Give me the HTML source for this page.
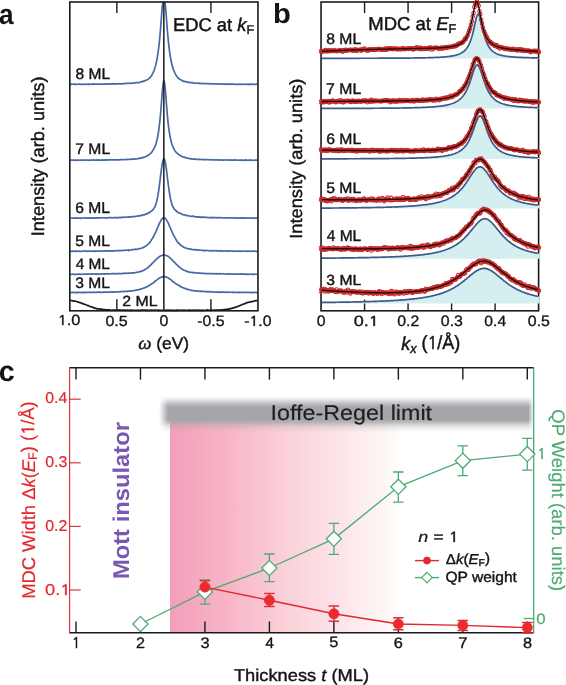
<!DOCTYPE html>
<html><head><meta charset="utf-8"><title>Figure</title>
<style>html,body{margin:0;padding:0;background:#fff;width:566px;height:685px;overflow:hidden}svg{display:block}</style></head>
<body><svg width="566" height="685" viewBox="0 0 566 685" font-family="'Liberation Sans', Arial, Helvetica, sans-serif" fill="#1a1a1a" text-rendering="geometricPrecision">
<rect width="566" height="685" fill="#fff"/>
<path d="M70.3,84.54 L70.93,83.99 L71.55,84.34 L72.18,84.22 L72.8,84.23 L73.43,84.26 L74.06,84.04 L74.68,84.25 L75.31,84.17 L75.93,84.67 L76.56,84.3 L77.19,84.23 L77.81,84.23 L78.44,84.18 L79.06,84.13 L79.69,84.21 L80.31,84.31 L80.94,84.22 L81.57,84.36 L82.19,84.22 L82.82,84.25 L83.44,84.43 L84.07,84.3 L84.7,84.17 L85.32,84.21 L85.95,84.29 L86.57,84.46 L87.2,84.19 L87.83,84.19 L88.45,84.33 L89.08,84.1 L89.7,84.17 L90.33,84.3 L90.96,84.26 L91.58,84.2 L92.21,84.27 L92.83,83.84 L93.46,84.3 L94.08,84.06 L94.71,83.97 L95.34,84.19 L95.96,84.24 L96.59,84.1 L97.21,84.02 L97.84,84.14 L98.47,84.13 L99.09,84.3 L99.72,84.21 L100.34,84.14 L100.97,84.24 L101.6,84.08 L102.22,83.98 L102.85,84.16 L103.47,84.15 L104.1,84.04 L104.73,83.97 L105.35,84.08 L105.98,83.75 L106.6,84.12 L107.23,84.09 L107.86,83.82 L108.48,84.02 L109.11,83.88 L109.73,84.08 L110.36,83.73 L110.98,83.86 L111.61,84.04 L112.24,84.08 L112.86,83.67 L113.49,83.86 L114.11,83.94 L114.74,83.82 L115.37,84.07 L115.99,83.72 L116.62,83.89 L117.24,83.7 L117.87,83.98 L118.5,83.79 L119.12,83.73 L119.75,83.55 L120.37,83.94 L121,83.8 L121.63,83.78 L122.25,83.81 L122.88,83.69 L123.5,83.54 L124.13,83.5 L124.76,83.47 L125.38,83.7 L126.01,83.33 L126.63,83.41 L127.26,83.41 L127.88,83.44 L128.51,83.44 L129.14,83.18 L129.76,83.09 L130.39,83.25 L131.01,83.35 L131.64,83.25 L132.27,83.13 L132.89,83.01 L133.52,83.03 L134.14,82.91 L134.77,82.97 L135.4,82.71 L136.02,82.74 L136.65,82.64 L137.27,82.63 L137.9,82.5 L138.53,82.69 L139.15,82.46 L139.78,82.34 L140.4,81.8 L141.03,81.87 L141.65,81.7 L142.28,81.68 L142.91,81.17 L143.53,81.4 L144.16,81.18 L144.78,80.67 L145.41,80.46 L146.04,80.2 L146.66,79.99 L147.29,79.7 L147.91,79.47 L148.54,78.75 L149.17,78.34 L149.79,77.67 L150.42,77.19 L151.04,76.28 L151.67,75.46 L152.3,74.14 L152.92,73.05 L153.55,71.61 L154.17,70.3 L154.8,68.37 L155.43,66.14 L156.05,63.66 L156.68,60.91 L157.3,57.43 L157.93,53.49 L158.55,49.08 L159.18,43.96 L159.81,37.41 L160.43,30.25 L161.06,22.27 L161.68,13.92 L162.31,6.13 L162.94,2.8 L163.56,2.8 L164.19,2.8 L164.81,2.8 L165.44,5.49 L166.07,13.23 L166.69,21.69 L167.32,29.73 L167.94,36.81 L168.57,43.15 L169.2,48.53 L169.82,53.22 L170.45,57.32 L171.07,60.55 L171.7,63.48 L172.32,66.09 L172.95,68.21 L173.58,70.19 L174.2,71.34 L174.83,73.08 L175.45,74.12 L176.08,75.24 L176.71,76.23 L177.33,77.05 L177.96,77.73 L178.58,78.22 L179.21,78.92 L179.84,79.16 L180.46,79.58 L181.09,80.05 L181.71,80.21 L182.34,80.82 L182.97,80.93 L183.59,81.3 L184.22,81.24 L184.84,81.39 L185.47,81.62 L186.1,81.85 L186.72,81.83 L187.35,82.08 L187.97,82.15 L188.6,82.46 L189.22,82.29 L189.85,82.59 L190.48,82.48 L191.1,82.53 L191.73,82.64 L192.35,82.65 L192.98,82.88 L193.61,83.05 L194.23,83.01 L194.86,83.12 L195.48,83.3 L196.11,83.19 L196.74,83.23 L197.36,83.21 L197.99,83.1 L198.61,83.42 L199.24,83.16 L199.87,83.49 L200.49,83.44 L201.12,83.61 L201.74,83.5 L202.37,83.44 L202.99,83.61 L203.62,83.53 L204.25,83.6 L204.87,83.65 L205.5,83.65 L206.12,83.67 L206.75,83.61 L207.38,83.71 L208,83.5 L208.63,83.75 L209.25,83.65 L209.88,83.94 L210.51,83.98 L211.13,83.61 L211.76,83.88 L212.38,83.86 L213.01,83.76 L213.64,83.97 L214.26,83.86 L214.89,83.72 L215.51,83.91 L216.14,83.94 L216.77,83.98 L217.39,83.83 L218.02,84.06 L218.64,84.09 L219.27,83.87 L219.89,83.94 L220.52,84.02 L221.15,83.97 L221.77,84.25 L222.4,84.08 L223.02,83.94 L223.65,83.98 L224.28,84.07 L224.9,84.36 L225.53,84.07 L226.15,84.11 L226.78,84.17 L227.41,84.11 L228.03,84.39 L228.66,84.06 L229.28,84.22 L229.91,84.16 L230.54,84.22 L231.16,84.01 L231.79,84.37 L232.41,84.15 L233.04,84.17 L233.67,84.06 L234.29,84.09 L234.92,84.25 L235.54,84.3 L236.17,84.28 L236.79,84.34 L237.42,84.28 L238.05,84.21 L238.67,84.31 L239.3,84.28 L239.92,84.2 L240.55,84.31 L241.18,84.38 L241.8,84.25 L242.43,84.19 L243.05,84.32 L243.68,84.46 L244.31,84.21 L244.93,84.23 L245.56,84.23 L246.18,84.4 L246.81,84.03 L247.44,84.3 L248.06,84.4 L248.69,84.16 L249.31,84.44 L249.94,84.33 L250.56,84.2 L251.19,84.3 L251.82,84.09 L252.44,84.21 L253.07,84.5 L253.69,84.17 L254.32,84.51 L254.95,84.28 L255.57,84.41 L256.2,84.3 L256.82,84.02 L257.45,84.23" fill="none" stroke="#4868a6" stroke-width="1.7" stroke-linejoin="round"/>
<path d="M70.3,160.22 L70.93,160.05 L71.55,160.03 L72.18,160.23 L72.8,160.11 L73.43,159.98 L74.06,160.1 L74.68,160.28 L75.31,160.12 L75.93,160.29 L76.56,160.36 L77.19,160.17 L77.81,160.03 L78.44,160.01 L79.06,160.16 L79.69,160.27 L80.31,160.19 L80.94,160.22 L81.57,160.1 L82.19,160.19 L82.82,160.09 L83.44,160.11 L84.07,159.99 L84.7,159.95 L85.32,160.08 L85.95,160 L86.57,160.02 L87.2,160.21 L87.83,160.11 L88.45,160.47 L89.08,160.23 L89.7,160.04 L90.33,160.2 L90.96,160.15 L91.58,160.02 L92.21,160.23 L92.83,160 L93.46,159.72 L94.08,160.18 L94.71,160.01 L95.34,160.26 L95.96,160 L96.59,159.93 L97.21,160.25 L97.84,159.93 L98.47,160.08 L99.09,160.22 L99.72,160.06 L100.34,160.03 L100.97,160.04 L101.6,160.13 L102.22,159.92 L102.85,160.09 L103.47,160.08 L104.1,160.28 L104.73,159.95 L105.35,159.88 L105.98,160.07 L106.6,159.92 L107.23,160 L107.86,159.97 L108.48,160.09 L109.11,159.86 L109.73,159.92 L110.36,159.61 L110.98,159.8 L111.61,160.08 L112.24,159.81 L112.86,159.8 L113.49,159.72 L114.11,159.93 L114.74,159.87 L115.37,159.69 L115.99,159.9 L116.62,159.84 L117.24,159.88 L117.87,159.7 L118.5,159.97 L119.12,159.8 L119.75,159.72 L120.37,159.65 L121,159.67 L121.63,159.78 L122.25,159.62 L122.88,159.77 L123.5,159.68 L124.13,159.75 L124.76,159.67 L125.38,159.54 L126.01,159.29 L126.63,159.53 L127.26,159.56 L127.88,159.45 L128.51,159.47 L129.14,159.31 L129.76,159.28 L130.39,159.18 L131.01,159.41 L131.64,159.22 L132.27,159.1 L132.89,158.95 L133.52,159.04 L134.14,159.17 L134.77,158.99 L135.4,158.79 L136.02,158.97 L136.65,158.9 L137.27,158.76 L137.9,158.65 L138.53,158.6 L139.15,158.42 L139.78,158.34 L140.4,158.03 L141.03,158.17 L141.65,157.87 L142.28,157.93 L142.91,157.27 L143.53,157.41 L144.16,157.24 L144.78,156.85 L145.41,156.7 L146.04,156.47 L146.66,156.15 L147.29,155.69 L147.91,155.38 L148.54,155.11 L149.17,154.7 L149.79,154.07 L150.42,153.52 L151.04,152.91 L151.67,152.32 L152.3,151.28 L152.92,150.36 L153.55,149.51 L154.17,148.19 L154.8,146.89 L155.43,145.37 L156.05,143.55 L156.68,141.15 L157.3,138.74 L157.93,135.26 L158.55,131.74 L159.18,126.9 L159.81,121.46 L160.43,115.23 L161.06,107.7 L161.68,99.62 L162.31,91.72 L162.94,85.18 L163.56,81.19 L164.19,81.03 L164.81,84.81 L165.44,91.09 L166.07,99.01 L166.69,107.06 L167.32,114.73 L167.94,121.25 L168.57,126.84 L169.2,131.33 L169.82,135.18 L170.45,138.51 L171.07,141.04 L171.7,143.43 L172.32,145.31 L172.95,146.75 L173.58,148.21 L174.2,149.39 L174.83,150.65 L175.45,151.65 L176.08,152.12 L176.71,152.84 L177.33,153.19 L177.96,154.04 L178.58,154.51 L179.21,154.83 L179.84,155.46 L180.46,155.54 L181.09,156.03 L181.71,156.37 L182.34,156.48 L182.97,156.98 L183.59,157.23 L184.22,157.14 L184.84,157.33 L185.47,157.74 L186.1,157.83 L186.72,157.83 L187.35,158.07 L187.97,158.22 L188.6,158.33 L189.22,158.55 L189.85,158.59 L190.48,158.85 L191.1,158.88 L191.73,158.88 L192.35,159 L192.98,159.09 L193.61,159.08 L194.23,158.9 L194.86,159.21 L195.48,159.16 L196.11,159.4 L196.74,159.26 L197.36,159.35 L197.99,159.36 L198.61,159.56 L199.24,159.42 L199.87,159.4 L200.49,159.5 L201.12,159.44 L201.74,159.54 L202.37,159.54 L202.99,159.6 L203.62,159.82 L204.25,159.56 L204.87,159.64 L205.5,159.63 L206.12,159.76 L206.75,159.55 L207.38,159.63 L208,159.72 L208.63,159.81 L209.25,159.76 L209.88,159.72 L210.51,159.69 L211.13,159.87 L211.76,159.99 L212.38,159.87 L213.01,159.87 L213.64,159.91 L214.26,159.75 L214.89,159.84 L215.51,159.86 L216.14,159.94 L216.77,159.91 L217.39,159.77 L218.02,160.06 L218.64,160.14 L219.27,159.91 L219.89,160 L220.52,159.99 L221.15,160.06 L221.77,159.8 L222.4,160.18 L223.02,159.94 L223.65,160.15 L224.28,160.02 L224.9,159.97 L225.53,160 L226.15,160.13 L226.78,159.93 L227.41,159.99 L228.03,159.98 L228.66,159.84 L229.28,160.21 L229.91,160.13 L230.54,160.06 L231.16,160.21 L231.79,159.96 L232.41,160.07 L233.04,160.29 L233.67,160.2 L234.29,159.82 L234.92,159.69 L235.54,159.97 L236.17,160.23 L236.79,160.05 L237.42,160.08 L238.05,160.19 L238.67,160.01 L239.3,160.15 L239.92,160.22 L240.55,160.18 L241.18,160.18 L241.8,160.06 L242.43,160.2 L243.05,160.09 L243.68,160.3 L244.31,160.45 L244.93,160.06 L245.56,159.89 L246.18,160.1 L246.81,160.2 L247.44,160.28 L248.06,160.29 L248.69,160.07 L249.31,160.07 L249.94,160.32 L250.56,160.04 L251.19,160.3 L251.82,160.15 L252.44,160.27 L253.07,160.26 L253.69,160.27 L254.32,160.28 L254.95,160.07 L255.57,160.22 L256.2,160.19 L256.82,160.23 L257.45,160.34" fill="none" stroke="#4868a6" stroke-width="1.7" stroke-linejoin="round"/>
<path d="M70.3,218.07 L70.93,218.01 L71.55,218.01 L72.18,218.05 L72.8,218.18 L73.43,217.99 L74.06,218.22 L74.68,218.11 L75.31,218.05 L75.93,217.91 L76.56,218.1 L77.19,218.15 L77.81,217.85 L78.44,218.2 L79.06,218.26 L79.69,218.1 L80.31,218.11 L80.94,218.34 L81.57,218.19 L82.19,217.93 L82.82,218.03 L83.44,218.01 L84.07,218.01 L84.7,217.74 L85.32,218.11 L85.95,217.94 L86.57,218.03 L87.2,217.99 L87.83,218.11 L88.45,217.96 L89.08,217.9 L89.7,218.05 L90.33,218.15 L90.96,217.94 L91.58,218.14 L92.21,218 L92.83,217.9 L93.46,218.14 L94.08,217.85 L94.71,218.07 L95.34,217.88 L95.96,217.99 L96.59,217.78 L97.21,217.82 L97.84,218.04 L98.47,217.93 L99.09,217.9 L99.72,217.84 L100.34,217.94 L100.97,217.71 L101.6,217.73 L102.22,217.84 L102.85,217.75 L103.47,217.76 L104.1,217.82 L104.73,217.81 L105.35,217.79 L105.98,218 L106.6,217.91 L107.23,217.93 L107.86,217.77 L108.48,217.7 L109.11,217.57 L109.73,217.69 L110.36,217.47 L110.98,217.64 L111.61,217.79 L112.24,217.88 L112.86,217.78 L113.49,217.55 L114.11,217.7 L114.74,217.53 L115.37,217.7 L115.99,217.57 L116.62,217.67 L117.24,217.86 L117.87,217.64 L118.5,217.79 L119.12,217.51 L119.75,217.43 L120.37,217.61 L121,217.63 L121.63,217.33 L122.25,217.38 L122.88,217.17 L123.5,217.29 L124.13,217.39 L124.76,217.25 L125.38,217.16 L126.01,217.02 L126.63,217.2 L127.26,217.22 L127.88,217.15 L128.51,217.07 L129.14,216.85 L129.76,217.16 L130.39,216.9 L131.01,216.84 L131.64,216.89 L132.27,216.49 L132.89,216.68 L133.52,216.61 L134.14,216.61 L134.77,216.66 L135.4,216.48 L136.02,216.13 L136.65,216.23 L137.27,216.2 L137.9,216.11 L138.53,215.84 L139.15,215.69 L139.78,215.84 L140.4,215.7 L141.03,215.52 L141.65,215.18 L142.28,215.46 L142.91,214.74 L143.53,214.88 L144.16,214.99 L144.78,214.53 L145.41,214.36 L146.04,213.97 L146.66,214.03 L147.29,213.44 L147.91,213.34 L148.54,213.01 L149.17,212.53 L149.79,212.39 L150.42,211.71 L151.04,211.34 L151.67,210.92 L152.3,210.3 L152.92,209.75 L153.55,209.04 L154.17,207.96 L154.8,206.79 L155.43,205.38 L156.05,203.62 L156.68,201.55 L157.3,198.69 L157.93,195.46 L158.55,191.49 L159.18,186.95 L159.81,182.27 L160.43,176.93 L161.06,172 L161.68,167.52 L162.31,163.28 L162.94,160.56 L163.56,158.85 L164.19,158.92 L164.81,160.21 L165.44,163.1 L166.07,166.93 L166.69,171.63 L167.32,176.84 L167.94,181.8 L168.57,186.75 L169.2,191.16 L169.82,195.09 L170.45,198.38 L171.07,201.04 L171.7,203.52 L172.32,205.51 L172.95,206.81 L173.58,207.85 L174.2,209.06 L174.83,209.59 L175.45,210.23 L176.08,210.74 L176.71,211.27 L177.33,211.81 L177.96,212.49 L178.58,212.6 L179.21,212.85 L179.84,213.21 L180.46,213.55 L181.09,213.64 L181.71,214.1 L182.34,214.4 L182.97,214.57 L183.59,214.8 L184.22,214.75 L184.84,214.87 L185.47,215.39 L186.1,215.51 L186.72,215.33 L187.35,215.67 L187.97,215.77 L188.6,215.94 L189.22,216.01 L189.85,216.02 L190.48,216.2 L191.1,216.28 L191.73,216.34 L192.35,216.2 L192.98,216.13 L193.61,216.47 L194.23,216.43 L194.86,216.72 L195.48,216.83 L196.11,216.83 L196.74,216.81 L197.36,216.91 L197.99,217.09 L198.61,216.91 L199.24,217.15 L199.87,217.16 L200.49,217.15 L201.12,217.33 L201.74,217.1 L202.37,217.34 L202.99,217.14 L203.62,217.19 L204.25,217.19 L204.87,217.4 L205.5,217.26 L206.12,217.4 L206.75,217.28 L207.38,217.57 L208,217.69 L208.63,217.52 L209.25,217.71 L209.88,217.6 L210.51,217.81 L211.13,217.58 L211.76,217.4 L212.38,217.78 L213.01,217.61 L213.64,217.51 L214.26,217.57 L214.89,217.47 L215.51,217.66 L216.14,217.57 L216.77,217.89 L217.39,217.8 L218.02,217.54 L218.64,217.57 L219.27,217.69 L219.89,217.54 L220.52,217.77 L221.15,217.79 L221.77,217.71 L222.4,217.75 L223.02,217.88 L223.65,218 L224.28,218.02 L224.9,217.85 L225.53,217.96 L226.15,217.78 L226.78,217.92 L227.41,217.77 L228.03,217.98 L228.66,217.75 L229.28,217.79 L229.91,217.91 L230.54,217.99 L231.16,217.75 L231.79,217.87 L232.41,217.96 L233.04,217.97 L233.67,217.85 L234.29,217.97 L234.92,217.93 L235.54,218.14 L236.17,218.04 L236.79,217.82 L237.42,217.72 L238.05,218 L238.67,218.14 L239.3,218.02 L239.92,218.11 L240.55,217.95 L241.18,217.85 L241.8,218.11 L242.43,218.03 L243.05,218.11 L243.68,217.86 L244.31,218.05 L244.93,217.96 L245.56,218.14 L246.18,217.97 L246.81,217.97 L247.44,217.98 L248.06,218.21 L248.69,218.06 L249.31,217.97 L249.94,217.94 L250.56,217.94 L251.19,218.25 L251.82,217.86 L252.44,217.97 L253.07,218.16 L253.69,218.22 L254.32,218.07 L254.95,218.18 L255.57,218.18 L256.2,218.21 L256.82,218.1 L257.45,218.3" fill="none" stroke="#4868a6" stroke-width="1.7" stroke-linejoin="round"/>
<path d="M70.3,251.31 L70.93,251.46 L71.55,251.15 L72.18,251.39 L72.8,251.12 L73.43,251.09 L74.06,251.33 L74.68,251.16 L75.31,251.31 L75.93,251.13 L76.56,251.45 L77.19,251.25 L77.81,251.11 L78.44,251.27 L79.06,251.35 L79.69,251.15 L80.31,251.3 L80.94,251.48 L81.57,251.33 L82.19,251.22 L82.82,251.15 L83.44,251.28 L84.07,251.03 L84.7,250.84 L85.32,251.12 L85.95,251.07 L86.57,251.4 L87.2,251.2 L87.83,251.06 L88.45,251.04 L89.08,251.23 L89.7,251.07 L90.33,251.09 L90.96,251.15 L91.58,251.16 L92.21,251.16 L92.83,251.15 L93.46,251.29 L94.08,251.33 L94.71,250.92 L95.34,251.42 L95.96,251.12 L96.59,251.25 L97.21,251 L97.84,251.12 L98.47,251.1 L99.09,251.08 L99.72,251.16 L100.34,251.13 L100.97,250.92 L101.6,251.02 L102.22,251.11 L102.85,251.1 L103.47,250.97 L104.1,250.96 L104.73,250.97 L105.35,250.84 L105.98,250.81 L106.6,251.14 L107.23,250.89 L107.86,250.94 L108.48,250.83 L109.11,251.06 L109.73,251.1 L110.36,250.85 L110.98,250.92 L111.61,250.75 L112.24,251.04 L112.86,250.93 L113.49,250.7 L114.11,250.93 L114.74,250.81 L115.37,250.79 L115.99,250.77 L116.62,250.63 L117.24,250.62 L117.87,250.74 L118.5,250.64 L119.12,250.5 L119.75,250.84 L120.37,250.54 L121,250.48 L121.63,250.43 L122.25,250.57 L122.88,250.57 L123.5,250.46 L124.13,250.5 L124.76,250.18 L125.38,250.28 L126.01,250.23 L126.63,250.25 L127.26,250.27 L127.88,249.92 L128.51,250.5 L129.14,249.97 L129.76,250.07 L130.39,250.08 L131.01,250.02 L131.64,249.89 L132.27,249.45 L132.89,249.61 L133.52,249.76 L134.14,249.49 L134.77,249.39 L135.4,249.15 L136.02,249.49 L136.65,249.31 L137.27,249.04 L137.9,249.02 L138.53,248.9 L139.15,248.64 L139.78,248.59 L140.4,248.5 L141.03,248.35 L141.65,248.24 L142.28,247.88 L142.91,247.57 L143.53,247.41 L144.16,246.98 L144.78,246.58 L145.41,246.49 L146.04,245.9 L146.66,245.5 L147.29,245.06 L147.91,244.28 L148.54,243.87 L149.17,243.17 L149.79,242.36 L150.42,241.61 L151.04,240.59 L151.67,239.46 L152.3,238.66 L152.92,237.49 L153.55,236.53 L154.17,235.23 L154.8,233.83 L155.43,232.55 L156.05,231.31 L156.68,229.85 L157.3,228.3 L157.93,226.85 L158.55,225.33 L159.18,223.95 L159.81,222.72 L160.43,221.41 L161.06,220.38 L161.68,219.29 L162.31,218.5 L162.94,218 L163.56,217.89 L164.19,218.09 L164.81,218.31 L165.44,218.53 L166.07,219.17 L166.69,220.36 L167.32,221.39 L167.94,222.38 L168.57,223.99 L169.2,225.27 L169.82,226.84 L170.45,228.18 L171.07,229.7 L171.7,231.07 L172.32,232.32 L172.95,233.76 L173.58,235.01 L174.2,236.43 L174.83,237.39 L175.45,238.43 L176.08,239.73 L176.71,240.74 L177.33,241.67 L177.96,242.44 L178.58,242.88 L179.21,243.66 L179.84,244.3 L180.46,244.93 L181.09,245.19 L181.71,245.91 L182.34,246.36 L182.97,246.58 L183.59,247.05 L184.22,247.48 L184.84,247.61 L185.47,247.98 L186.1,248.19 L186.72,248.32 L187.35,248.5 L187.97,248.57 L188.6,248.91 L189.22,248.84 L189.85,248.93 L190.48,249.22 L191.1,249.15 L191.73,249.38 L192.35,249.55 L192.98,249.52 L193.61,249.6 L194.23,249.77 L194.86,249.82 L195.48,249.61 L196.11,249.7 L196.74,250.07 L197.36,250.01 L197.99,249.77 L198.61,249.91 L199.24,250.12 L199.87,250.04 L200.49,250.26 L201.12,250.25 L201.74,250.34 L202.37,250.18 L202.99,250.43 L203.62,250.62 L204.25,250.32 L204.87,250.61 L205.5,250.6 L206.12,250.58 L206.75,250.53 L207.38,250.42 L208,250.48 L208.63,250.7 L209.25,250.75 L209.88,250.8 L210.51,250.79 L211.13,250.81 L211.76,250.67 L212.38,250.59 L213.01,250.78 L213.64,250.83 L214.26,250.8 L214.89,250.62 L215.51,250.76 L216.14,250.66 L216.77,250.87 L217.39,250.74 L218.02,250.86 L218.64,250.93 L219.27,250.92 L219.89,251.08 L220.52,250.8 L221.15,250.68 L221.77,251.07 L222.4,251.14 L223.02,251.15 L223.65,251.02 L224.28,251.06 L224.9,251.02 L225.53,250.86 L226.15,250.96 L226.78,251.1 L227.41,250.98 L228.03,251.28 L228.66,250.88 L229.28,251.02 L229.91,251.21 L230.54,251.01 L231.16,250.96 L231.79,250.94 L232.41,251.02 L233.04,251.3 L233.67,251.17 L234.29,251.19 L234.92,251.07 L235.54,251.24 L236.17,251.16 L236.79,251.04 L237.42,251.1 L238.05,251.19 L238.67,251.31 L239.3,251.17 L239.92,251.24 L240.55,251.43 L241.18,251.09 L241.8,251.05 L242.43,251.32 L243.05,251.26 L243.68,251.2 L244.31,251.24 L244.93,251.18 L245.56,251.28 L246.18,251.18 L246.81,251.33 L247.44,251.09 L248.06,251.14 L248.69,251.25 L249.31,251.19 L249.94,251.33 L250.56,251.25 L251.19,251.19 L251.82,251.28 L252.44,251.2 L253.07,251.08 L253.69,251.13 L254.32,251.18 L254.95,251.22 L255.57,251.29 L256.2,251.39 L256.82,251.35 L257.45,251.5" fill="none" stroke="#4868a6" stroke-width="1.7" stroke-linejoin="round"/>
<path d="M70.3,274.41 L70.93,274.23 L71.55,274.44 L72.18,274.38 L72.8,274.18 L73.43,274.27 L74.06,274.36 L74.68,274.26 L75.31,274.35 L75.93,274.27 L76.56,274.3 L77.19,274.17 L77.81,274.25 L78.44,274.16 L79.06,274.28 L79.69,273.99 L80.31,274.23 L80.94,274.33 L81.57,274.25 L82.19,274.17 L82.82,274.23 L83.44,274.06 L84.07,274.06 L84.7,274.11 L85.32,274.13 L85.95,274.26 L86.57,274.03 L87.2,274.25 L87.83,273.94 L88.45,274.03 L89.08,274.11 L89.7,274.25 L90.33,274.03 L90.96,273.84 L91.58,274.14 L92.21,274.08 L92.83,273.94 L93.46,273.94 L94.08,273.98 L94.71,274.06 L95.34,274.12 L95.96,273.86 L96.59,274.3 L97.21,274.02 L97.84,273.97 L98.47,274.08 L99.09,274.01 L99.72,274.27 L100.34,274.11 L100.97,273.92 L101.6,273.91 L102.22,273.89 L102.85,273.9 L103.47,274.01 L104.1,273.84 L104.73,274.1 L105.35,273.89 L105.98,273.87 L106.6,273.99 L107.23,273.62 L107.86,273.74 L108.48,273.91 L109.11,273.82 L109.73,273.81 L110.36,273.84 L110.98,273.71 L111.61,273.75 L112.24,273.59 L112.86,273.51 L113.49,273.88 L114.11,273.6 L114.74,273.61 L115.37,273.84 L115.99,273.79 L116.62,273.58 L117.24,273.56 L117.87,273.59 L118.5,273.47 L119.12,273.63 L119.75,273.56 L120.37,273.54 L121,273.59 L121.63,273.57 L122.25,273.68 L122.88,273.62 L123.5,273.21 L124.13,273.49 L124.76,273.23 L125.38,273.16 L126.01,273.39 L126.63,273.19 L127.26,273.21 L127.88,273.34 L128.51,273.1 L129.14,273.03 L129.76,273.14 L130.39,273.21 L131.01,273.08 L131.64,272.78 L132.27,272.84 L132.89,272.84 L133.52,273.03 L134.14,272.84 L134.77,272.76 L135.4,272.72 L136.02,272.44 L136.65,272.44 L137.27,272.33 L137.9,272.03 L138.53,272.01 L139.15,271.93 L139.78,271.57 L140.4,271.61 L141.03,271.4 L141.65,271.21 L142.28,270.75 L142.91,270.59 L143.53,270.46 L144.16,270.07 L144.78,269.54 L145.41,269.29 L146.04,269.03 L146.66,268.43 L147.29,268.03 L147.91,267.81 L148.54,266.99 L149.17,266.44 L149.79,265.77 L150.42,265.23 L151.04,264.88 L151.67,264.06 L152.3,263.3 L152.92,262.68 L153.55,262.14 L154.17,261.58 L154.8,260.74 L155.43,260.28 L156.05,259.5 L156.68,259 L157.3,258.43 L157.93,257.89 L158.55,257.25 L159.18,256.8 L159.81,256.46 L160.43,255.87 L161.06,255.72 L161.68,255.5 L162.31,255.36 L162.94,255.1 L163.56,255.01 L164.19,255.05 L164.81,255.01 L165.44,255.2 L166.07,255.47 L166.69,255.71 L167.32,255.87 L167.94,256.32 L168.57,256.53 L169.2,257.35 L169.82,257.71 L170.45,258.35 L171.07,258.77 L171.7,259.5 L172.32,260.19 L172.95,260.9 L173.58,261.27 L174.2,262.18 L174.83,262.72 L175.45,263.29 L176.08,264.08 L176.71,264.61 L177.33,265.22 L177.96,265.75 L178.58,266.43 L179.21,266.95 L179.84,267.43 L180.46,267.82 L181.09,268.33 L181.71,268.87 L182.34,269.38 L182.97,269.59 L183.59,270.11 L184.22,270.26 L184.84,270.42 L185.47,270.9 L186.1,270.95 L186.72,271.34 L187.35,271.62 L187.97,271.64 L188.6,271.83 L189.22,272.29 L189.85,272.16 L190.48,272.29 L191.1,272.46 L191.73,272.45 L192.35,272.55 L192.98,272.69 L193.61,272.43 L194.23,272.95 L194.86,272.72 L195.48,272.77 L196.11,273.02 L196.74,273.01 L197.36,272.9 L197.99,273.12 L198.61,272.99 L199.24,273.08 L199.87,273.02 L200.49,273.14 L201.12,273.31 L201.74,273.31 L202.37,273.36 L202.99,273.46 L203.62,273.37 L204.25,273.32 L204.87,273.39 L205.5,273.65 L206.12,273.48 L206.75,273.53 L207.38,273.51 L208,273.57 L208.63,273.61 L209.25,273.58 L209.88,273.58 L210.51,273.52 L211.13,273.53 L211.76,273.7 L212.38,273.76 L213.01,273.79 L213.64,273.71 L214.26,273.62 L214.89,273.81 L215.51,273.82 L216.14,273.58 L216.77,273.87 L217.39,273.86 L218.02,274 L218.64,273.68 L219.27,273.67 L219.89,273.93 L220.52,273.64 L221.15,273.78 L221.77,273.75 L222.4,273.77 L223.02,273.67 L223.65,273.88 L224.28,274.04 L224.9,273.98 L225.53,273.99 L226.15,273.91 L226.78,274.13 L227.41,274.03 L228.03,274.1 L228.66,273.8 L229.28,274.04 L229.91,273.87 L230.54,274.05 L231.16,274.05 L231.79,273.89 L232.41,274.06 L233.04,274.18 L233.67,274.11 L234.29,274.13 L234.92,273.96 L235.54,273.99 L236.17,273.95 L236.79,274.1 L237.42,274.24 L238.05,274.15 L238.67,274.11 L239.3,273.98 L239.92,274.17 L240.55,274.1 L241.18,273.9 L241.8,273.93 L242.43,274.1 L243.05,274.04 L243.68,274.35 L244.31,274.16 L244.93,274.04 L245.56,274.11 L246.18,274.36 L246.81,274.07 L247.44,274.28 L248.06,274.24 L248.69,274.37 L249.31,274.26 L249.94,274.15 L250.56,274.27 L251.19,274.22 L251.82,274.33 L252.44,274.21 L253.07,274.46 L253.69,274.21 L254.32,274.28 L254.95,274.16 L255.57,274.25 L256.2,274.25 L256.82,274.27 L257.45,274.36" fill="none" stroke="#4868a6" stroke-width="1.7" stroke-linejoin="round"/>
<path d="M70.3,292.44 L70.93,292.4 L71.55,292.63 L72.18,292.46 L72.8,292.41 L73.43,292.63 L74.06,292.58 L74.68,292.17 L75.31,292.43 L75.93,292.57 L76.56,292.57 L77.19,292.41 L77.81,292.65 L78.44,292.37 L79.06,292.43 L79.69,292.47 L80.31,292.45 L80.94,292.54 L81.57,292.56 L82.19,292.43 L82.82,292.6 L83.44,292.34 L84.07,292.4 L84.7,292.62 L85.32,292.42 L85.95,292.53 L86.57,292.35 L87.2,292.36 L87.83,292.38 L88.45,292.41 L89.08,292.34 L89.7,292.38 L90.33,292.45 L90.96,292.51 L91.58,292.37 L92.21,292.43 L92.83,292.45 L93.46,292.21 L94.08,292.14 L94.71,292.51 L95.34,292.47 L95.96,292.31 L96.59,292.34 L97.21,292.18 L97.84,292.12 L98.47,292.31 L99.09,292.09 L99.72,292.36 L100.34,292.16 L100.97,292.27 L101.6,292.46 L102.22,292.44 L102.85,292.17 L103.47,292.32 L104.1,292.06 L104.73,292.1 L105.35,292.21 L105.98,292.32 L106.6,292.07 L107.23,292.19 L107.86,292.12 L108.48,291.95 L109.11,292.07 L109.73,292.25 L110.36,292.04 L110.98,292.1 L111.61,292.12 L112.24,291.92 L112.86,292.14 L113.49,292.15 L114.11,292.14 L114.74,292.09 L115.37,291.86 L115.99,291.82 L116.62,291.78 L117.24,291.74 L117.87,291.73 L118.5,291.92 L119.12,291.95 L119.75,291.68 L120.37,291.82 L121,291.55 L121.63,291.63 L122.25,291.52 L122.88,291.41 L123.5,291.58 L124.13,291.54 L124.76,291.45 L125.38,291.4 L126.01,291.3 L126.63,291.36 L127.26,291.25 L127.88,291.31 L128.51,291.08 L129.14,291.2 L129.76,291.17 L130.39,291.2 L131.01,291.11 L131.64,290.93 L132.27,290.75 L132.89,290.54 L133.52,290.67 L134.14,290.75 L134.77,290.68 L135.4,290.07 L136.02,290.17 L136.65,290.1 L137.27,289.89 L137.9,289.91 L138.53,289.74 L139.15,289.52 L139.78,289.42 L140.4,289.06 L141.03,288.94 L141.65,288.75 L142.28,288.76 L142.91,288.23 L143.53,288.17 L144.16,288.04 L144.78,287.67 L145.41,287.5 L146.04,287.03 L146.66,286.85 L147.29,286.58 L147.91,286.4 L148.54,285.86 L149.17,285.57 L149.79,285.02 L150.42,284.63 L151.04,284.39 L151.67,283.84 L152.3,283.49 L152.92,282.95 L153.55,282.66 L154.17,282.22 L154.8,281.35 L155.43,281.19 L156.05,280.54 L156.68,280.07 L157.3,279.54 L157.93,279.18 L158.55,278.53 L159.18,278.17 L159.81,277.8 L160.43,277.59 L161.06,277.37 L161.68,277.11 L162.31,276.88 L162.94,276.64 L163.56,276.43 L164.19,276.69 L164.81,276.72 L165.44,276.86 L166.07,277.18 L166.69,277.22 L167.32,277.5 L167.94,277.58 L168.57,278.3 L169.2,278.63 L169.82,278.98 L170.45,279.56 L171.07,279.85 L171.7,280.39 L172.32,281.17 L172.95,281.51 L173.58,282.01 L174.2,282.46 L174.83,282.91 L175.45,283.31 L176.08,284.01 L176.71,284.16 L177.33,284.67 L177.96,284.96 L178.58,285.33 L179.21,285.46 L179.84,285.87 L180.46,286.63 L181.09,286.95 L181.71,287.03 L182.34,287.37 L182.97,287.73 L183.59,287.8 L184.22,288.39 L184.84,288.29 L185.47,288.55 L186.1,288.52 L186.72,289.23 L187.35,289.24 L187.97,289.6 L188.6,289.45 L189.22,289.77 L189.85,289.88 L190.48,290.03 L191.1,290.39 L191.73,290.53 L192.35,290.53 L192.98,290.43 L193.61,290.68 L194.23,290.82 L194.86,290.82 L195.48,290.9 L196.11,290.96 L196.74,290.87 L197.36,291.07 L197.99,291.3 L198.61,291.05 L199.24,291.23 L199.87,291.37 L200.49,291.16 L201.12,291.35 L201.74,291.21 L202.37,291.38 L202.99,291.33 L203.62,291.42 L204.25,291.51 L204.87,291.57 L205.5,291.61 L206.12,291.38 L206.75,291.88 L207.38,291.69 L208,291.62 L208.63,291.7 L209.25,291.84 L209.88,291.7 L210.51,291.8 L211.13,291.81 L211.76,291.95 L212.38,291.82 L213.01,291.98 L213.64,291.99 L214.26,291.95 L214.89,292.13 L215.51,292 L216.14,291.88 L216.77,292.07 L217.39,292.06 L218.02,292.06 L218.64,292.11 L219.27,292.38 L219.89,292.13 L220.52,292.18 L221.15,292.1 L221.77,292.3 L222.4,292.15 L223.02,292.07 L223.65,292.03 L224.28,292.25 L224.9,292.29 L225.53,292.02 L226.15,292.14 L226.78,292.31 L227.41,292.36 L228.03,292.09 L228.66,292.21 L229.28,292.37 L229.91,292.21 L230.54,292.23 L231.16,292.23 L231.79,292.14 L232.41,292.31 L233.04,292.35 L233.67,292.16 L234.29,292.34 L234.92,292.47 L235.54,292.37 L236.17,292.46 L236.79,292.29 L237.42,292.53 L238.05,292.27 L238.67,292.6 L239.3,292.33 L239.92,292.3 L240.55,292.29 L241.18,292.35 L241.8,292.34 L242.43,292.33 L243.05,292.37 L243.68,292.5 L244.31,292.53 L244.93,292.39 L245.56,292.58 L246.18,292.32 L246.81,292.32 L247.44,292.31 L248.06,292.52 L248.69,292.27 L249.31,292.29 L249.94,292.62 L250.56,292.67 L251.19,292.63 L251.82,292.29 L252.44,292.48 L253.07,292.58 L253.69,292.5 L254.32,292.29 L254.95,292.45 L255.57,292.29 L256.2,292.35 L256.82,292.76 L257.45,292.58" fill="none" stroke="#4868a6" stroke-width="1.7" stroke-linejoin="round"/>
<path d="M70.3,300.34 L70.93,300.42 L71.55,300.73 L72.18,300.69 L72.8,300.93 L73.43,300.89 L74.06,301.06 L74.68,301.23 L75.31,301.2 L75.93,301.23 L76.56,301.47 L77.19,301.68 L77.81,301.91 L78.44,302.1 L79.06,302.28 L79.69,302.54 L80.31,302.58 L80.94,303.06 L81.57,303.35 L82.19,303.38 L82.82,303.6 L83.44,303.96 L84.07,304.14 L84.7,304.33 L85.32,304.54 L85.95,304.73 L86.57,304.93 L87.2,305.4 L87.83,305.72 L88.45,305.7 L89.08,306.07 L89.7,306.34 L90.33,306.5 L90.96,306.69 L91.58,306.96 L92.21,306.98 L92.83,307.42 L93.46,307.59 L94.08,308.06 L94.71,308.1 L95.34,308.12 L95.96,308.32 L96.59,308.67 L97.21,308.8 L97.84,308.76 L98.47,308.85 L99.09,308.81 L99.72,309.05 L100.34,309.17 L100.97,309.19 L101.6,309.57 L102.22,309.22 L102.85,309.5 L103.47,309.63 L104.1,309.7 L104.73,309.9 L105.35,309.59 L105.98,309.71 L106.6,309.86 L107.23,309.9 L107.86,309.87 L108.48,309.86 L109.11,310.11 L109.73,309.89 L110.36,309.97 L110.98,310.23 L111.61,310.29 L112.24,310.21 L112.86,310.02 L113.49,310.03 L114.11,310.04 L114.74,310.03 L115.37,310.13 L115.99,310.34 L116.62,310.22 L117.24,310.12 L117.87,310.12 L118.5,310.08 L119.12,310.37 L119.75,309.99 L120.37,310.27 L121,310.07 L121.63,310.12 L122.25,310.08 L122.88,310.37 L123.5,310.25 L124.13,310.59 L124.76,310.14 L125.38,310.14 L126.01,310.34 L126.63,310.34 L127.26,310.24 L127.88,310.04 L128.51,310.45 L129.14,310.35 L129.76,310.33 L130.39,310.21 L131.01,310.36 L131.64,310.22 L132.27,310.29 L132.89,310.26 L133.52,310.44 L134.14,310.23 L134.77,310.25 L135.4,310.42 L136.02,310.32 L136.65,310.29 L137.27,310.26 L137.9,310.4 L138.53,310.21 L139.15,310.35 L139.78,310.53 L140.4,310.34 L141.03,310.2 L141.65,310.15 L142.28,310.31 L142.91,310.14 L143.53,310.1 L144.16,310.2 L144.78,310.16 L145.41,310.4 L146.04,310.12 L146.66,310.48 L147.29,310.2 L147.91,310.31 L148.54,310.37 L149.17,310.32 L149.79,310.38 L150.42,310.17 L151.04,310.02 L151.67,310.27 L152.3,310.09 L152.92,310.22 L153.55,310.4 L154.17,310.27 L154.8,310.22 L155.43,310.16 L156.05,310.26 L156.68,310.27 L157.3,310.1 L157.93,310.33 L158.55,310.16 L159.18,310.32 L159.81,310.24 L160.43,310.41 L161.06,310.39 L161.68,310.29 L162.31,310.28 L162.94,310.34 L163.56,310.46 L164.19,310.42 L164.81,310.31 L165.44,310.33 L166.07,310.48 L166.69,310.1 L167.32,310.36 L167.94,310.19 L168.57,310.46 L169.2,310.23 L169.82,310.28 L170.45,310.16 L171.07,310.3 L171.7,310.39 L172.32,310.5 L172.95,310.14 L173.58,310.24 L174.2,310.77 L174.83,310.41 L175.45,310.3 L176.08,310.36 L176.71,309.98 L177.33,310.49 L177.96,310.32 L178.58,310.13 L179.21,310.44 L179.84,310.22 L180.46,310.17 L181.09,310.36 L181.71,310.35 L182.34,310.24 L182.97,310.29 L183.59,310.14 L184.22,310.12 L184.84,310.41 L185.47,310.46 L186.1,310.35 L186.72,310.34 L187.35,310.25 L187.97,310.28 L188.6,310.18 L189.22,310.51 L189.85,310.23 L190.48,310.35 L191.1,310.3 L191.73,310.13 L192.35,310.53 L192.98,310.25 L193.61,310.2 L194.23,310.31 L194.86,310.18 L195.48,310.29 L196.11,310.17 L196.74,310.36 L197.36,310.29 L197.99,310.12 L198.61,310.41 L199.24,310.31 L199.87,310.15 L200.49,310.32 L201.12,310.33 L201.74,310.5 L202.37,310.17 L202.99,310.37 L203.62,310.26 L204.25,310.34 L204.87,310.23 L205.5,310.25 L206.12,310.31 L206.75,310.11 L207.38,309.99 L208,310.24 L208.63,310.18 L209.25,310.24 L209.88,310.3 L210.51,310.18 L211.13,310.35 L211.76,310.19 L212.38,310.2 L213.01,310.27 L213.64,310.23 L214.26,310.13 L214.89,310.14 L215.51,310.02 L216.14,310.02 L216.77,310.08 L217.39,310.14 L218.02,309.97 L218.64,310.09 L219.27,310.2 L219.89,310.19 L220.52,309.9 L221.15,309.98 L221.77,309.88 L222.4,309.86 L223.02,309.81 L223.65,309.72 L224.28,309.7 L224.9,309.55 L225.53,309.43 L226.15,309.41 L226.78,309.35 L227.41,309.35 L228.03,309.15 L228.66,309.09 L229.28,309.06 L229.91,308.65 L230.54,308.6 L231.16,308.55 L231.79,308.34 L232.41,308.06 L233.04,308.13 L233.67,307.83 L234.29,307.53 L234.92,307.68 L235.54,307.09 L236.17,307.03 L236.79,306.73 L237.42,306.59 L238.05,306.41 L238.67,306 L239.3,305.84 L239.92,305.59 L240.55,305.23 L241.18,305.24 L241.8,304.86 L242.43,304.55 L243.05,304.25 L243.68,304.05 L244.31,303.86 L244.93,303.54 L245.56,303.52 L246.18,302.83 L246.81,302.66 L247.44,302.68 L248.06,302.28 L248.69,302.3 L249.31,302.05 L249.94,302.02 L250.56,301.84 L251.19,301.79 L251.82,301.59 L252.44,301.5 L253.07,301.28 L253.69,301.22 L254.32,301.04 L254.95,300.81 L255.57,300.63 L256.2,300.55 L256.82,300.67 L257.45,300.25" fill="none" stroke="#1a1a1a" stroke-width="1.7"/>
<line x1="163.85" y1="2.0" x2="163.85" y2="310.8" stroke="#1a1a1a" stroke-width="1.5"/>
<rect x="69.8" y="2.0" width="188.15" height="308.8" fill="none" stroke="#1a1a1a" stroke-width="1.6"/>
<line x1="116.86" y1="2.0" x2="116.86" y2="13.0" stroke="#1a1a1a" stroke-width="1.4"/>
<line x1="116.86" y1="310.8" x2="116.86" y2="299.3" stroke="#1a1a1a" stroke-width="1.4"/>
<line x1="210.94" y1="2.0" x2="210.94" y2="13.0" stroke="#1a1a1a" stroke-width="1.4"/>
<line x1="210.94" y1="310.8" x2="210.94" y2="299.3" stroke="#1a1a1a" stroke-width="1.4"/>
<rect x="321.05" y="2.0" width="217.55" height="308.8" fill="none" stroke="#1a1a1a" stroke-width="1.6"/>
<line x1="364.56" y1="2.0" x2="364.56" y2="13.0" stroke="#1a1a1a" stroke-width="1.4"/>
<line x1="364.56" y1="310.8" x2="364.56" y2="299.6" stroke="#1a1a1a" stroke-width="1.4"/>
<line x1="408.07" y1="2.0" x2="408.07" y2="13.0" stroke="#1a1a1a" stroke-width="1.4"/>
<line x1="408.07" y1="310.8" x2="408.07" y2="299.6" stroke="#1a1a1a" stroke-width="1.4"/>
<line x1="451.58" y1="2.0" x2="451.58" y2="13.0" stroke="#1a1a1a" stroke-width="1.4"/>
<line x1="451.58" y1="310.8" x2="451.58" y2="299.6" stroke="#1a1a1a" stroke-width="1.4"/>
<line x1="495.09" y1="2.0" x2="495.09" y2="13.0" stroke="#1a1a1a" stroke-width="1.4"/>
<line x1="495.09" y1="310.8" x2="495.09" y2="299.6" stroke="#1a1a1a" stroke-width="1.4"/>
<defs><clipPath id="cf"><rect x="321.85" y="0" width="217.85000000000002" height="312"/></clipPath><clipPath id="cb"><rect x="321.85" y="-3.0" width="215.95000000000002" height="313.8"/></clipPath><clipPath id="cc"><rect x="318.8" y="-5" width="222.3" height="316"/></clipPath></defs>
<g clip-path="url(#cf)">
<path d="M321.85,58.33 L322.58,58.33 L323.31,58.33 L324.04,58.33 L324.76,58.33 L325.49,58.32 L326.22,58.32 L326.95,58.32 L327.68,58.32 L328.41,58.32 L329.14,58.32 L329.86,58.32 L330.59,58.32 L331.32,58.32 L332.05,58.32 L332.78,58.32 L333.51,58.32 L334.24,58.32 L334.96,58.31 L335.69,58.31 L336.42,58.31 L337.15,58.31 L337.88,58.31 L338.61,58.31 L339.34,58.31 L340.06,58.31 L340.79,58.31 L341.52,58.31 L342.25,58.3 L342.98,58.3 L343.71,58.3 L344.44,58.3 L345.17,58.3 L345.89,58.3 L346.62,58.3 L347.35,58.3 L348.08,58.3 L348.81,58.3 L349.54,58.29 L350.27,58.29 L350.99,58.29 L351.72,58.29 L352.45,58.29 L353.18,58.29 L353.91,58.29 L354.64,58.29 L355.37,58.28 L356.09,58.28 L356.82,58.28 L357.55,58.28 L358.28,58.28 L359.01,58.28 L359.74,58.27 L360.47,58.27 L361.19,58.27 L361.92,58.27 L362.65,58.27 L363.38,58.27 L364.11,58.27 L364.84,58.26 L365.57,58.26 L366.29,58.26 L367.02,58.26 L367.75,58.26 L368.48,58.25 L369.21,58.25 L369.94,58.25 L370.67,58.25 L371.39,58.25 L372.12,58.24 L372.85,58.24 L373.58,58.24 L374.31,58.24 L375.04,58.24 L375.77,58.23 L376.49,58.23 L377.22,58.23 L377.95,58.23 L378.68,58.22 L379.41,58.22 L380.14,58.22 L380.87,58.22 L381.59,58.21 L382.32,58.21 L383.05,58.21 L383.78,58.2 L384.51,58.2 L385.24,58.2 L385.97,58.19 L386.69,58.19 L387.42,58.19 L388.15,58.18 L388.88,58.18 L389.61,58.18 L390.34,58.17 L391.07,58.17 L391.8,58.17 L392.52,58.16 L393.25,58.16 L393.98,58.15 L394.71,58.15 L395.44,58.14 L396.17,58.14 L396.9,58.14 L397.62,58.13 L398.35,58.13 L399.08,58.12 L399.81,58.12 L400.54,58.11 L401.27,58.11 L402,58.1 L402.72,58.09 L403.45,58.09 L404.18,58.08 L404.91,58.08 L405.64,58.07 L406.37,58.06 L407.1,58.06 L407.82,58.05 L408.55,58.04 L409.28,58.03 L410.01,58.03 L410.74,58.02 L411.47,58.01 L412.2,58 L412.92,57.99 L413.65,57.98 L414.38,57.97 L415.11,57.96 L415.84,57.95 L416.57,57.94 L417.3,57.93 L418.02,57.92 L418.75,57.91 L419.48,57.9 L420.21,57.88 L420.94,57.87 L421.67,57.86 L422.4,57.84 L423.12,57.83 L423.85,57.81 L424.58,57.8 L425.31,57.78 L426.04,57.76 L426.77,57.75 L427.5,57.73 L428.22,57.71 L428.95,57.69 L429.68,57.67 L430.41,57.64 L431.14,57.62 L431.87,57.6 L432.6,57.57 L433.33,57.55 L434.05,57.52 L434.78,57.49 L435.51,57.46 L436.24,57.43 L436.97,57.39 L437.7,57.36 L438.43,57.32 L439.15,57.28 L439.88,57.24 L440.61,57.19 L441.34,57.15 L442.07,57.1 L442.8,57.04 L443.53,56.99 L444.25,56.93 L444.98,56.87 L445.71,56.8 L446.44,56.73 L447.17,56.65 L447.9,56.57 L448.63,56.49 L449.35,56.39 L450.08,56.29 L450.81,56.18 L451.54,56.07 L452.27,55.94 L453,55.81 L453.73,55.66 L454.45,55.5 L455.18,55.33 L455.91,55.14 L456.64,54.94 L457.37,54.71 L458.1,54.47 L458.83,54.19 L459.55,53.89 L460.28,53.56 L461.01,53.2 L461.74,52.79 L462.47,52.33 L463.2,51.82 L463.93,51.25 L464.65,50.6 L465.38,49.87 L466.11,49.04 L466.84,48.1 L467.57,47.02 L468.3,45.79 L469.03,44.38 L469.75,42.76 L470.48,40.92 L471.21,38.8 L471.94,36.41 L472.67,33.72 L473.4,30.74 L474.13,27.54 L474.86,24.22 L475.58,20.96 L476.31,18.02 L477.04,15.71 L477.77,14.31 L478.5,14.04 L479.23,14.94 L479.96,16.87 L480.68,19.56 L481.41,22.71 L482.14,26.03 L482.87,29.31 L483.6,32.39 L484.33,35.22 L485.06,37.75 L485.78,39.99 L486.51,41.95 L487.24,43.67 L487.97,45.17 L488.7,46.48 L489.43,47.62 L490.16,48.62 L490.88,49.5 L491.61,50.28 L492.34,50.96 L493.07,51.57 L493.8,52.1 L494.53,52.58 L495.26,53.01 L495.98,53.4 L496.71,53.75 L497.44,54.06 L498.17,54.34 L498.9,54.6 L499.63,54.84 L500.36,55.05 L501.08,55.25 L501.81,55.43 L502.54,55.59 L503.27,55.74 L504,55.88 L504.73,56.01 L505.46,56.13 L506.18,56.24 L506.91,56.35 L507.64,56.44 L508.37,56.53 L509.1,56.62 L509.83,56.7 L510.56,56.77 L511.28,56.84 L512.01,56.9 L512.74,56.96 L513.47,57.02 L514.2,57.07 L514.93,57.12 L515.66,57.17 L516.38,57.22 L517.11,57.26 L517.84,57.3 L518.57,57.34 L519.3,57.38 L520.03,57.41 L520.76,57.44 L521.49,57.47 L522.21,57.5 L522.94,57.53 L523.67,57.56 L524.4,57.59 L525.13,57.61 L525.86,57.63 L526.59,57.66 L527.31,57.68 L528.04,57.7 L528.77,57.72 L529.5,57.74 L530.23,57.76 L530.96,57.77 L531.69,57.79 L532.41,57.81 L533.14,57.82 L533.87,57.84 L534.6,57.85 L535.33,57.86 L536.06,57.88 L536.79,57.89 L537.51,57.9 L538.24,57.91 L538.97,57.93 L539.7,57.94 L539.7,58.4 L321.85,58.4 Z" fill="#d5eef0"/>
<path d="M321.85,108.45 L322.58,108.45 L323.31,108.45 L324.04,108.45 L324.76,108.45 L325.49,108.45 L326.22,108.45 L326.95,108.44 L327.68,108.44 L328.41,108.44 L329.14,108.44 L329.86,108.44 L330.59,108.44 L331.32,108.43 L332.05,108.43 L332.78,108.43 L333.51,108.43 L334.24,108.43 L334.96,108.43 L335.69,108.42 L336.42,108.42 L337.15,108.42 L337.88,108.42 L338.61,108.42 L339.34,108.41 L340.06,108.41 L340.79,108.41 L341.52,108.41 L342.25,108.41 L342.98,108.4 L343.71,108.4 L344.44,108.4 L345.17,108.4 L345.89,108.4 L346.62,108.39 L347.35,108.39 L348.08,108.39 L348.81,108.39 L349.54,108.38 L350.27,108.38 L350.99,108.38 L351.72,108.38 L352.45,108.37 L353.18,108.37 L353.91,108.37 L354.64,108.37 L355.37,108.36 L356.09,108.36 L356.82,108.36 L357.55,108.35 L358.28,108.35 L359.01,108.35 L359.74,108.34 L360.47,108.34 L361.19,108.34 L361.92,108.34 L362.65,108.33 L363.38,108.33 L364.11,108.32 L364.84,108.32 L365.57,108.32 L366.29,108.31 L367.02,108.31 L367.75,108.31 L368.48,108.3 L369.21,108.3 L369.94,108.29 L370.67,108.29 L371.39,108.29 L372.12,108.28 L372.85,108.28 L373.58,108.27 L374.31,108.27 L375.04,108.26 L375.77,108.26 L376.49,108.25 L377.22,108.25 L377.95,108.24 L378.68,108.24 L379.41,108.23 L380.14,108.23 L380.87,108.22 L381.59,108.22 L382.32,108.21 L383.05,108.2 L383.78,108.2 L384.51,108.19 L385.24,108.19 L385.97,108.18 L386.69,108.17 L387.42,108.17 L388.15,108.16 L388.88,108.15 L389.61,108.14 L390.34,108.14 L391.07,108.13 L391.8,108.12 L392.52,108.11 L393.25,108.1 L393.98,108.09 L394.71,108.09 L395.44,108.08 L396.17,108.07 L396.9,108.06 L397.62,108.05 L398.35,108.04 L399.08,108.03 L399.81,108.02 L400.54,108.01 L401.27,107.99 L402,107.98 L402.72,107.97 L403.45,107.96 L404.18,107.95 L404.91,107.93 L405.64,107.92 L406.37,107.91 L407.1,107.89 L407.82,107.88 L408.55,107.86 L409.28,107.85 L410.01,107.83 L410.74,107.81 L411.47,107.8 L412.2,107.78 L412.92,107.76 L413.65,107.74 L414.38,107.72 L415.11,107.7 L415.84,107.68 L416.57,107.66 L417.3,107.64 L418.02,107.61 L418.75,107.59 L419.48,107.56 L420.21,107.54 L420.94,107.51 L421.67,107.48 L422.4,107.45 L423.12,107.42 L423.85,107.39 L424.58,107.36 L425.31,107.32 L426.04,107.29 L426.77,107.25 L427.5,107.21 L428.22,107.17 L428.95,107.13 L429.68,107.09 L430.41,107.04 L431.14,106.99 L431.87,106.94 L432.6,106.89 L433.33,106.84 L434.05,106.78 L434.78,106.72 L435.51,106.65 L436.24,106.59 L436.97,106.52 L437.7,106.44 L438.43,106.37 L439.15,106.28 L439.88,106.2 L440.61,106.11 L441.34,106.01 L442.07,105.91 L442.8,105.8 L443.53,105.69 L444.25,105.57 L444.98,105.44 L445.71,105.3 L446.44,105.15 L447.17,105 L447.9,104.83 L448.63,104.66 L449.35,104.47 L450.08,104.26 L450.81,104.05 L451.54,103.81 L452.27,103.56 L453,103.29 L453.73,103 L454.45,102.68 L455.18,102.34 L455.91,101.97 L456.64,101.57 L457.37,101.14 L458.1,100.66 L458.83,100.14 L459.55,99.58 L460.28,98.96 L461.01,98.28 L461.74,97.54 L462.47,96.72 L463.2,95.82 L463.93,94.84 L464.65,93.75 L465.38,92.56 L466.11,91.24 L466.84,89.8 L467.57,88.23 L468.3,86.51 L469.03,84.65 L469.75,82.65 L470.48,80.53 L471.21,78.31 L471.94,76.02 L472.67,73.74 L473.4,71.52 L474.13,69.46 L474.86,67.68 L475.58,66.27 L476.31,65.32 L477.04,64.91 L477.77,65.07 L478.5,65.79 L479.23,67.01 L479.96,68.64 L480.68,70.59 L481.41,72.75 L482.14,75.02 L482.87,77.32 L483.6,79.57 L484.33,81.74 L485.06,83.8 L485.78,85.72 L486.51,87.5 L487.24,89.13 L487.97,90.63 L488.7,92 L489.43,93.24 L490.16,94.38 L490.88,95.4 L491.61,96.34 L492.34,97.19 L493.07,97.97 L493.8,98.67 L494.53,99.32 L495.26,99.9 L495.98,100.44 L496.71,100.93 L497.44,101.39 L498.17,101.8 L498.9,102.19 L499.63,102.54 L500.36,102.86 L501.08,103.17 L501.81,103.45 L502.54,103.71 L503.27,103.95 L504,104.17 L504.73,104.38 L505.46,104.57 L506.18,104.76 L506.91,104.93 L507.64,105.09 L508.37,105.24 L509.1,105.38 L509.83,105.51 L510.56,105.63 L511.28,105.75 L512.01,105.86 L512.74,105.97 L513.47,106.07 L514.2,106.16 L514.93,106.25 L515.66,106.33 L516.38,106.41 L517.11,106.49 L517.84,106.56 L518.57,106.63 L519.3,106.69 L520.03,106.75 L520.76,106.81 L521.49,106.87 L522.21,106.92 L522.94,106.97 L523.67,107.02 L524.4,107.07 L525.13,107.11 L525.86,107.15 L526.59,107.2 L527.31,107.23 L528.04,107.27 L528.77,107.31 L529.5,107.34 L530.23,107.38 L530.96,107.41 L531.69,107.44 L532.41,107.47 L533.14,107.5 L533.87,107.52 L534.6,107.55 L535.33,107.58 L536.06,107.6 L536.79,107.63 L537.51,107.65 L538.24,107.67 L538.97,107.69 L539.7,107.71 L539.7,108.6 L321.85,108.6 Z" fill="#d5eef0"/>
<path d="M321.85,158.84 L322.58,158.84 L323.31,158.84 L324.04,158.84 L324.76,158.84 L325.49,158.83 L326.22,158.83 L326.95,158.83 L327.68,158.83 L328.41,158.83 L329.14,158.83 L329.86,158.82 L330.59,158.82 L331.32,158.82 L332.05,158.82 L332.78,158.82 L333.51,158.82 L334.24,158.81 L334.96,158.81 L335.69,158.81 L336.42,158.81 L337.15,158.81 L337.88,158.8 L338.61,158.8 L339.34,158.8 L340.06,158.8 L340.79,158.8 L341.52,158.79 L342.25,158.79 L342.98,158.79 L343.71,158.79 L344.44,158.79 L345.17,158.78 L345.89,158.78 L346.62,158.78 L347.35,158.78 L348.08,158.77 L348.81,158.77 L349.54,158.77 L350.27,158.77 L350.99,158.76 L351.72,158.76 L352.45,158.76 L353.18,158.75 L353.91,158.75 L354.64,158.75 L355.37,158.75 L356.09,158.74 L356.82,158.74 L357.55,158.74 L358.28,158.73 L359.01,158.73 L359.74,158.73 L360.47,158.72 L361.19,158.72 L361.92,158.72 L362.65,158.71 L363.38,158.71 L364.11,158.71 L364.84,158.7 L365.57,158.7 L366.29,158.7 L367.02,158.69 L367.75,158.69 L368.48,158.68 L369.21,158.68 L369.94,158.68 L370.67,158.67 L371.39,158.67 L372.12,158.66 L372.85,158.66 L373.58,158.65 L374.31,158.65 L375.04,158.64 L375.77,158.64 L376.49,158.63 L377.22,158.63 L377.95,158.62 L378.68,158.62 L379.41,158.61 L380.14,158.61 L380.87,158.6 L381.59,158.59 L382.32,158.59 L383.05,158.58 L383.78,158.58 L384.51,158.57 L385.24,158.56 L385.97,158.56 L386.69,158.55 L387.42,158.54 L388.15,158.54 L388.88,158.53 L389.61,158.52 L390.34,158.51 L391.07,158.5 L391.8,158.5 L392.52,158.49 L393.25,158.48 L393.98,158.47 L394.71,158.46 L395.44,158.45 L396.17,158.44 L396.9,158.43 L397.62,158.42 L398.35,158.41 L399.08,158.4 L399.81,158.39 L400.54,158.38 L401.27,158.37 L402,158.36 L402.72,158.35 L403.45,158.33 L404.18,158.32 L404.91,158.31 L405.64,158.3 L406.37,158.28 L407.1,158.27 L407.82,158.25 L408.55,158.24 L409.28,158.22 L410.01,158.21 L410.74,158.19 L411.47,158.17 L412.2,158.16 L412.92,158.14 L413.65,158.12 L414.38,158.1 L415.11,158.08 L415.84,158.06 L416.57,158.04 L417.3,158.02 L418.02,157.99 L418.75,157.97 L419.48,157.95 L420.21,157.92 L420.94,157.89 L421.67,157.87 L422.4,157.84 L423.12,157.81 L423.85,157.78 L424.58,157.75 L425.31,157.72 L426.04,157.68 L426.77,157.65 L427.5,157.61 L428.22,157.57 L428.95,157.53 L429.68,157.49 L430.41,157.45 L431.14,157.4 L431.87,157.36 L432.6,157.31 L433.33,157.26 L434.05,157.2 L434.78,157.15 L435.51,157.09 L436.24,157.03 L436.97,156.97 L437.7,156.9 L438.43,156.83 L439.15,156.75 L439.88,156.68 L440.61,156.59 L441.34,156.51 L442.07,156.42 L442.8,156.32 L443.53,156.22 L444.25,156.12 L444.98,156 L445.71,155.88 L446.44,155.76 L447.17,155.62 L447.9,155.48 L448.63,155.33 L449.35,155.17 L450.08,155 L450.81,154.82 L451.54,154.62 L452.27,154.42 L453,154.2 L453.73,153.96 L454.45,153.7 L455.18,153.43 L455.91,153.13 L456.64,152.82 L457.37,152.48 L458.1,152.11 L458.83,151.71 L459.55,151.28 L460.28,150.81 L461.01,150.3 L461.74,149.75 L462.47,149.14 L463.2,148.49 L463.93,147.77 L464.65,146.99 L465.38,146.13 L466.11,145.2 L466.84,144.18 L467.57,143.06 L468.3,141.84 L469.03,140.51 L469.75,139.06 L470.48,137.49 L471.21,135.79 L471.94,133.98 L472.67,132.05 L473.4,130.02 L474.13,127.93 L474.86,125.81 L475.58,123.71 L476.31,121.71 L477.04,119.87 L477.77,118.3 L478.5,117.07 L479.23,116.25 L479.96,115.91 L480.68,116.06 L481.41,116.69 L482.14,117.76 L482.87,119.21 L483.6,120.95 L484.33,122.9 L485.06,124.97 L485.78,127.09 L486.51,129.2 L487.24,131.25 L487.97,133.22 L488.7,135.08 L489.43,136.83 L490.16,138.45 L490.88,139.95 L491.61,141.32 L492.34,142.59 L493.07,143.74 L493.8,144.8 L494.53,145.77 L495.26,146.66 L495.98,147.47 L496.71,148.21 L497.44,148.89 L498.17,149.51 L498.9,150.08 L499.63,150.61 L500.36,151.09 L501.08,151.54 L501.81,151.95 L502.54,152.33 L503.27,152.69 L504,153.01 L504.73,153.31 L505.46,153.6 L506.18,153.86 L506.91,154.1 L507.64,154.33 L508.37,154.54 L509.1,154.74 L509.83,154.93 L510.56,155.1 L511.28,155.27 L512.01,155.42 L512.74,155.57 L513.47,155.71 L514.2,155.83 L514.93,155.96 L515.66,156.07 L516.38,156.18 L517.11,156.28 L517.84,156.38 L518.57,156.47 L519.3,156.56 L520.03,156.64 L520.76,156.72 L521.49,156.8 L522.21,156.87 L522.94,156.94 L523.67,157 L524.4,157.07 L525.13,157.13 L525.86,157.18 L526.59,157.24 L527.31,157.29 L528.04,157.34 L528.77,157.39 L529.5,157.43 L530.23,157.48 L530.96,157.52 L531.69,157.56 L532.41,157.6 L533.14,157.63 L533.87,157.67 L534.6,157.7 L535.33,157.74 L536.06,157.77 L536.79,157.8 L537.51,157.83 L538.24,157.86 L538.97,157.88 L539.7,157.91 L539.7,159 L321.85,159 Z" fill="#d5eef0"/>
<path d="M321.85,208.1 L322.58,208.09 L323.31,208.09 L324.04,208.09 L324.76,208.08 L325.49,208.08 L326.22,208.07 L326.95,208.07 L327.68,208.06 L328.41,208.06 L329.14,208.05 L329.86,208.05 L330.59,208.04 L331.32,208.03 L332.05,208.03 L332.78,208.02 L333.51,208.02 L334.24,208.01 L334.96,208.01 L335.69,208 L336.42,207.99 L337.15,207.99 L337.88,207.98 L338.61,207.98 L339.34,207.97 L340.06,207.96 L340.79,207.96 L341.52,207.95 L342.25,207.94 L342.98,207.94 L343.71,207.93 L344.44,207.92 L345.17,207.91 L345.89,207.91 L346.62,207.9 L347.35,207.89 L348.08,207.88 L348.81,207.88 L349.54,207.87 L350.27,207.86 L350.99,207.85 L351.72,207.84 L352.45,207.84 L353.18,207.83 L353.91,207.82 L354.64,207.81 L355.37,207.8 L356.09,207.79 L356.82,207.78 L357.55,207.77 L358.28,207.76 L359.01,207.75 L359.74,207.74 L360.47,207.73 L361.19,207.72 L361.92,207.71 L362.65,207.7 L363.38,207.69 L364.11,207.68 L364.84,207.67 L365.57,207.65 L366.29,207.64 L367.02,207.63 L367.75,207.62 L368.48,207.6 L369.21,207.59 L369.94,207.58 L370.67,207.57 L371.39,207.55 L372.12,207.54 L372.85,207.52 L373.58,207.51 L374.31,207.49 L375.04,207.48 L375.77,207.46 L376.49,207.45 L377.22,207.43 L377.95,207.42 L378.68,207.4 L379.41,207.38 L380.14,207.37 L380.87,207.35 L381.59,207.33 L382.32,207.31 L383.05,207.29 L383.78,207.27 L384.51,207.25 L385.24,207.23 L385.97,207.21 L386.69,207.19 L387.42,207.17 L388.15,207.15 L388.88,207.13 L389.61,207.1 L390.34,207.08 L391.07,207.06 L391.8,207.03 L392.52,207.01 L393.25,206.98 L393.98,206.95 L394.71,206.93 L395.44,206.9 L396.17,206.87 L396.9,206.84 L397.62,206.81 L398.35,206.78 L399.08,206.75 L399.81,206.72 L400.54,206.68 L401.27,206.65 L402,206.61 L402.72,206.58 L403.45,206.54 L404.18,206.5 L404.91,206.46 L405.64,206.42 L406.37,206.38 L407.1,206.34 L407.82,206.3 L408.55,206.25 L409.28,206.21 L410.01,206.16 L410.74,206.11 L411.47,206.06 L412.2,206.01 L412.92,205.96 L413.65,205.9 L414.38,205.85 L415.11,205.79 L415.84,205.73 L416.57,205.67 L417.3,205.6 L418.02,205.54 L418.75,205.47 L419.48,205.4 L420.21,205.33 L420.94,205.25 L421.67,205.17 L422.4,205.09 L423.12,205.01 L423.85,204.93 L424.58,204.84 L425.31,204.74 L426.04,204.65 L426.77,204.55 L427.5,204.45 L428.22,204.34 L428.95,204.23 L429.68,204.12 L430.41,204 L431.14,203.88 L431.87,203.75 L432.6,203.62 L433.33,203.48 L434.05,203.34 L434.78,203.19 L435.51,203.03 L436.24,202.87 L436.97,202.7 L437.7,202.53 L438.43,202.34 L439.15,202.15 L439.88,201.95 L440.61,201.75 L441.34,201.53 L442.07,201.3 L442.8,201.06 L443.53,200.82 L444.25,200.56 L444.98,200.28 L445.71,200 L446.44,199.7 L447.17,199.39 L447.9,199.06 L448.63,198.72 L449.35,198.36 L450.08,197.98 L450.81,197.58 L451.54,197.17 L452.27,196.73 L453,196.27 L453.73,195.79 L454.45,195.28 L455.18,194.75 L455.91,194.19 L456.64,193.6 L457.37,192.98 L458.1,192.34 L458.83,191.66 L459.55,190.94 L460.28,190.19 L461.01,189.41 L461.74,188.59 L462.47,187.74 L463.2,186.85 L463.93,185.92 L464.65,184.95 L465.38,183.95 L466.11,182.92 L466.84,181.86 L467.57,180.77 L468.3,179.67 L469.03,178.54 L469.75,177.4 L470.48,176.27 L471.21,175.14 L471.94,174.03 L472.67,172.96 L473.4,171.92 L474.13,170.95 L474.86,170.04 L475.58,169.22 L476.31,168.5 L477.04,167.9 L477.77,167.42 L478.5,167.07 L479.23,166.86 L479.96,166.8 L480.68,166.88 L481.41,167.11 L482.14,167.48 L482.87,167.98 L483.6,168.61 L484.33,169.34 L485.06,170.17 L485.78,171.09 L486.51,172.08 L487.24,173.12 L487.97,174.2 L488.7,175.31 L489.43,176.44 L490.16,177.58 L490.88,178.71 L491.61,179.83 L492.34,180.94 L493.07,182.02 L493.8,183.08 L494.53,184.11 L495.26,185.1 L495.98,186.06 L496.71,186.98 L497.44,187.87 L498.17,188.72 L498.9,189.53 L499.63,190.31 L500.36,191.05 L501.08,191.76 L501.81,192.44 L502.54,193.08 L503.27,193.69 L504,194.28 L504.73,194.83 L505.46,195.36 L506.18,195.86 L506.91,196.34 L507.64,196.8 L508.37,197.23 L509.1,197.65 L509.83,198.04 L510.56,198.42 L511.28,198.77 L512.01,199.11 L512.74,199.44 L513.47,199.75 L514.2,200.04 L514.93,200.33 L515.66,200.6 L516.38,200.85 L517.11,201.1 L517.84,201.34 L518.57,201.56 L519.3,201.78 L520.03,201.98 L520.76,202.18 L521.49,202.37 L522.21,202.55 L522.94,202.73 L523.67,202.9 L524.4,203.06 L525.13,203.21 L525.86,203.36 L526.59,203.5 L527.31,203.64 L528.04,203.77 L528.77,203.9 L529.5,204.02 L530.23,204.14 L530.96,204.25 L531.69,204.36 L532.41,204.46 L533.14,204.57 L533.87,204.66 L534.6,204.76 L535.33,204.85 L536.06,204.94 L536.79,205.02 L537.51,205.11 L538.24,205.19 L538.97,205.26 L539.7,205.34 L539.7,208.6 L321.85,208.6 Z" fill="#d5eef0"/>
<path d="M321.85,258.14 L322.58,258.14 L323.31,258.13 L324.04,258.13 L324.76,258.12 L325.49,258.12 L326.22,258.11 L326.95,258.1 L327.68,258.1 L328.41,258.09 L329.14,258.08 L329.86,258.08 L330.59,258.07 L331.32,258.06 L332.05,258.06 L332.78,258.05 L333.51,258.04 L334.24,258.03 L334.96,258.03 L335.69,258.02 L336.42,258.01 L337.15,258 L337.88,258 L338.61,257.99 L339.34,257.98 L340.06,257.97 L340.79,257.97 L341.52,257.96 L342.25,257.95 L342.98,257.94 L343.71,257.93 L344.44,257.92 L345.17,257.91 L345.89,257.9 L346.62,257.89 L347.35,257.89 L348.08,257.88 L348.81,257.87 L349.54,257.86 L350.27,257.85 L350.99,257.84 L351.72,257.83 L352.45,257.82 L353.18,257.8 L353.91,257.79 L354.64,257.78 L355.37,257.77 L356.09,257.76 L356.82,257.75 L357.55,257.74 L358.28,257.72 L359.01,257.71 L359.74,257.7 L360.47,257.69 L361.19,257.68 L361.92,257.66 L362.65,257.65 L363.38,257.64 L364.11,257.62 L364.84,257.61 L365.57,257.59 L366.29,257.58 L367.02,257.56 L367.75,257.55 L368.48,257.53 L369.21,257.52 L369.94,257.5 L370.67,257.49 L371.39,257.47 L372.12,257.45 L372.85,257.44 L373.58,257.42 L374.31,257.4 L375.04,257.38 L375.77,257.37 L376.49,257.35 L377.22,257.33 L377.95,257.31 L378.68,257.29 L379.41,257.27 L380.14,257.25 L380.87,257.23 L381.59,257.21 L382.32,257.18 L383.05,257.16 L383.78,257.14 L384.51,257.12 L385.24,257.09 L385.97,257.07 L386.69,257.04 L387.42,257.02 L388.15,256.99 L388.88,256.97 L389.61,256.94 L390.34,256.91 L391.07,256.88 L391.8,256.85 L392.52,256.83 L393.25,256.8 L393.98,256.76 L394.71,256.73 L395.44,256.7 L396.17,256.67 L396.9,256.64 L397.62,256.6 L398.35,256.57 L399.08,256.53 L399.81,256.49 L400.54,256.45 L401.27,256.42 L402,256.38 L402.72,256.34 L403.45,256.29 L404.18,256.25 L404.91,256.21 L405.64,256.16 L406.37,256.12 L407.1,256.07 L407.82,256.02 L408.55,255.97 L409.28,255.92 L410.01,255.87 L410.74,255.82 L411.47,255.76 L412.2,255.7 L412.92,255.65 L413.65,255.59 L414.38,255.53 L415.11,255.46 L415.84,255.4 L416.57,255.33 L417.3,255.26 L418.02,255.19 L418.75,255.12 L419.48,255.04 L420.21,254.97 L420.94,254.89 L421.67,254.81 L422.4,254.72 L423.12,254.63 L423.85,254.54 L424.58,254.45 L425.31,254.36 L426.04,254.26 L426.77,254.16 L427.5,254.05 L428.22,253.94 L428.95,253.83 L429.68,253.72 L430.41,253.6 L431.14,253.47 L431.87,253.35 L432.6,253.21 L433.33,253.08 L434.05,252.94 L434.78,252.79 L435.51,252.64 L436.24,252.48 L436.97,252.32 L437.7,252.15 L438.43,251.98 L439.15,251.8 L439.88,251.61 L440.61,251.41 L441.34,251.21 L442.07,251 L442.8,250.78 L443.53,250.55 L444.25,250.32 L444.98,250.07 L445.71,249.82 L446.44,249.55 L447.17,249.28 L447.9,248.99 L448.63,248.69 L449.35,248.38 L450.08,248.06 L450.81,247.72 L451.54,247.37 L452.27,247.01 L453,246.62 L453.73,246.23 L454.45,245.81 L455.18,245.38 L455.91,244.94 L456.64,244.47 L457.37,243.98 L458.1,243.48 L458.83,242.95 L459.55,242.4 L460.28,241.83 L461.01,241.24 L461.74,240.62 L462.47,239.98 L463.2,239.32 L463.93,238.63 L464.65,237.92 L465.38,237.18 L466.11,236.42 L466.84,235.64 L467.57,234.83 L468.3,234.01 L469.03,233.16 L469.75,232.3 L470.48,231.42 L471.21,230.53 L471.94,229.64 L472.67,228.73 L473.4,227.83 L474.13,226.93 L474.86,226.05 L475.58,225.18 L476.31,224.33 L477.04,223.52 L477.77,222.74 L478.5,222.01 L479.23,221.34 L479.96,220.73 L480.68,220.18 L481.41,219.72 L482.14,219.33 L482.87,219.04 L483.6,218.83 L484.33,218.72 L485.06,218.71 L485.78,218.79 L486.51,218.96 L487.24,219.23 L487.97,219.59 L488.7,220.04 L489.43,220.56 L490.16,221.15 L490.88,221.81 L491.61,222.52 L492.34,223.28 L493.07,224.08 L493.8,224.92 L494.53,225.78 L495.26,226.67 L495.98,227.56 L496.71,228.46 L497.44,229.37 L498.17,230.27 L498.9,231.16 L499.63,232.04 L500.36,232.91 L501.08,233.76 L501.81,234.59 L502.54,235.4 L503.27,236.19 L504,236.96 L504.73,237.7 L505.46,238.42 L506.18,239.11 L506.91,239.78 L507.64,240.43 L508.37,241.05 L509.1,241.65 L509.83,242.23 L510.56,242.79 L511.28,243.32 L512.01,243.83 L512.74,244.33 L513.47,244.8 L514.2,245.25 L514.93,245.69 L515.66,246.11 L516.38,246.51 L517.11,246.89 L517.84,247.26 L518.57,247.62 L519.3,247.96 L520.03,248.29 L520.76,248.6 L521.49,248.9 L522.21,249.19 L522.94,249.47 L523.67,249.74 L524.4,250 L525.13,250.25 L525.86,250.48 L526.59,250.71 L527.31,250.93 L528.04,251.15 L528.77,251.35 L529.5,251.55 L530.23,251.74 L530.96,251.92 L531.69,252.1 L532.41,252.27 L533.14,252.43 L533.87,252.59 L534.6,252.75 L535.33,252.89 L536.06,253.04 L536.79,253.17 L537.51,253.31 L538.24,253.44 L538.97,253.56 L539.7,253.68 L539.7,258.8 L321.85,258.8 Z" fill="#d5eef0"/>
<path d="M321.85,302.46 L322.58,302.45 L323.31,302.44 L324.04,302.43 L324.76,302.42 L325.49,302.41 L326.22,302.4 L326.95,302.4 L327.68,302.39 L328.41,302.38 L329.14,302.37 L329.86,302.36 L330.59,302.35 L331.32,302.34 L332.05,302.33 L332.78,302.32 L333.51,302.31 L334.24,302.3 L334.96,302.29 L335.69,302.28 L336.42,302.27 L337.15,302.26 L337.88,302.24 L338.61,302.23 L339.34,302.22 L340.06,302.21 L340.79,302.2 L341.52,302.19 L342.25,302.17 L342.98,302.16 L343.71,302.15 L344.44,302.14 L345.17,302.12 L345.89,302.11 L346.62,302.1 L347.35,302.08 L348.08,302.07 L348.81,302.06 L349.54,302.04 L350.27,302.03 L350.99,302.01 L351.72,302 L352.45,301.99 L353.18,301.97 L353.91,301.95 L354.64,301.94 L355.37,301.92 L356.09,301.91 L356.82,301.89 L357.55,301.87 L358.28,301.86 L359.01,301.84 L359.74,301.82 L360.47,301.8 L361.19,301.79 L361.92,301.77 L362.65,301.75 L363.38,301.73 L364.11,301.71 L364.84,301.69 L365.57,301.67 L366.29,301.65 L367.02,301.63 L367.75,301.61 L368.48,301.59 L369.21,301.57 L369.94,301.54 L370.67,301.52 L371.39,301.5 L372.12,301.47 L372.85,301.45 L373.58,301.43 L374.31,301.4 L375.04,301.38 L375.77,301.35 L376.49,301.32 L377.22,301.3 L377.95,301.27 L378.68,301.24 L379.41,301.21 L380.14,301.18 L380.87,301.16 L381.59,301.13 L382.32,301.09 L383.05,301.06 L383.78,301.03 L384.51,301 L385.24,300.97 L385.97,300.93 L386.69,300.9 L387.42,300.86 L388.15,300.83 L388.88,300.79 L389.61,300.75 L390.34,300.71 L391.07,300.68 L391.8,300.64 L392.52,300.6 L393.25,300.55 L393.98,300.51 L394.71,300.47 L395.44,300.42 L396.17,300.38 L396.9,300.33 L397.62,300.28 L398.35,300.24 L399.08,300.19 L399.81,300.14 L400.54,300.08 L401.27,300.03 L402,299.98 L402.72,299.92 L403.45,299.86 L404.18,299.81 L404.91,299.75 L405.64,299.69 L406.37,299.62 L407.1,299.56 L407.82,299.49 L408.55,299.43 L409.28,299.36 L410.01,299.29 L410.74,299.21 L411.47,299.14 L412.2,299.06 L412.92,298.99 L413.65,298.91 L414.38,298.82 L415.11,298.74 L415.84,298.65 L416.57,298.56 L417.3,298.47 L418.02,298.38 L418.75,298.28 L419.48,298.18 L420.21,298.08 L420.94,297.98 L421.67,297.87 L422.4,297.76 L423.12,297.65 L423.85,297.53 L424.58,297.41 L425.31,297.29 L426.04,297.16 L426.77,297.03 L427.5,296.89 L428.22,296.76 L428.95,296.61 L429.68,296.47 L430.41,296.31 L431.14,296.16 L431.87,296 L432.6,295.83 L433.33,295.66 L434.05,295.49 L434.78,295.3 L435.51,295.12 L436.24,294.92 L436.97,294.72 L437.7,294.52 L438.43,294.31 L439.15,294.09 L439.88,293.86 L440.61,293.63 L441.34,293.39 L442.07,293.14 L442.8,292.89 L443.53,292.62 L444.25,292.35 L444.98,292.07 L445.71,291.78 L446.44,291.48 L447.17,291.17 L447.9,290.85 L448.63,290.52 L449.35,290.18 L450.08,289.82 L450.81,289.46 L451.54,289.09 L452.27,288.7 L453,288.3 L453.73,287.89 L454.45,287.47 L455.18,287.04 L455.91,286.59 L456.64,286.13 L457.37,285.66 L458.1,285.17 L458.83,284.68 L459.55,284.17 L460.28,283.64 L461.01,283.11 L461.74,282.56 L462.47,282.01 L463.2,281.44 L463.93,280.86 L464.65,280.27 L465.38,279.68 L466.11,279.08 L466.84,278.47 L467.57,277.86 L468.3,277.25 L469.03,276.63 L469.75,276.02 L470.48,275.41 L471.21,274.81 L471.94,274.22 L472.67,273.64 L473.4,273.08 L474.13,272.53 L474.86,272 L475.58,271.5 L476.31,271.02 L477.04,270.58 L477.77,270.17 L478.5,269.8 L479.23,269.46 L479.96,269.17 L480.68,268.92 L481.41,268.72 L482.14,268.57 L482.87,268.46 L483.6,268.41 L484.33,268.41 L485.06,268.45 L485.78,268.55 L486.51,268.7 L487.24,268.9 L487.97,269.14 L488.7,269.43 L489.43,269.76 L490.16,270.13 L490.88,270.54 L491.61,270.98 L492.34,271.45 L493.07,271.95 L493.8,272.47 L494.53,273.02 L495.26,273.58 L495.98,274.16 L496.71,274.75 L497.44,275.35 L498.17,275.96 L498.9,276.57 L499.63,277.18 L500.36,277.8 L501.08,278.41 L501.81,279.01 L502.54,279.62 L503.27,280.21 L504,280.8 L504.73,281.38 L505.46,281.95 L506.18,282.51 L506.91,283.05 L507.64,283.59 L508.37,284.11 L509.1,284.62 L509.83,285.12 L510.56,285.61 L511.28,286.08 L512.01,286.54 L512.74,286.99 L513.47,287.43 L514.2,287.85 L514.93,288.26 L515.66,288.66 L516.38,289.05 L517.11,289.42 L517.84,289.79 L518.57,290.14 L519.3,290.48 L520.03,290.81 L520.76,291.13 L521.49,291.44 L522.21,291.75 L522.94,292.04 L523.67,292.32 L524.4,292.59 L525.13,292.86 L525.86,293.12 L526.59,293.36 L527.31,293.61 L528.04,293.84 L528.77,294.07 L529.5,294.28 L530.23,294.5 L530.96,294.7 L531.69,294.9 L532.41,295.1 L533.14,295.28 L533.87,295.47 L534.6,295.64 L535.33,295.81 L536.06,295.98 L536.79,296.14 L537.51,296.3 L538.24,296.45 L538.97,296.6 L539.7,296.74 L539.7,303.4 L321.85,303.4 Z" fill="#d5eef0"/>
</g>
<path d="M321.85,58.33 L322.58,58.33 L323.31,58.33 L324.04,58.33 L324.76,58.33 L325.49,58.32 L326.22,58.32 L326.95,58.32 L327.68,58.32 L328.41,58.32 L329.14,58.32 L329.86,58.32 L330.59,58.32 L331.32,58.32 L332.05,58.32 L332.78,58.32 L333.51,58.32 L334.24,58.32 L334.96,58.31 L335.69,58.31 L336.42,58.31 L337.15,58.31 L337.88,58.31 L338.61,58.31 L339.34,58.31 L340.06,58.31 L340.79,58.31 L341.52,58.31 L342.25,58.3 L342.98,58.3 L343.71,58.3 L344.44,58.3 L345.17,58.3 L345.89,58.3 L346.62,58.3 L347.35,58.3 L348.08,58.3 L348.81,58.3 L349.54,58.29 L350.27,58.29 L350.99,58.29 L351.72,58.29 L352.45,58.29 L353.18,58.29 L353.91,58.29 L354.64,58.29 L355.37,58.28 L356.09,58.28 L356.82,58.28 L357.55,58.28 L358.28,58.28 L359.01,58.28 L359.74,58.27 L360.47,58.27 L361.19,58.27 L361.92,58.27 L362.65,58.27 L363.38,58.27 L364.11,58.27 L364.84,58.26 L365.57,58.26 L366.29,58.26 L367.02,58.26 L367.75,58.26 L368.48,58.25 L369.21,58.25 L369.94,58.25 L370.67,58.25 L371.39,58.25 L372.12,58.24 L372.85,58.24 L373.58,58.24 L374.31,58.24 L375.04,58.24 L375.77,58.23 L376.49,58.23 L377.22,58.23 L377.95,58.23 L378.68,58.22 L379.41,58.22 L380.14,58.22 L380.87,58.22 L381.59,58.21 L382.32,58.21 L383.05,58.21 L383.78,58.2 L384.51,58.2 L385.24,58.2 L385.97,58.19 L386.69,58.19 L387.42,58.19 L388.15,58.18 L388.88,58.18 L389.61,58.18 L390.34,58.17 L391.07,58.17 L391.8,58.17 L392.52,58.16 L393.25,58.16 L393.98,58.15 L394.71,58.15 L395.44,58.14 L396.17,58.14 L396.9,58.14 L397.62,58.13 L398.35,58.13 L399.08,58.12 L399.81,58.12 L400.54,58.11 L401.27,58.11 L402,58.1 L402.72,58.09 L403.45,58.09 L404.18,58.08 L404.91,58.08 L405.64,58.07 L406.37,58.06 L407.1,58.06 L407.82,58.05 L408.55,58.04 L409.28,58.03 L410.01,58.03 L410.74,58.02 L411.47,58.01 L412.2,58 L412.92,57.99 L413.65,57.98 L414.38,57.97 L415.11,57.96 L415.84,57.95 L416.57,57.94 L417.3,57.93 L418.02,57.92 L418.75,57.91 L419.48,57.9 L420.21,57.88 L420.94,57.87 L421.67,57.86 L422.4,57.84 L423.12,57.83 L423.85,57.81 L424.58,57.8 L425.31,57.78 L426.04,57.76 L426.77,57.75 L427.5,57.73 L428.22,57.71 L428.95,57.69 L429.68,57.67 L430.41,57.64 L431.14,57.62 L431.87,57.6 L432.6,57.57 L433.33,57.55 L434.05,57.52 L434.78,57.49 L435.51,57.46 L436.24,57.43 L436.97,57.39 L437.7,57.36 L438.43,57.32 L439.15,57.28 L439.88,57.24 L440.61,57.19 L441.34,57.15 L442.07,57.1 L442.8,57.04 L443.53,56.99 L444.25,56.93 L444.98,56.87 L445.71,56.8 L446.44,56.73 L447.17,56.65 L447.9,56.57 L448.63,56.49 L449.35,56.39 L450.08,56.29 L450.81,56.18 L451.54,56.07 L452.27,55.94 L453,55.81 L453.73,55.66 L454.45,55.5 L455.18,55.33 L455.91,55.14 L456.64,54.94 L457.37,54.71 L458.1,54.47 L458.83,54.19 L459.55,53.89 L460.28,53.56 L461.01,53.2 L461.74,52.79 L462.47,52.33 L463.2,51.82 L463.93,51.25 L464.65,50.6 L465.38,49.87 L466.11,49.04 L466.84,48.1 L467.57,47.02 L468.3,45.79 L469.03,44.38 L469.75,42.76 L470.48,40.92 L471.21,38.8 L471.94,36.41 L472.67,33.72 L473.4,30.74 L474.13,27.54 L474.86,24.22 L475.58,20.96 L476.31,18.02 L477.04,15.71 L477.77,14.31 L478.5,14.04 L479.23,14.94 L479.96,16.87 L480.68,19.56 L481.41,22.71 L482.14,26.03 L482.87,29.31 L483.6,32.39 L484.33,35.22 L485.06,37.75 L485.78,39.99 L486.51,41.95 L487.24,43.67 L487.97,45.17 L488.7,46.48 L489.43,47.62 L490.16,48.62 L490.88,49.5 L491.61,50.28 L492.34,50.96 L493.07,51.57 L493.8,52.1 L494.53,52.58 L495.26,53.01 L495.98,53.4 L496.71,53.75 L497.44,54.06 L498.17,54.34 L498.9,54.6 L499.63,54.84 L500.36,55.05 L501.08,55.25 L501.81,55.43 L502.54,55.59 L503.27,55.74 L504,55.88 L504.73,56.01 L505.46,56.13 L506.18,56.24 L506.91,56.35 L507.64,56.44 L508.37,56.53 L509.1,56.62 L509.83,56.7 L510.56,56.77 L511.28,56.84 L512.01,56.9 L512.74,56.96 L513.47,57.02 L514.2,57.07 L514.93,57.12 L515.66,57.17 L516.38,57.22 L517.11,57.26 L517.84,57.3 L518.57,57.34 L519.3,57.38 L520.03,57.41 L520.76,57.44 L521.49,57.47 L522.21,57.5 L522.94,57.53 L523.67,57.56 L524.4,57.59 L525.13,57.61 L525.86,57.63 L526.59,57.66 L527.31,57.68 L528.04,57.7 L528.77,57.72 L529.5,57.74 L530.23,57.76 L530.96,57.77 L531.69,57.79 L532.41,57.81 L533.14,57.82 L533.87,57.84 L534.6,57.85 L535.33,57.86 L536.06,57.88 L536.79,57.89 L537.51,57.9 L538.24,57.91 L538.97,57.93 L539.7,57.94" fill="none" stroke="#3d5a8a" stroke-width="1.7" clip-path="url(#cb)"/>
<g fill="none" stroke="#c82a2a" stroke-width="1.05" clip-path="url(#cc)"><circle cx="320.55" cy="51.41" r="1.75"/><circle cx="321.4" cy="50.95" r="1.75"/><circle cx="322.25" cy="51.58" r="1.75"/><circle cx="323.1" cy="51.3" r="1.75"/><circle cx="323.95" cy="50.83" r="1.75"/><circle cx="324.8" cy="51.14" r="1.75"/><circle cx="325.65" cy="50.07" r="1.75"/><circle cx="326.5" cy="51.18" r="1.75"/><circle cx="327.35" cy="51.23" r="1.75"/><circle cx="328.2" cy="50.15" r="1.75"/><circle cx="329.05" cy="51.33" r="1.75"/><circle cx="329.9" cy="50.85" r="1.75"/><circle cx="330.75" cy="50.95" r="1.75"/><circle cx="331.6" cy="50.19" r="1.75"/><circle cx="332.45" cy="51.07" r="1.75"/><circle cx="333.3" cy="51.02" r="1.75"/><circle cx="334.15" cy="50.72" r="1.75"/><circle cx="335" cy="50.25" r="1.75"/><circle cx="335.85" cy="51" r="1.75"/><circle cx="336.7" cy="51.19" r="1.75"/><circle cx="337.55" cy="50.77" r="1.75"/><circle cx="338.4" cy="51.01" r="1.75"/><circle cx="339.25" cy="50.26" r="1.75"/><circle cx="340.1" cy="50.56" r="1.75"/><circle cx="340.95" cy="50.63" r="1.75"/><circle cx="341.8" cy="50.49" r="1.75"/><circle cx="342.65" cy="51.67" r="1.75"/><circle cx="343.5" cy="50.55" r="1.75"/><circle cx="344.35" cy="50.08" r="1.75"/><circle cx="345.2" cy="50.68" r="1.75"/><circle cx="346.05" cy="49.78" r="1.75"/><circle cx="346.9" cy="50.41" r="1.75"/><circle cx="347.75" cy="50.56" r="1.75"/><circle cx="348.6" cy="49.96" r="1.75"/><circle cx="349.45" cy="50.01" r="1.75"/><circle cx="350.3" cy="49.7" r="1.75"/><circle cx="351.15" cy="50.16" r="1.75"/><circle cx="352" cy="49.77" r="1.75"/><circle cx="352.85" cy="50.82" r="1.75"/><circle cx="353.7" cy="50.31" r="1.75"/><circle cx="354.55" cy="49.89" r="1.75"/><circle cx="355.4" cy="49.32" r="1.75"/><circle cx="356.25" cy="50.85" r="1.75"/><circle cx="357.1" cy="50.49" r="1.75"/><circle cx="357.95" cy="50.09" r="1.75"/><circle cx="358.8" cy="49.94" r="1.75"/><circle cx="359.65" cy="49.9" r="1.75"/><circle cx="360.5" cy="49.59" r="1.75"/><circle cx="361.35" cy="50.62" r="1.75"/><circle cx="362.2" cy="49.84" r="1.75"/><circle cx="363.05" cy="49.08" r="1.75"/><circle cx="363.9" cy="49.4" r="1.75"/><circle cx="364.75" cy="48.51" r="1.75"/><circle cx="365.6" cy="49.95" r="1.75"/><circle cx="366.45" cy="49.97" r="1.75"/><circle cx="367.3" cy="50.4" r="1.75"/><circle cx="368.15" cy="50.52" r="1.75"/><circle cx="369" cy="49.2" r="1.75"/><circle cx="369.85" cy="49.73" r="1.75"/><circle cx="370.7" cy="49.96" r="1.75"/><circle cx="371.55" cy="49.84" r="1.75"/><circle cx="372.4" cy="49.23" r="1.75"/><circle cx="373.25" cy="49.8" r="1.75"/><circle cx="374.1" cy="49.64" r="1.75"/><circle cx="374.95" cy="50.01" r="1.75"/><circle cx="375.8" cy="49.36" r="1.75"/><circle cx="376.65" cy="49.25" r="1.75"/><circle cx="377.5" cy="49.1" r="1.75"/><circle cx="378.35" cy="49.14" r="1.75"/><circle cx="379.2" cy="48.95" r="1.75"/><circle cx="380.05" cy="49.12" r="1.75"/><circle cx="380.9" cy="49.48" r="1.75"/><circle cx="381.75" cy="49.44" r="1.75"/><circle cx="382.6" cy="49.8" r="1.75"/><circle cx="383.45" cy="49.68" r="1.75"/><circle cx="384.3" cy="49.45" r="1.75"/><circle cx="385.15" cy="48.63" r="1.75"/><circle cx="386" cy="49.39" r="1.75"/><circle cx="386.85" cy="49.64" r="1.75"/><circle cx="387.7" cy="48.51" r="1.75"/><circle cx="388.55" cy="48.57" r="1.75"/><circle cx="389.4" cy="48.63" r="1.75"/><circle cx="390.25" cy="48.57" r="1.75"/><circle cx="391.1" cy="48.89" r="1.75"/><circle cx="391.95" cy="48.58" r="1.75"/><circle cx="392.8" cy="49.16" r="1.75"/><circle cx="393.65" cy="48.42" r="1.75"/><circle cx="394.5" cy="48.9" r="1.75"/><circle cx="395.35" cy="48.71" r="1.75"/><circle cx="396.2" cy="48.48" r="1.75"/><circle cx="397.05" cy="49.37" r="1.75"/><circle cx="397.9" cy="48.9" r="1.75"/><circle cx="398.75" cy="49.12" r="1.75"/><circle cx="399.6" cy="48.71" r="1.75"/><circle cx="400.45" cy="49.16" r="1.75"/><circle cx="401.3" cy="49.1" r="1.75"/><circle cx="402.15" cy="48.74" r="1.75"/><circle cx="403" cy="48" r="1.75"/><circle cx="403.85" cy="49.15" r="1.75"/><circle cx="404.7" cy="49.08" r="1.75"/><circle cx="405.55" cy="48.83" r="1.75"/><circle cx="406.4" cy="48.85" r="1.75"/><circle cx="407.25" cy="48.78" r="1.75"/><circle cx="408.1" cy="48.79" r="1.75"/><circle cx="408.95" cy="48.24" r="1.75"/><circle cx="409.8" cy="48.65" r="1.75"/><circle cx="410.65" cy="48.81" r="1.75"/><circle cx="411.5" cy="48.37" r="1.75"/><circle cx="412.35" cy="48.2" r="1.75"/><circle cx="413.2" cy="49.46" r="1.75"/><circle cx="414.05" cy="48.88" r="1.75"/><circle cx="414.9" cy="48.45" r="1.75"/><circle cx="415.75" cy="48.35" r="1.75"/><circle cx="416.6" cy="47.37" r="1.75"/><circle cx="417.45" cy="47.9" r="1.75"/><circle cx="418.3" cy="48.42" r="1.75"/><circle cx="419.15" cy="49.09" r="1.75"/><circle cx="420" cy="47.57" r="1.75"/><circle cx="420.85" cy="48.16" r="1.75"/><circle cx="421.7" cy="49.32" r="1.75"/><circle cx="422.55" cy="48.74" r="1.75"/><circle cx="423.4" cy="48.61" r="1.75"/><circle cx="424.25" cy="48.94" r="1.75"/><circle cx="425.1" cy="48.33" r="1.75"/><circle cx="425.95" cy="48.29" r="1.75"/><circle cx="426.8" cy="48.67" r="1.75"/><circle cx="427.65" cy="48.71" r="1.75"/><circle cx="428.5" cy="47.82" r="1.75"/><circle cx="429.35" cy="48.97" r="1.75"/><circle cx="430.2" cy="47.47" r="1.75"/><circle cx="431.05" cy="47.92" r="1.75"/><circle cx="431.9" cy="49.59" r="1.75"/><circle cx="432.75" cy="47.95" r="1.75"/><circle cx="433.6" cy="48.44" r="1.75"/><circle cx="434.45" cy="47.67" r="1.75"/><circle cx="435.3" cy="47.94" r="1.75"/><circle cx="436.15" cy="47.72" r="1.75"/><circle cx="437" cy="47.83" r="1.75"/><circle cx="437.85" cy="48.27" r="1.75"/><circle cx="438.7" cy="48.72" r="1.75"/><circle cx="439.55" cy="48.28" r="1.75"/><circle cx="440.4" cy="48.54" r="1.75"/><circle cx="441.25" cy="47.56" r="1.75"/><circle cx="442.1" cy="48.39" r="1.75"/><circle cx="442.95" cy="47.92" r="1.75"/><circle cx="443.8" cy="48.22" r="1.75"/><circle cx="444.65" cy="47.35" r="1.75"/><circle cx="445.5" cy="47.35" r="1.75"/><circle cx="446.35" cy="47.99" r="1.75"/><circle cx="447.2" cy="47.56" r="1.75"/><circle cx="448.05" cy="47.24" r="1.75"/><circle cx="448.9" cy="46.77" r="1.75"/><circle cx="449.75" cy="46.92" r="1.75"/><circle cx="450.6" cy="47.05" r="1.75"/><circle cx="451.45" cy="47.02" r="1.75"/><circle cx="452.3" cy="46.29" r="1.75"/><circle cx="453.15" cy="46.21" r="1.75"/><circle cx="454" cy="46.36" r="1.75"/><circle cx="454.85" cy="45.46" r="1.75"/><circle cx="455.7" cy="46.14" r="1.75"/><circle cx="456.55" cy="45.45" r="1.75"/><circle cx="457.4" cy="45.09" r="1.75"/><circle cx="458.25" cy="43.72" r="1.75"/><circle cx="459.1" cy="43.7" r="1.75"/><circle cx="459.95" cy="43.51" r="1.75"/><circle cx="460.8" cy="43.22" r="1.75"/><circle cx="461.65" cy="42.41" r="1.75"/><circle cx="462.5" cy="42.41" r="1.75"/><circle cx="463.35" cy="41.54" r="1.75"/><circle cx="464.2" cy="40.47" r="1.75"/><circle cx="465.05" cy="38.63" r="1.75"/><circle cx="465.9" cy="38.95" r="1.75"/><circle cx="466.75" cy="36.75" r="1.75"/><circle cx="467.6" cy="35.43" r="1.75"/><circle cx="468.45" cy="32.84" r="1.75"/><circle cx="469.3" cy="30.73" r="1.75"/><circle cx="470.15" cy="28.2" r="1.75"/><circle cx="471" cy="24.66" r="1.75"/><circle cx="471.85" cy="21.17" r="1.75"/><circle cx="472.7" cy="16.42" r="1.75"/><circle cx="473.55" cy="12.93" r="1.75"/><circle cx="474.4" cy="6.89" r="1.75"/><circle cx="475.25" cy="3.94" r="1.75"/><circle cx="476.1" cy="2.45" r="1.75"/><circle cx="476.95" cy="1.58" r="1.75"/><circle cx="477.8" cy="3.11" r="1.75"/><circle cx="478.65" cy="5.69" r="1.75"/><circle cx="479.5" cy="11.18" r="1.75"/><circle cx="480.35" cy="14.29" r="1.75"/><circle cx="481.2" cy="19.76" r="1.75"/><circle cx="482.05" cy="23.63" r="1.75"/><circle cx="482.9" cy="27.48" r="1.75"/><circle cx="483.75" cy="30.79" r="1.75"/><circle cx="484.6" cy="32.41" r="1.75"/><circle cx="485.45" cy="34.56" r="1.75"/><circle cx="486.3" cy="36.63" r="1.75"/><circle cx="487.15" cy="37.57" r="1.75"/><circle cx="488" cy="40.05" r="1.75"/><circle cx="488.85" cy="40.65" r="1.75"/><circle cx="489.7" cy="41.88" r="1.75"/><circle cx="490.55" cy="42.14" r="1.75"/><circle cx="491.4" cy="43.39" r="1.75"/><circle cx="492.25" cy="43.74" r="1.75"/><circle cx="493.1" cy="44.55" r="1.75"/><circle cx="493.95" cy="44.59" r="1.75"/><circle cx="494.8" cy="45.99" r="1.75"/><circle cx="495.65" cy="45.63" r="1.75"/><circle cx="496.5" cy="45.12" r="1.75"/><circle cx="497.35" cy="46.88" r="1.75"/><circle cx="498.2" cy="46.74" r="1.75"/><circle cx="499.05" cy="46.74" r="1.75"/><circle cx="499.9" cy="48.5" r="1.75"/><circle cx="500.75" cy="47.57" r="1.75"/><circle cx="501.6" cy="47.2" r="1.75"/><circle cx="502.45" cy="47.71" r="1.75"/><circle cx="503.3" cy="48.33" r="1.75"/><circle cx="504.15" cy="48.22" r="1.75"/><circle cx="505" cy="49.03" r="1.75"/><circle cx="505.85" cy="49.09" r="1.75"/><circle cx="506.7" cy="48.39" r="1.75"/><circle cx="507.55" cy="48.89" r="1.75"/><circle cx="508.4" cy="49.28" r="1.75"/><circle cx="509.25" cy="48.91" r="1.75"/><circle cx="510.1" cy="49" r="1.75"/><circle cx="510.95" cy="49.71" r="1.75"/><circle cx="511.8" cy="49.61" r="1.75"/><circle cx="512.65" cy="48.87" r="1.75"/><circle cx="513.5" cy="49.35" r="1.75"/><circle cx="514.35" cy="49.49" r="1.75"/><circle cx="515.2" cy="49.71" r="1.75"/><circle cx="516.05" cy="49.52" r="1.75"/><circle cx="516.9" cy="50.53" r="1.75"/><circle cx="517.75" cy="49.56" r="1.75"/><circle cx="518.6" cy="49.59" r="1.75"/><circle cx="519.45" cy="50.24" r="1.75"/><circle cx="520.3" cy="49.2" r="1.75"/><circle cx="521.15" cy="49.82" r="1.75"/><circle cx="522" cy="50.64" r="1.75"/><circle cx="522.85" cy="49.83" r="1.75"/><circle cx="523.7" cy="50.11" r="1.75"/><circle cx="524.55" cy="51.04" r="1.75"/><circle cx="525.4" cy="50.82" r="1.75"/><circle cx="526.25" cy="50.71" r="1.75"/><circle cx="527.1" cy="50.85" r="1.75"/><circle cx="527.95" cy="50.5" r="1.75"/><circle cx="528.8" cy="51" r="1.75"/><circle cx="529.65" cy="50.83" r="1.75"/><circle cx="530.5" cy="52.11" r="1.75"/><circle cx="531.35" cy="51.29" r="1.75"/><circle cx="532.2" cy="50.95" r="1.75"/><circle cx="533.05" cy="51.14" r="1.75"/><circle cx="533.9" cy="51.24" r="1.75"/><circle cx="534.75" cy="50.65" r="1.75"/><circle cx="535.6" cy="50.96" r="1.75"/><circle cx="536.45" cy="52.08" r="1.75"/><circle cx="537.3" cy="50.81" r="1.75"/><circle cx="538.15" cy="51.24" r="1.75"/><circle cx="539" cy="52.02" r="1.75"/></g>
<path d="M321.85,51.25 L322.58,51.22 L323.31,51.18 L324.04,51.15 L324.76,51.11 L325.49,51.08 L326.22,51.05 L326.95,51.02 L327.68,50.98 L328.41,50.95 L329.14,50.92 L329.86,50.89 L330.59,50.86 L331.32,50.82 L332.05,50.79 L332.78,50.76 L333.51,50.73 L334.24,50.7 L334.96,50.67 L335.69,50.64 L336.42,50.61 L337.15,50.58 L337.88,50.55 L338.61,50.52 L339.34,50.5 L340.06,50.47 L340.79,50.44 L341.52,50.41 L342.25,50.38 L342.98,50.35 L343.71,50.33 L344.44,50.3 L345.17,50.27 L345.89,50.25 L346.62,50.22 L347.35,50.19 L348.08,50.17 L348.81,50.14 L349.54,50.12 L350.27,50.09 L350.99,50.06 L351.72,50.04 L352.45,50.01 L353.18,49.99 L353.91,49.97 L354.64,49.94 L355.37,49.92 L356.09,49.89 L356.82,49.87 L357.55,49.85 L358.28,49.82 L359.01,49.8 L359.74,49.78 L360.47,49.76 L361.19,49.73 L361.92,49.71 L362.65,49.69 L363.38,49.67 L364.11,49.65 L364.84,49.63 L365.57,49.61 L366.29,49.58 L367.02,49.56 L367.75,49.54 L368.48,49.52 L369.21,49.5 L369.94,49.48 L370.67,49.46 L371.39,49.44 L372.12,49.43 L372.85,49.41 L373.58,49.39 L374.31,49.37 L375.04,49.35 L375.77,49.33 L376.49,49.31 L377.22,49.3 L377.95,49.28 L378.68,49.26 L379.41,49.24 L380.14,49.23 L380.87,49.21 L381.59,49.19 L382.32,49.18 L383.05,49.16 L383.78,49.14 L384.51,49.13 L385.24,49.11 L385.97,49.1 L386.69,49.08 L387.42,49.07 L388.15,49.05 L388.88,49.04 L389.61,49.02 L390.34,49.01 L391.07,48.99 L391.8,48.98 L392.52,48.96 L393.25,48.95 L393.98,48.93 L394.71,48.92 L395.44,48.91 L396.17,48.89 L396.9,48.88 L397.62,48.87 L398.35,48.85 L399.08,48.84 L399.81,48.83 L400.54,48.81 L401.27,48.8 L402,48.79 L402.72,48.77 L403.45,48.76 L404.18,48.75 L404.91,48.74 L405.64,48.72 L406.37,48.71 L407.1,48.7 L407.82,48.69 L408.55,48.67 L409.28,48.66 L410.01,48.65 L410.74,48.64 L411.47,48.62 L412.2,48.61 L412.92,48.6 L413.65,48.59 L414.38,48.57 L415.11,48.56 L415.84,48.55 L416.57,48.53 L417.3,48.52 L418.02,48.51 L418.75,48.49 L419.48,48.48 L420.21,48.46 L420.94,48.45 L421.67,48.44 L422.4,48.42 L423.12,48.4 L423.85,48.39 L424.58,48.37 L425.31,48.36 L426.04,48.34 L426.77,48.32 L427.5,48.3 L428.22,48.28 L428.95,48.26 L429.68,48.24 L430.41,48.22 L431.14,48.2 L431.87,48.18 L432.6,48.15 L433.33,48.13 L434.05,48.1 L434.78,48.08 L435.51,48.05 L436.24,48.02 L436.97,47.99 L437.7,47.95 L438.43,47.92 L439.15,47.88 L439.88,47.84 L440.61,47.8 L441.34,47.75 L442.07,47.7 L442.8,47.65 L443.53,47.6 L444.25,47.54 L444.98,47.48 L445.71,47.41 L446.44,47.34 L447.17,47.26 L447.9,47.18 L448.63,47.09 L449.35,46.99 L450.08,46.89 L450.81,46.78 L451.54,46.65 L452.27,46.52 L453,46.37 L453.73,46.21 L454.45,46.04 L455.18,45.85 L455.91,45.64 L456.64,45.4 L457.37,45.14 L458.1,44.86 L458.83,44.54 L459.55,44.18 L460.28,43.79 L461.01,43.34 L461.74,42.84 L462.47,42.27 L463.2,41.63 L463.93,40.89 L464.65,40.05 L465.38,39.09 L466.11,37.99 L466.84,36.71 L467.57,35.24 L468.3,33.53 L469.03,31.55 L469.75,29.26 L470.48,26.64 L471.21,23.65 L471.94,20.31 L472.67,16.66 L473.4,12.84 L474.13,9.08 L474.86,5.71 L475.58,3.14 L476.31,1.75 L477.04,1.78 L477.77,3.22 L478.5,5.84 L479.23,9.25 L479.96,13.05 L480.68,16.9 L481.41,20.58 L482.14,23.95 L482.87,26.97 L483.6,29.63 L484.33,31.94 L485.06,33.95 L485.78,35.69 L486.51,37.2 L487.24,38.51 L487.97,39.65 L488.7,40.64 L489.43,41.51 L490.16,42.28 L490.88,42.96 L491.61,43.56 L492.34,44.1 L493.07,44.58 L493.8,45.01 L494.53,45.4 L495.26,45.76 L495.98,46.08 L496.71,46.37 L497.44,46.64 L498.17,46.88 L498.9,47.11 L499.63,47.32 L500.36,47.51 L501.08,47.7 L501.81,47.86 L502.54,48.02 L503.27,48.17 L504,48.31 L504.73,48.44 L505.46,48.57 L506.18,48.68 L506.91,48.8 L507.64,48.9 L508.37,49 L509.1,49.1 L509.83,49.19 L510.56,49.28 L511.28,49.37 L512.01,49.45 L512.74,49.53 L513.47,49.61 L514.2,49.68 L514.93,49.76 L515.66,49.83 L516.38,49.89 L517.11,49.96 L517.84,50.03 L518.57,50.09 L519.3,50.15 L520.03,50.21 L520.76,50.27 L521.49,50.33 L522.21,50.39 L522.94,50.45 L523.67,50.5 L524.4,50.56 L525.13,50.61 L525.86,50.67 L526.59,50.72 L527.31,50.77 L528.04,50.83 L528.77,50.88 L529.5,50.93 L530.23,50.98 L530.96,51.03 L531.69,51.08 L532.41,51.13 L533.14,51.18 L533.87,51.23 L534.6,51.28 L535.33,51.33 L536.06,51.38 L536.79,51.42 L537.51,51.47 L538.24,51.52 L538.97,51.57 L539.7,51.62" fill="none" stroke="#260606" stroke-width="1.35" clip-path="url(#cb)"/>
<path d="M321.85,108.45 L322.58,108.45 L323.31,108.45 L324.04,108.45 L324.76,108.45 L325.49,108.45 L326.22,108.45 L326.95,108.44 L327.68,108.44 L328.41,108.44 L329.14,108.44 L329.86,108.44 L330.59,108.44 L331.32,108.43 L332.05,108.43 L332.78,108.43 L333.51,108.43 L334.24,108.43 L334.96,108.43 L335.69,108.42 L336.42,108.42 L337.15,108.42 L337.88,108.42 L338.61,108.42 L339.34,108.41 L340.06,108.41 L340.79,108.41 L341.52,108.41 L342.25,108.41 L342.98,108.4 L343.71,108.4 L344.44,108.4 L345.17,108.4 L345.89,108.4 L346.62,108.39 L347.35,108.39 L348.08,108.39 L348.81,108.39 L349.54,108.38 L350.27,108.38 L350.99,108.38 L351.72,108.38 L352.45,108.37 L353.18,108.37 L353.91,108.37 L354.64,108.37 L355.37,108.36 L356.09,108.36 L356.82,108.36 L357.55,108.35 L358.28,108.35 L359.01,108.35 L359.74,108.34 L360.47,108.34 L361.19,108.34 L361.92,108.34 L362.65,108.33 L363.38,108.33 L364.11,108.32 L364.84,108.32 L365.57,108.32 L366.29,108.31 L367.02,108.31 L367.75,108.31 L368.48,108.3 L369.21,108.3 L369.94,108.29 L370.67,108.29 L371.39,108.29 L372.12,108.28 L372.85,108.28 L373.58,108.27 L374.31,108.27 L375.04,108.26 L375.77,108.26 L376.49,108.25 L377.22,108.25 L377.95,108.24 L378.68,108.24 L379.41,108.23 L380.14,108.23 L380.87,108.22 L381.59,108.22 L382.32,108.21 L383.05,108.2 L383.78,108.2 L384.51,108.19 L385.24,108.19 L385.97,108.18 L386.69,108.17 L387.42,108.17 L388.15,108.16 L388.88,108.15 L389.61,108.14 L390.34,108.14 L391.07,108.13 L391.8,108.12 L392.52,108.11 L393.25,108.1 L393.98,108.09 L394.71,108.09 L395.44,108.08 L396.17,108.07 L396.9,108.06 L397.62,108.05 L398.35,108.04 L399.08,108.03 L399.81,108.02 L400.54,108.01 L401.27,107.99 L402,107.98 L402.72,107.97 L403.45,107.96 L404.18,107.95 L404.91,107.93 L405.64,107.92 L406.37,107.91 L407.1,107.89 L407.82,107.88 L408.55,107.86 L409.28,107.85 L410.01,107.83 L410.74,107.81 L411.47,107.8 L412.2,107.78 L412.92,107.76 L413.65,107.74 L414.38,107.72 L415.11,107.7 L415.84,107.68 L416.57,107.66 L417.3,107.64 L418.02,107.61 L418.75,107.59 L419.48,107.56 L420.21,107.54 L420.94,107.51 L421.67,107.48 L422.4,107.45 L423.12,107.42 L423.85,107.39 L424.58,107.36 L425.31,107.32 L426.04,107.29 L426.77,107.25 L427.5,107.21 L428.22,107.17 L428.95,107.13 L429.68,107.09 L430.41,107.04 L431.14,106.99 L431.87,106.94 L432.6,106.89 L433.33,106.84 L434.05,106.78 L434.78,106.72 L435.51,106.65 L436.24,106.59 L436.97,106.52 L437.7,106.44 L438.43,106.37 L439.15,106.28 L439.88,106.2 L440.61,106.11 L441.34,106.01 L442.07,105.91 L442.8,105.8 L443.53,105.69 L444.25,105.57 L444.98,105.44 L445.71,105.3 L446.44,105.15 L447.17,105 L447.9,104.83 L448.63,104.66 L449.35,104.47 L450.08,104.26 L450.81,104.05 L451.54,103.81 L452.27,103.56 L453,103.29 L453.73,103 L454.45,102.68 L455.18,102.34 L455.91,101.97 L456.64,101.57 L457.37,101.14 L458.1,100.66 L458.83,100.14 L459.55,99.58 L460.28,98.96 L461.01,98.28 L461.74,97.54 L462.47,96.72 L463.2,95.82 L463.93,94.84 L464.65,93.75 L465.38,92.56 L466.11,91.24 L466.84,89.8 L467.57,88.23 L468.3,86.51 L469.03,84.65 L469.75,82.65 L470.48,80.53 L471.21,78.31 L471.94,76.02 L472.67,73.74 L473.4,71.52 L474.13,69.46 L474.86,67.68 L475.58,66.27 L476.31,65.32 L477.04,64.91 L477.77,65.07 L478.5,65.79 L479.23,67.01 L479.96,68.64 L480.68,70.59 L481.41,72.75 L482.14,75.02 L482.87,77.32 L483.6,79.57 L484.33,81.74 L485.06,83.8 L485.78,85.72 L486.51,87.5 L487.24,89.13 L487.97,90.63 L488.7,92 L489.43,93.24 L490.16,94.38 L490.88,95.4 L491.61,96.34 L492.34,97.19 L493.07,97.97 L493.8,98.67 L494.53,99.32 L495.26,99.9 L495.98,100.44 L496.71,100.93 L497.44,101.39 L498.17,101.8 L498.9,102.19 L499.63,102.54 L500.36,102.86 L501.08,103.17 L501.81,103.45 L502.54,103.71 L503.27,103.95 L504,104.17 L504.73,104.38 L505.46,104.57 L506.18,104.76 L506.91,104.93 L507.64,105.09 L508.37,105.24 L509.1,105.38 L509.83,105.51 L510.56,105.63 L511.28,105.75 L512.01,105.86 L512.74,105.97 L513.47,106.07 L514.2,106.16 L514.93,106.25 L515.66,106.33 L516.38,106.41 L517.11,106.49 L517.84,106.56 L518.57,106.63 L519.3,106.69 L520.03,106.75 L520.76,106.81 L521.49,106.87 L522.21,106.92 L522.94,106.97 L523.67,107.02 L524.4,107.07 L525.13,107.11 L525.86,107.15 L526.59,107.2 L527.31,107.23 L528.04,107.27 L528.77,107.31 L529.5,107.34 L530.23,107.38 L530.96,107.41 L531.69,107.44 L532.41,107.47 L533.14,107.5 L533.87,107.52 L534.6,107.55 L535.33,107.58 L536.06,107.6 L536.79,107.63 L537.51,107.65 L538.24,107.67 L538.97,107.69 L539.7,107.71" fill="none" stroke="#3d5a8a" stroke-width="1.7" clip-path="url(#cb)"/>
<g fill="none" stroke="#c82a2a" stroke-width="1.05" clip-path="url(#cc)"><circle cx="320.55" cy="102.19" r="1.75"/><circle cx="321.4" cy="101.04" r="1.75"/><circle cx="322.25" cy="102.15" r="1.75"/><circle cx="323.1" cy="101.32" r="1.75"/><circle cx="323.95" cy="102.23" r="1.75"/><circle cx="324.8" cy="101.7" r="1.75"/><circle cx="325.65" cy="101.34" r="1.75"/><circle cx="326.5" cy="101.79" r="1.75"/><circle cx="327.35" cy="101.7" r="1.75"/><circle cx="328.2" cy="101.1" r="1.75"/><circle cx="329.05" cy="102.41" r="1.75"/><circle cx="329.9" cy="101.28" r="1.75"/><circle cx="330.75" cy="101.94" r="1.75"/><circle cx="331.6" cy="101.2" r="1.75"/><circle cx="332.45" cy="100.59" r="1.75"/><circle cx="333.3" cy="100.9" r="1.75"/><circle cx="334.15" cy="101.35" r="1.75"/><circle cx="335" cy="101.7" r="1.75"/><circle cx="335.85" cy="102.18" r="1.75"/><circle cx="336.7" cy="101.41" r="1.75"/><circle cx="337.55" cy="101.24" r="1.75"/><circle cx="338.4" cy="100.81" r="1.75"/><circle cx="339.25" cy="101.34" r="1.75"/><circle cx="340.1" cy="101.49" r="1.75"/><circle cx="340.95" cy="100.35" r="1.75"/><circle cx="341.8" cy="101.92" r="1.75"/><circle cx="342.65" cy="101.84" r="1.75"/><circle cx="343.5" cy="102.35" r="1.75"/><circle cx="344.35" cy="100.91" r="1.75"/><circle cx="345.2" cy="101.33" r="1.75"/><circle cx="346.05" cy="101.31" r="1.75"/><circle cx="346.9" cy="100.7" r="1.75"/><circle cx="347.75" cy="100.91" r="1.75"/><circle cx="348.6" cy="100.84" r="1.75"/><circle cx="349.45" cy="101.51" r="1.75"/><circle cx="350.3" cy="101.47" r="1.75"/><circle cx="351.15" cy="101.87" r="1.75"/><circle cx="352" cy="101.08" r="1.75"/><circle cx="352.85" cy="100.62" r="1.75"/><circle cx="353.7" cy="101.44" r="1.75"/><circle cx="354.55" cy="101.41" r="1.75"/><circle cx="355.4" cy="101.53" r="1.75"/><circle cx="356.25" cy="101.79" r="1.75"/><circle cx="357.1" cy="100.96" r="1.75"/><circle cx="357.95" cy="101.58" r="1.75"/><circle cx="358.8" cy="100.76" r="1.75"/><circle cx="359.65" cy="101.27" r="1.75"/><circle cx="360.5" cy="101.51" r="1.75"/><circle cx="361.35" cy="101.14" r="1.75"/><circle cx="362.2" cy="101.28" r="1.75"/><circle cx="363.05" cy="100.55" r="1.75"/><circle cx="363.9" cy="100.88" r="1.75"/><circle cx="364.75" cy="101.23" r="1.75"/><circle cx="365.6" cy="100.62" r="1.75"/><circle cx="366.45" cy="100.77" r="1.75"/><circle cx="367.3" cy="102.24" r="1.75"/><circle cx="368.15" cy="101.26" r="1.75"/><circle cx="369" cy="100.76" r="1.75"/><circle cx="369.85" cy="100.66" r="1.75"/><circle cx="370.7" cy="101.74" r="1.75"/><circle cx="371.55" cy="99.85" r="1.75"/><circle cx="372.4" cy="100.94" r="1.75"/><circle cx="373.25" cy="101.36" r="1.75"/><circle cx="374.1" cy="100.81" r="1.75"/><circle cx="374.95" cy="101.29" r="1.75"/><circle cx="375.8" cy="100.58" r="1.75"/><circle cx="376.65" cy="101.03" r="1.75"/><circle cx="377.5" cy="101.05" r="1.75"/><circle cx="378.35" cy="101.03" r="1.75"/><circle cx="379.2" cy="101.08" r="1.75"/><circle cx="380.05" cy="101.03" r="1.75"/><circle cx="380.9" cy="101.51" r="1.75"/><circle cx="381.75" cy="100.88" r="1.75"/><circle cx="382.6" cy="100.72" r="1.75"/><circle cx="383.45" cy="100.85" r="1.75"/><circle cx="384.3" cy="100.83" r="1.75"/><circle cx="385.15" cy="100.28" r="1.75"/><circle cx="386" cy="100.09" r="1.75"/><circle cx="386.85" cy="100.34" r="1.75"/><circle cx="387.7" cy="101.07" r="1.75"/><circle cx="388.55" cy="100.63" r="1.75"/><circle cx="389.4" cy="100.74" r="1.75"/><circle cx="390.25" cy="102.2" r="1.75"/><circle cx="391.1" cy="101.41" r="1.75"/><circle cx="391.95" cy="100.8" r="1.75"/><circle cx="392.8" cy="100.6" r="1.75"/><circle cx="393.65" cy="101.5" r="1.75"/><circle cx="394.5" cy="100.51" r="1.75"/><circle cx="395.35" cy="101.41" r="1.75"/><circle cx="396.2" cy="101.11" r="1.75"/><circle cx="397.05" cy="101.46" r="1.75"/><circle cx="397.9" cy="100.5" r="1.75"/><circle cx="398.75" cy="101.22" r="1.75"/><circle cx="399.6" cy="99.99" r="1.75"/><circle cx="400.45" cy="100.71" r="1.75"/><circle cx="401.3" cy="101.27" r="1.75"/><circle cx="402.15" cy="101.08" r="1.75"/><circle cx="403" cy="99.93" r="1.75"/><circle cx="403.85" cy="101.05" r="1.75"/><circle cx="404.7" cy="100.93" r="1.75"/><circle cx="405.55" cy="100.68" r="1.75"/><circle cx="406.4" cy="100.37" r="1.75"/><circle cx="407.25" cy="100.56" r="1.75"/><circle cx="408.1" cy="100.41" r="1.75"/><circle cx="408.95" cy="101.08" r="1.75"/><circle cx="409.8" cy="100.84" r="1.75"/><circle cx="410.65" cy="101.1" r="1.75"/><circle cx="411.5" cy="100.91" r="1.75"/><circle cx="412.35" cy="100" r="1.75"/><circle cx="413.2" cy="100.62" r="1.75"/><circle cx="414.05" cy="101.51" r="1.75"/><circle cx="414.9" cy="100.02" r="1.75"/><circle cx="415.75" cy="100.62" r="1.75"/><circle cx="416.6" cy="100.12" r="1.75"/><circle cx="417.45" cy="100.05" r="1.75"/><circle cx="418.3" cy="100.52" r="1.75"/><circle cx="419.15" cy="100.81" r="1.75"/><circle cx="420" cy="100.72" r="1.75"/><circle cx="420.85" cy="100.55" r="1.75"/><circle cx="421.7" cy="100.74" r="1.75"/><circle cx="422.55" cy="99.54" r="1.75"/><circle cx="423.4" cy="100.61" r="1.75"/><circle cx="424.25" cy="100.39" r="1.75"/><circle cx="425.1" cy="100.09" r="1.75"/><circle cx="425.95" cy="100.13" r="1.75"/><circle cx="426.8" cy="99.71" r="1.75"/><circle cx="427.65" cy="100.57" r="1.75"/><circle cx="428.5" cy="99.66" r="1.75"/><circle cx="429.35" cy="99.29" r="1.75"/><circle cx="430.2" cy="99.9" r="1.75"/><circle cx="431.05" cy="99.59" r="1.75"/><circle cx="431.9" cy="99.76" r="1.75"/><circle cx="432.75" cy="100.42" r="1.75"/><circle cx="433.6" cy="99.61" r="1.75"/><circle cx="434.45" cy="99.66" r="1.75"/><circle cx="435.3" cy="100.56" r="1.75"/><circle cx="436.15" cy="98.83" r="1.75"/><circle cx="437" cy="99.54" r="1.75"/><circle cx="437.85" cy="99.82" r="1.75"/><circle cx="438.7" cy="99.88" r="1.75"/><circle cx="439.55" cy="100.12" r="1.75"/><circle cx="440.4" cy="98.7" r="1.75"/><circle cx="441.25" cy="99.16" r="1.75"/><circle cx="442.1" cy="98.73" r="1.75"/><circle cx="442.95" cy="98.44" r="1.75"/><circle cx="443.8" cy="98.18" r="1.75"/><circle cx="444.65" cy="97.7" r="1.75"/><circle cx="445.5" cy="98.35" r="1.75"/><circle cx="446.35" cy="98.36" r="1.75"/><circle cx="447.2" cy="97.36" r="1.75"/><circle cx="448.05" cy="97.98" r="1.75"/><circle cx="448.9" cy="97.17" r="1.75"/><circle cx="449.75" cy="96.73" r="1.75"/><circle cx="450.6" cy="95.74" r="1.75"/><circle cx="451.45" cy="97.15" r="1.75"/><circle cx="452.3" cy="96.67" r="1.75"/><circle cx="453.15" cy="95.87" r="1.75"/><circle cx="454" cy="95.47" r="1.75"/><circle cx="454.85" cy="94.66" r="1.75"/><circle cx="455.7" cy="95.04" r="1.75"/><circle cx="456.55" cy="94.3" r="1.75"/><circle cx="457.4" cy="94.04" r="1.75"/><circle cx="458.25" cy="93.28" r="1.75"/><circle cx="459.1" cy="91.91" r="1.75"/><circle cx="459.95" cy="91.11" r="1.75"/><circle cx="460.8" cy="91.2" r="1.75"/><circle cx="461.65" cy="89.34" r="1.75"/><circle cx="462.5" cy="89.23" r="1.75"/><circle cx="463.35" cy="88.39" r="1.75"/><circle cx="464.2" cy="86.14" r="1.75"/><circle cx="465.05" cy="85.63" r="1.75"/><circle cx="465.9" cy="83.79" r="1.75"/><circle cx="466.75" cy="82.28" r="1.75"/><circle cx="467.6" cy="79.83" r="1.75"/><circle cx="468.45" cy="78" r="1.75"/><circle cx="469.3" cy="75.91" r="1.75"/><circle cx="470.15" cy="74.09" r="1.75"/><circle cx="471" cy="71.01" r="1.75"/><circle cx="471.85" cy="68.27" r="1.75"/><circle cx="472.7" cy="64.86" r="1.75"/><circle cx="473.55" cy="63.18" r="1.75"/><circle cx="474.4" cy="60.64" r="1.75"/><circle cx="475.25" cy="59.31" r="1.75"/><circle cx="476.1" cy="58.5" r="1.75"/><circle cx="476.95" cy="58.58" r="1.75"/><circle cx="477.8" cy="58.92" r="1.75"/><circle cx="478.65" cy="59.96" r="1.75"/><circle cx="479.5" cy="61.65" r="1.75"/><circle cx="480.35" cy="64.53" r="1.75"/><circle cx="481.2" cy="66.03" r="1.75"/><circle cx="482.05" cy="69.09" r="1.75"/><circle cx="482.9" cy="72.34" r="1.75"/><circle cx="483.75" cy="74.2" r="1.75"/><circle cx="484.6" cy="77.09" r="1.75"/><circle cx="485.45" cy="79.37" r="1.75"/><circle cx="486.3" cy="81.92" r="1.75"/><circle cx="487.15" cy="83.41" r="1.75"/><circle cx="488" cy="83.85" r="1.75"/><circle cx="488.85" cy="86.12" r="1.75"/><circle cx="489.7" cy="87.62" r="1.75"/><circle cx="490.55" cy="89.09" r="1.75"/><circle cx="491.4" cy="89.99" r="1.75"/><circle cx="492.25" cy="91.66" r="1.75"/><circle cx="493.1" cy="92.19" r="1.75"/><circle cx="493.95" cy="91.95" r="1.75"/><circle cx="494.8" cy="92.92" r="1.75"/><circle cx="495.65" cy="92.92" r="1.75"/><circle cx="496.5" cy="95.23" r="1.75"/><circle cx="497.35" cy="94.92" r="1.75"/><circle cx="498.2" cy="95.4" r="1.75"/><circle cx="499.05" cy="95.19" r="1.75"/><circle cx="499.9" cy="96.11" r="1.75"/><circle cx="500.75" cy="96.87" r="1.75"/><circle cx="501.6" cy="96.83" r="1.75"/><circle cx="502.45" cy="97.15" r="1.75"/><circle cx="503.3" cy="97.33" r="1.75"/><circle cx="504.15" cy="98.78" r="1.75"/><circle cx="505" cy="97.88" r="1.75"/><circle cx="505.85" cy="97.69" r="1.75"/><circle cx="506.7" cy="98.33" r="1.75"/><circle cx="507.55" cy="98.6" r="1.75"/><circle cx="508.4" cy="98.9" r="1.75"/><circle cx="509.25" cy="99.01" r="1.75"/><circle cx="510.1" cy="98.77" r="1.75"/><circle cx="510.95" cy="99.34" r="1.75"/><circle cx="511.8" cy="99.75" r="1.75"/><circle cx="512.65" cy="99.07" r="1.75"/><circle cx="513.5" cy="100.74" r="1.75"/><circle cx="514.35" cy="100.73" r="1.75"/><circle cx="515.2" cy="99.24" r="1.75"/><circle cx="516.05" cy="100.01" r="1.75"/><circle cx="516.9" cy="100.74" r="1.75"/><circle cx="517.75" cy="100.99" r="1.75"/><circle cx="518.6" cy="101.29" r="1.75"/><circle cx="519.45" cy="99.72" r="1.75"/><circle cx="520.3" cy="100.14" r="1.75"/><circle cx="521.15" cy="100.49" r="1.75"/><circle cx="522" cy="101.06" r="1.75"/><circle cx="522.85" cy="100.39" r="1.75"/><circle cx="523.7" cy="101.15" r="1.75"/><circle cx="524.55" cy="101.23" r="1.75"/><circle cx="525.4" cy="101.42" r="1.75"/><circle cx="526.25" cy="100.57" r="1.75"/><circle cx="527.1" cy="101.31" r="1.75"/><circle cx="527.95" cy="101.31" r="1.75"/><circle cx="528.8" cy="101.15" r="1.75"/><circle cx="529.65" cy="101.99" r="1.75"/><circle cx="530.5" cy="101.32" r="1.75"/><circle cx="531.35" cy="102.17" r="1.75"/><circle cx="532.2" cy="101.29" r="1.75"/><circle cx="533.05" cy="102.39" r="1.75"/><circle cx="533.9" cy="102.41" r="1.75"/><circle cx="534.75" cy="101.33" r="1.75"/><circle cx="535.6" cy="101.91" r="1.75"/><circle cx="536.45" cy="101.94" r="1.75"/><circle cx="537.3" cy="101.4" r="1.75"/><circle cx="538.15" cy="102.25" r="1.75"/><circle cx="539" cy="102.2" r="1.75"/></g>
<path d="M321.85,101.51 L322.58,101.5 L323.31,101.49 L324.04,101.49 L324.76,101.48 L325.49,101.48 L326.22,101.47 L326.95,101.46 L327.68,101.46 L328.41,101.45 L329.14,101.44 L329.86,101.44 L330.59,101.43 L331.32,101.43 L332.05,101.42 L332.78,101.41 L333.51,101.41 L334.24,101.4 L334.96,101.4 L335.69,101.39 L336.42,101.38 L337.15,101.38 L337.88,101.37 L338.61,101.37 L339.34,101.36 L340.06,101.36 L340.79,101.35 L341.52,101.35 L342.25,101.34 L342.98,101.33 L343.71,101.33 L344.44,101.32 L345.17,101.32 L345.89,101.31 L346.62,101.31 L347.35,101.3 L348.08,101.3 L348.81,101.29 L349.54,101.29 L350.27,101.28 L350.99,101.27 L351.72,101.27 L352.45,101.26 L353.18,101.26 L353.91,101.25 L354.64,101.25 L355.37,101.24 L356.09,101.24 L356.82,101.23 L357.55,101.23 L358.28,101.22 L359.01,101.22 L359.74,101.21 L360.47,101.21 L361.19,101.2 L361.92,101.2 L362.65,101.19 L363.38,101.19 L364.11,101.18 L364.84,101.18 L365.57,101.17 L366.29,101.17 L367.02,101.16 L367.75,101.16 L368.48,101.15 L369.21,101.15 L369.94,101.14 L370.67,101.13 L371.39,101.13 L372.12,101.12 L372.85,101.12 L373.58,101.11 L374.31,101.11 L375.04,101.1 L375.77,101.1 L376.49,101.09 L377.22,101.09 L377.95,101.08 L378.68,101.07 L379.41,101.07 L380.14,101.06 L380.87,101.06 L381.59,101.05 L382.32,101.04 L383.05,101.04 L383.78,101.03 L384.51,101.03 L385.24,101.02 L385.97,101.01 L386.69,101.01 L387.42,101 L388.15,100.99 L388.88,100.99 L389.61,100.98 L390.34,100.97 L391.07,100.96 L391.8,100.96 L392.52,100.95 L393.25,100.94 L393.98,100.93 L394.71,100.92 L395.44,100.92 L396.17,100.91 L396.9,100.9 L397.62,100.89 L398.35,100.88 L399.08,100.87 L399.81,100.86 L400.54,100.85 L401.27,100.84 L402,100.83 L402.72,100.82 L403.45,100.81 L404.18,100.8 L404.91,100.79 L405.64,100.77 L406.37,100.76 L407.1,100.75 L407.82,100.74 L408.55,100.72 L409.28,100.71 L410.01,100.69 L410.74,100.68 L411.47,100.66 L412.2,100.65 L412.92,100.63 L413.65,100.61 L414.38,100.6 L415.11,100.58 L415.84,100.56 L416.57,100.54 L417.3,100.52 L418.02,100.5 L418.75,100.47 L419.48,100.45 L420.21,100.43 L420.94,100.4 L421.67,100.38 L422.4,100.35 L423.12,100.32 L423.85,100.29 L424.58,100.26 L425.31,100.23 L426.04,100.19 L426.77,100.16 L427.5,100.12 L428.22,100.08 L428.95,100.04 L429.68,100 L430.41,99.96 L431.14,99.91 L431.87,99.86 L432.6,99.81 L433.33,99.76 L434.05,99.7 L434.78,99.64 L435.51,99.58 L436.24,99.51 L436.97,99.44 L437.7,99.37 L438.43,99.29 L439.15,99.21 L439.88,99.13 L440.61,99.03 L441.34,98.94 L442.07,98.83 L442.8,98.73 L443.53,98.61 L444.25,98.49 L444.98,98.35 L445.71,98.21 L446.44,98.07 L447.17,97.91 L447.9,97.74 L448.63,97.55 L449.35,97.36 L450.08,97.15 L450.81,96.92 L451.54,96.68 L452.27,96.42 L453,96.13 L453.73,95.83 L454.45,95.5 L455.18,95.14 L455.91,94.75 L456.64,94.33 L457.37,93.87 L458.1,93.37 L458.83,92.82 L459.55,92.22 L460.28,91.57 L461.01,90.85 L461.74,90.06 L462.47,89.19 L463.2,88.24 L463.93,87.2 L464.65,86.05 L465.38,84.78 L466.11,83.4 L466.84,81.88 L467.57,80.23 L468.3,78.44 L469.03,76.51 L469.75,74.46 L470.48,72.3 L471.21,70.06 L471.94,67.8 L472.67,65.58 L473.4,63.48 L474.13,61.6 L474.86,60.05 L475.58,58.91 L476.31,58.28 L477.04,58.19 L477.77,58.65 L478.5,59.63 L479.23,61.06 L479.96,62.85 L480.68,64.9 L481.41,67.11 L482.14,69.38 L482.87,71.65 L483.6,73.86 L484.33,75.97 L485.06,77.96 L485.78,79.81 L486.51,81.53 L487.24,83.11 L487.97,84.56 L488.7,85.88 L489.43,87.08 L490.16,88.18 L490.88,89.18 L491.61,90.09 L492.34,90.93 L493.07,91.68 L493.8,92.38 L494.53,93.01 L495.26,93.59 L495.98,94.13 L496.71,94.62 L497.44,95.07 L498.17,95.49 L498.9,95.87 L499.63,96.23 L500.36,96.56 L501.08,96.86 L501.81,97.15 L502.54,97.41 L503.27,97.66 L504,97.89 L504.73,98.11 L505.46,98.31 L506.18,98.51 L506.91,98.69 L507.64,98.85 L508.37,99.01 L509.1,99.16 L509.83,99.31 L510.56,99.44 L511.28,99.57 L512.01,99.69 L512.74,99.81 L513.47,99.92 L514.2,100.02 L514.93,100.12 L515.66,100.21 L516.38,100.31 L517.11,100.39 L517.84,100.48 L518.57,100.56 L519.3,100.63 L520.03,100.71 L520.76,100.78 L521.49,100.85 L522.21,100.91 L522.94,100.97 L523.67,101.04 L524.4,101.1 L525.13,101.15 L525.86,101.21 L526.59,101.26 L527.31,101.31 L528.04,101.36 L528.77,101.41 L529.5,101.46 L530.23,101.51 L530.96,101.55 L531.69,101.6 L532.41,101.64 L533.14,101.68 L533.87,101.72 L534.6,101.76 L535.33,101.8 L536.06,101.84 L536.79,101.88 L537.51,101.91 L538.24,101.95 L538.97,101.98 L539.7,102.02" fill="none" stroke="#260606" stroke-width="1.35" clip-path="url(#cb)"/>
<path d="M321.85,158.84 L322.58,158.84 L323.31,158.84 L324.04,158.84 L324.76,158.84 L325.49,158.83 L326.22,158.83 L326.95,158.83 L327.68,158.83 L328.41,158.83 L329.14,158.83 L329.86,158.82 L330.59,158.82 L331.32,158.82 L332.05,158.82 L332.78,158.82 L333.51,158.82 L334.24,158.81 L334.96,158.81 L335.69,158.81 L336.42,158.81 L337.15,158.81 L337.88,158.8 L338.61,158.8 L339.34,158.8 L340.06,158.8 L340.79,158.8 L341.52,158.79 L342.25,158.79 L342.98,158.79 L343.71,158.79 L344.44,158.79 L345.17,158.78 L345.89,158.78 L346.62,158.78 L347.35,158.78 L348.08,158.77 L348.81,158.77 L349.54,158.77 L350.27,158.77 L350.99,158.76 L351.72,158.76 L352.45,158.76 L353.18,158.75 L353.91,158.75 L354.64,158.75 L355.37,158.75 L356.09,158.74 L356.82,158.74 L357.55,158.74 L358.28,158.73 L359.01,158.73 L359.74,158.73 L360.47,158.72 L361.19,158.72 L361.92,158.72 L362.65,158.71 L363.38,158.71 L364.11,158.71 L364.84,158.7 L365.57,158.7 L366.29,158.7 L367.02,158.69 L367.75,158.69 L368.48,158.68 L369.21,158.68 L369.94,158.68 L370.67,158.67 L371.39,158.67 L372.12,158.66 L372.85,158.66 L373.58,158.65 L374.31,158.65 L375.04,158.64 L375.77,158.64 L376.49,158.63 L377.22,158.63 L377.95,158.62 L378.68,158.62 L379.41,158.61 L380.14,158.61 L380.87,158.6 L381.59,158.59 L382.32,158.59 L383.05,158.58 L383.78,158.58 L384.51,158.57 L385.24,158.56 L385.97,158.56 L386.69,158.55 L387.42,158.54 L388.15,158.54 L388.88,158.53 L389.61,158.52 L390.34,158.51 L391.07,158.5 L391.8,158.5 L392.52,158.49 L393.25,158.48 L393.98,158.47 L394.71,158.46 L395.44,158.45 L396.17,158.44 L396.9,158.43 L397.62,158.42 L398.35,158.41 L399.08,158.4 L399.81,158.39 L400.54,158.38 L401.27,158.37 L402,158.36 L402.72,158.35 L403.45,158.33 L404.18,158.32 L404.91,158.31 L405.64,158.3 L406.37,158.28 L407.1,158.27 L407.82,158.25 L408.55,158.24 L409.28,158.22 L410.01,158.21 L410.74,158.19 L411.47,158.17 L412.2,158.16 L412.92,158.14 L413.65,158.12 L414.38,158.1 L415.11,158.08 L415.84,158.06 L416.57,158.04 L417.3,158.02 L418.02,157.99 L418.75,157.97 L419.48,157.95 L420.21,157.92 L420.94,157.89 L421.67,157.87 L422.4,157.84 L423.12,157.81 L423.85,157.78 L424.58,157.75 L425.31,157.72 L426.04,157.68 L426.77,157.65 L427.5,157.61 L428.22,157.57 L428.95,157.53 L429.68,157.49 L430.41,157.45 L431.14,157.4 L431.87,157.36 L432.6,157.31 L433.33,157.26 L434.05,157.2 L434.78,157.15 L435.51,157.09 L436.24,157.03 L436.97,156.97 L437.7,156.9 L438.43,156.83 L439.15,156.75 L439.88,156.68 L440.61,156.59 L441.34,156.51 L442.07,156.42 L442.8,156.32 L443.53,156.22 L444.25,156.12 L444.98,156 L445.71,155.88 L446.44,155.76 L447.17,155.62 L447.9,155.48 L448.63,155.33 L449.35,155.17 L450.08,155 L450.81,154.82 L451.54,154.62 L452.27,154.42 L453,154.2 L453.73,153.96 L454.45,153.7 L455.18,153.43 L455.91,153.13 L456.64,152.82 L457.37,152.48 L458.1,152.11 L458.83,151.71 L459.55,151.28 L460.28,150.81 L461.01,150.3 L461.74,149.75 L462.47,149.14 L463.2,148.49 L463.93,147.77 L464.65,146.99 L465.38,146.13 L466.11,145.2 L466.84,144.18 L467.57,143.06 L468.3,141.84 L469.03,140.51 L469.75,139.06 L470.48,137.49 L471.21,135.79 L471.94,133.98 L472.67,132.05 L473.4,130.02 L474.13,127.93 L474.86,125.81 L475.58,123.71 L476.31,121.71 L477.04,119.87 L477.77,118.3 L478.5,117.07 L479.23,116.25 L479.96,115.91 L480.68,116.06 L481.41,116.69 L482.14,117.76 L482.87,119.21 L483.6,120.95 L484.33,122.9 L485.06,124.97 L485.78,127.09 L486.51,129.2 L487.24,131.25 L487.97,133.22 L488.7,135.08 L489.43,136.83 L490.16,138.45 L490.88,139.95 L491.61,141.32 L492.34,142.59 L493.07,143.74 L493.8,144.8 L494.53,145.77 L495.26,146.66 L495.98,147.47 L496.71,148.21 L497.44,148.89 L498.17,149.51 L498.9,150.08 L499.63,150.61 L500.36,151.09 L501.08,151.54 L501.81,151.95 L502.54,152.33 L503.27,152.69 L504,153.01 L504.73,153.31 L505.46,153.6 L506.18,153.86 L506.91,154.1 L507.64,154.33 L508.37,154.54 L509.1,154.74 L509.83,154.93 L510.56,155.1 L511.28,155.27 L512.01,155.42 L512.74,155.57 L513.47,155.71 L514.2,155.83 L514.93,155.96 L515.66,156.07 L516.38,156.18 L517.11,156.28 L517.84,156.38 L518.57,156.47 L519.3,156.56 L520.03,156.64 L520.76,156.72 L521.49,156.8 L522.21,156.87 L522.94,156.94 L523.67,157 L524.4,157.07 L525.13,157.13 L525.86,157.18 L526.59,157.24 L527.31,157.29 L528.04,157.34 L528.77,157.39 L529.5,157.43 L530.23,157.48 L530.96,157.52 L531.69,157.56 L532.41,157.6 L533.14,157.63 L533.87,157.67 L534.6,157.7 L535.33,157.74 L536.06,157.77 L536.79,157.8 L537.51,157.83 L538.24,157.86 L538.97,157.88 L539.7,157.91" fill="none" stroke="#3d5a8a" stroke-width="1.7" clip-path="url(#cb)"/>
<g fill="none" stroke="#c82a2a" stroke-width="1.05" clip-path="url(#cc)"><circle cx="320.55" cy="149.61" r="1.75"/><circle cx="321.4" cy="150.07" r="1.75"/><circle cx="322.25" cy="150.44" r="1.75"/><circle cx="323.1" cy="149.98" r="1.75"/><circle cx="323.95" cy="149.74" r="1.75"/><circle cx="324.8" cy="150.83" r="1.75"/><circle cx="325.65" cy="149.64" r="1.75"/><circle cx="326.5" cy="150.26" r="1.75"/><circle cx="327.35" cy="150.63" r="1.75"/><circle cx="328.2" cy="150.49" r="1.75"/><circle cx="329.05" cy="149.3" r="1.75"/><circle cx="329.9" cy="150.01" r="1.75"/><circle cx="330.75" cy="150.11" r="1.75"/><circle cx="331.6" cy="150.08" r="1.75"/><circle cx="332.45" cy="150.48" r="1.75"/><circle cx="333.3" cy="150.46" r="1.75"/><circle cx="334.15" cy="150.28" r="1.75"/><circle cx="335" cy="150.35" r="1.75"/><circle cx="335.85" cy="150.71" r="1.75"/><circle cx="336.7" cy="150.83" r="1.75"/><circle cx="337.55" cy="149.4" r="1.75"/><circle cx="338.4" cy="151.28" r="1.75"/><circle cx="339.25" cy="150.04" r="1.75"/><circle cx="340.1" cy="150.66" r="1.75"/><circle cx="340.95" cy="149.57" r="1.75"/><circle cx="341.8" cy="150.1" r="1.75"/><circle cx="342.65" cy="149.77" r="1.75"/><circle cx="343.5" cy="150.85" r="1.75"/><circle cx="344.35" cy="150.77" r="1.75"/><circle cx="345.2" cy="150.38" r="1.75"/><circle cx="346.05" cy="150.31" r="1.75"/><circle cx="346.9" cy="150.57" r="1.75"/><circle cx="347.75" cy="149.98" r="1.75"/><circle cx="348.6" cy="150.14" r="1.75"/><circle cx="349.45" cy="150.08" r="1.75"/><circle cx="350.3" cy="150.81" r="1.75"/><circle cx="351.15" cy="150.46" r="1.75"/><circle cx="352" cy="149.88" r="1.75"/><circle cx="352.85" cy="150.62" r="1.75"/><circle cx="353.7" cy="150.72" r="1.75"/><circle cx="354.55" cy="151.12" r="1.75"/><circle cx="355.4" cy="150.24" r="1.75"/><circle cx="356.25" cy="150.69" r="1.75"/><circle cx="357.1" cy="151.47" r="1.75"/><circle cx="357.95" cy="150.38" r="1.75"/><circle cx="358.8" cy="150.37" r="1.75"/><circle cx="359.65" cy="150.77" r="1.75"/><circle cx="360.5" cy="150.32" r="1.75"/><circle cx="361.35" cy="150.56" r="1.75"/><circle cx="362.2" cy="150.34" r="1.75"/><circle cx="363.05" cy="150.22" r="1.75"/><circle cx="363.9" cy="150.99" r="1.75"/><circle cx="364.75" cy="150.42" r="1.75"/><circle cx="365.6" cy="150.14" r="1.75"/><circle cx="366.45" cy="150.48" r="1.75"/><circle cx="367.3" cy="150.55" r="1.75"/><circle cx="368.15" cy="150.76" r="1.75"/><circle cx="369" cy="151.06" r="1.75"/><circle cx="369.85" cy="151.45" r="1.75"/><circle cx="370.7" cy="150.09" r="1.75"/><circle cx="371.55" cy="150.54" r="1.75"/><circle cx="372.4" cy="149.83" r="1.75"/><circle cx="373.25" cy="150.77" r="1.75"/><circle cx="374.1" cy="150.91" r="1.75"/><circle cx="374.95" cy="150.38" r="1.75"/><circle cx="375.8" cy="150.27" r="1.75"/><circle cx="376.65" cy="150.24" r="1.75"/><circle cx="377.5" cy="150.01" r="1.75"/><circle cx="378.35" cy="150.99" r="1.75"/><circle cx="379.2" cy="151.57" r="1.75"/><circle cx="380.05" cy="150.19" r="1.75"/><circle cx="380.9" cy="151.46" r="1.75"/><circle cx="381.75" cy="150.67" r="1.75"/><circle cx="382.6" cy="150.09" r="1.75"/><circle cx="383.45" cy="150.98" r="1.75"/><circle cx="384.3" cy="151.08" r="1.75"/><circle cx="385.15" cy="150.91" r="1.75"/><circle cx="386" cy="150.62" r="1.75"/><circle cx="386.85" cy="151.5" r="1.75"/><circle cx="387.7" cy="150.61" r="1.75"/><circle cx="388.55" cy="151.04" r="1.75"/><circle cx="389.4" cy="151.05" r="1.75"/><circle cx="390.25" cy="150.34" r="1.75"/><circle cx="391.1" cy="149.91" r="1.75"/><circle cx="391.95" cy="149.97" r="1.75"/><circle cx="392.8" cy="150.58" r="1.75"/><circle cx="393.65" cy="150.92" r="1.75"/><circle cx="394.5" cy="149.95" r="1.75"/><circle cx="395.35" cy="150.43" r="1.75"/><circle cx="396.2" cy="151.46" r="1.75"/><circle cx="397.05" cy="149.94" r="1.75"/><circle cx="397.9" cy="150.97" r="1.75"/><circle cx="398.75" cy="150.92" r="1.75"/><circle cx="399.6" cy="151.12" r="1.75"/><circle cx="400.45" cy="150.09" r="1.75"/><circle cx="401.3" cy="150.91" r="1.75"/><circle cx="402.15" cy="150.12" r="1.75"/><circle cx="403" cy="151.36" r="1.75"/><circle cx="403.85" cy="150.36" r="1.75"/><circle cx="404.7" cy="150.92" r="1.75"/><circle cx="405.55" cy="150.38" r="1.75"/><circle cx="406.4" cy="150.8" r="1.75"/><circle cx="407.25" cy="150.03" r="1.75"/><circle cx="408.1" cy="150.86" r="1.75"/><circle cx="408.95" cy="151" r="1.75"/><circle cx="409.8" cy="150.71" r="1.75"/><circle cx="410.65" cy="151.44" r="1.75"/><circle cx="411.5" cy="150.87" r="1.75"/><circle cx="412.35" cy="151.05" r="1.75"/><circle cx="413.2" cy="150.91" r="1.75"/><circle cx="414.05" cy="151.53" r="1.75"/><circle cx="414.9" cy="150.36" r="1.75"/><circle cx="415.75" cy="150.52" r="1.75"/><circle cx="416.6" cy="150.53" r="1.75"/><circle cx="417.45" cy="150.9" r="1.75"/><circle cx="418.3" cy="150.72" r="1.75"/><circle cx="419.15" cy="150.97" r="1.75"/><circle cx="420" cy="150.71" r="1.75"/><circle cx="420.85" cy="150.32" r="1.75"/><circle cx="421.7" cy="150.51" r="1.75"/><circle cx="422.55" cy="150.71" r="1.75"/><circle cx="423.4" cy="149.45" r="1.75"/><circle cx="424.25" cy="151.1" r="1.75"/><circle cx="425.1" cy="150.18" r="1.75"/><circle cx="425.95" cy="150.25" r="1.75"/><circle cx="426.8" cy="150.51" r="1.75"/><circle cx="427.65" cy="150.24" r="1.75"/><circle cx="428.5" cy="149.66" r="1.75"/><circle cx="429.35" cy="150.18" r="1.75"/><circle cx="430.2" cy="150.88" r="1.75"/><circle cx="431.05" cy="150.69" r="1.75"/><circle cx="431.9" cy="150.73" r="1.75"/><circle cx="432.75" cy="149.87" r="1.75"/><circle cx="433.6" cy="149.97" r="1.75"/><circle cx="434.45" cy="150.5" r="1.75"/><circle cx="435.3" cy="150.65" r="1.75"/><circle cx="436.15" cy="149.92" r="1.75"/><circle cx="437" cy="149.4" r="1.75"/><circle cx="437.85" cy="148.89" r="1.75"/><circle cx="438.7" cy="150.36" r="1.75"/><circle cx="439.55" cy="148.93" r="1.75"/><circle cx="440.4" cy="149.74" r="1.75"/><circle cx="441.25" cy="149.86" r="1.75"/><circle cx="442.1" cy="150.86" r="1.75"/><circle cx="442.95" cy="149.35" r="1.75"/><circle cx="443.8" cy="149.1" r="1.75"/><circle cx="444.65" cy="149.24" r="1.75"/><circle cx="445.5" cy="149.14" r="1.75"/><circle cx="446.35" cy="149.39" r="1.75"/><circle cx="447.2" cy="148.94" r="1.75"/><circle cx="448.05" cy="148.11" r="1.75"/><circle cx="448.9" cy="147.32" r="1.75"/><circle cx="449.75" cy="148.25" r="1.75"/><circle cx="450.6" cy="147.6" r="1.75"/><circle cx="451.45" cy="148.35" r="1.75"/><circle cx="452.3" cy="146.85" r="1.75"/><circle cx="453.15" cy="147.3" r="1.75"/><circle cx="454" cy="146.59" r="1.75"/><circle cx="454.85" cy="146.22" r="1.75"/><circle cx="455.7" cy="147.07" r="1.75"/><circle cx="456.55" cy="146.01" r="1.75"/><circle cx="457.4" cy="145.46" r="1.75"/><circle cx="458.25" cy="145.45" r="1.75"/><circle cx="459.1" cy="144.27" r="1.75"/><circle cx="459.95" cy="143.94" r="1.75"/><circle cx="460.8" cy="143.24" r="1.75"/><circle cx="461.65" cy="143.81" r="1.75"/><circle cx="462.5" cy="142.34" r="1.75"/><circle cx="463.35" cy="141.7" r="1.75"/><circle cx="464.2" cy="141.06" r="1.75"/><circle cx="465.05" cy="139.5" r="1.75"/><circle cx="465.9" cy="138.45" r="1.75"/><circle cx="466.75" cy="136.58" r="1.75"/><circle cx="467.6" cy="136.25" r="1.75"/><circle cx="468.45" cy="134.69" r="1.75"/><circle cx="469.3" cy="132.77" r="1.75"/><circle cx="470.15" cy="131.76" r="1.75"/><circle cx="471" cy="128.43" r="1.75"/><circle cx="471.85" cy="127.36" r="1.75"/><circle cx="472.7" cy="124.27" r="1.75"/><circle cx="473.55" cy="122.01" r="1.75"/><circle cx="474.4" cy="120.01" r="1.75"/><circle cx="475.25" cy="118.29" r="1.75"/><circle cx="476.1" cy="114.78" r="1.75"/><circle cx="476.95" cy="112.74" r="1.75"/><circle cx="477.8" cy="110.88" r="1.75"/><circle cx="478.65" cy="111.1" r="1.75"/><circle cx="479.5" cy="109.71" r="1.75"/><circle cx="480.35" cy="109.62" r="1.75"/><circle cx="481.2" cy="111.01" r="1.75"/><circle cx="482.05" cy="111.38" r="1.75"/><circle cx="482.9" cy="112" r="1.75"/><circle cx="483.75" cy="114.84" r="1.75"/><circle cx="484.6" cy="116.86" r="1.75"/><circle cx="485.45" cy="120.81" r="1.75"/><circle cx="486.3" cy="121.67" r="1.75"/><circle cx="487.15" cy="124.88" r="1.75"/><circle cx="488" cy="126.79" r="1.75"/><circle cx="488.85" cy="128.97" r="1.75"/><circle cx="489.7" cy="131.17" r="1.75"/><circle cx="490.55" cy="132.91" r="1.75"/><circle cx="491.4" cy="134.31" r="1.75"/><circle cx="492.25" cy="135.55" r="1.75"/><circle cx="493.1" cy="137.18" r="1.75"/><circle cx="493.95" cy="138.22" r="1.75"/><circle cx="494.8" cy="139.39" r="1.75"/><circle cx="495.65" cy="140.86" r="1.75"/><circle cx="496.5" cy="141.64" r="1.75"/><circle cx="497.35" cy="142.74" r="1.75"/><circle cx="498.2" cy="143.15" r="1.75"/><circle cx="499.05" cy="144.83" r="1.75"/><circle cx="499.9" cy="144.19" r="1.75"/><circle cx="500.75" cy="144.62" r="1.75"/><circle cx="501.6" cy="146.07" r="1.75"/><circle cx="502.45" cy="145.72" r="1.75"/><circle cx="503.3" cy="146.53" r="1.75"/><circle cx="504.15" cy="147.32" r="1.75"/><circle cx="505" cy="147.18" r="1.75"/><circle cx="505.85" cy="147.38" r="1.75"/><circle cx="506.7" cy="148.31" r="1.75"/><circle cx="507.55" cy="148.29" r="1.75"/><circle cx="508.4" cy="148.15" r="1.75"/><circle cx="509.25" cy="148.08" r="1.75"/><circle cx="510.1" cy="148.68" r="1.75"/><circle cx="510.95" cy="148.29" r="1.75"/><circle cx="511.8" cy="148.86" r="1.75"/><circle cx="512.65" cy="148.94" r="1.75"/><circle cx="513.5" cy="149.76" r="1.75"/><circle cx="514.35" cy="150.14" r="1.75"/><circle cx="515.2" cy="149.63" r="1.75"/><circle cx="516.05" cy="149.87" r="1.75"/><circle cx="516.9" cy="149.69" r="1.75"/><circle cx="517.75" cy="149.68" r="1.75"/><circle cx="518.6" cy="150.25" r="1.75"/><circle cx="519.45" cy="150.83" r="1.75"/><circle cx="520.3" cy="150.89" r="1.75"/><circle cx="521.15" cy="151.05" r="1.75"/><circle cx="522" cy="150.74" r="1.75"/><circle cx="522.85" cy="149.68" r="1.75"/><circle cx="523.7" cy="151.48" r="1.75"/><circle cx="524.55" cy="151.75" r="1.75"/><circle cx="525.4" cy="151.63" r="1.75"/><circle cx="526.25" cy="151.71" r="1.75"/><circle cx="527.1" cy="151.87" r="1.75"/><circle cx="527.95" cy="152.68" r="1.75"/><circle cx="528.8" cy="151.64" r="1.75"/><circle cx="529.65" cy="152.29" r="1.75"/><circle cx="530.5" cy="152" r="1.75"/><circle cx="531.35" cy="152" r="1.75"/><circle cx="532.2" cy="151.68" r="1.75"/><circle cx="533.05" cy="151.63" r="1.75"/><circle cx="533.9" cy="151.32" r="1.75"/><circle cx="534.75" cy="152.17" r="1.75"/><circle cx="535.6" cy="151.8" r="1.75"/><circle cx="536.45" cy="151.43" r="1.75"/><circle cx="537.3" cy="151.68" r="1.75"/><circle cx="538.15" cy="151.52" r="1.75"/><circle cx="539" cy="152.87" r="1.75"/></g>
<path d="M321.85,150.08 L322.58,150.09 L323.31,150.1 L324.04,150.11 L324.76,150.12 L325.49,150.13 L326.22,150.14 L326.95,150.15 L327.68,150.16 L328.41,150.17 L329.14,150.18 L329.86,150.19 L330.59,150.2 L331.32,150.21 L332.05,150.22 L332.78,150.23 L333.51,150.24 L334.24,150.25 L334.96,150.26 L335.69,150.27 L336.42,150.27 L337.15,150.28 L337.88,150.29 L338.61,150.3 L339.34,150.31 L340.06,150.32 L340.79,150.33 L341.52,150.34 L342.25,150.35 L342.98,150.36 L343.71,150.37 L344.44,150.38 L345.17,150.38 L345.89,150.39 L346.62,150.4 L347.35,150.41 L348.08,150.42 L348.81,150.43 L349.54,150.44 L350.27,150.44 L350.99,150.45 L351.72,150.46 L352.45,150.47 L353.18,150.48 L353.91,150.49 L354.64,150.49 L355.37,150.5 L356.09,150.51 L356.82,150.52 L357.55,150.53 L358.28,150.53 L359.01,150.54 L359.74,150.55 L360.47,150.56 L361.19,150.57 L361.92,150.57 L362.65,150.58 L363.38,150.59 L364.11,150.59 L364.84,150.6 L365.57,150.61 L366.29,150.62 L367.02,150.62 L367.75,150.63 L368.48,150.64 L369.21,150.64 L369.94,150.65 L370.67,150.66 L371.39,150.66 L372.12,150.67 L372.85,150.68 L373.58,150.68 L374.31,150.69 L375.04,150.69 L375.77,150.7 L376.49,150.7 L377.22,150.71 L377.95,150.72 L378.68,150.72 L379.41,150.73 L380.14,150.73 L380.87,150.74 L381.59,150.74 L382.32,150.75 L383.05,150.75 L383.78,150.75 L384.51,150.76 L385.24,150.76 L385.97,150.77 L386.69,150.77 L387.42,150.77 L388.15,150.78 L388.88,150.78 L389.61,150.78 L390.34,150.79 L391.07,150.79 L391.8,150.79 L392.52,150.79 L393.25,150.79 L393.98,150.8 L394.71,150.8 L395.44,150.8 L396.17,150.8 L396.9,150.8 L397.62,150.8 L398.35,150.8 L399.08,150.8 L399.81,150.8 L400.54,150.8 L401.27,150.8 L402,150.8 L402.72,150.8 L403.45,150.79 L404.18,150.79 L404.91,150.79 L405.64,150.79 L406.37,150.78 L407.1,150.78 L407.82,150.77 L408.55,150.77 L409.28,150.76 L410.01,150.76 L410.74,150.75 L411.47,150.74 L412.2,150.74 L412.92,150.73 L413.65,150.72 L414.38,150.71 L415.11,150.7 L415.84,150.69 L416.57,150.68 L417.3,150.67 L418.02,150.65 L418.75,150.64 L419.48,150.63 L420.21,150.61 L420.94,150.59 L421.67,150.58 L422.4,150.56 L423.12,150.54 L423.85,150.52 L424.58,150.5 L425.31,150.47 L426.04,150.45 L426.77,150.42 L427.5,150.4 L428.22,150.37 L428.95,150.34 L429.68,150.3 L430.41,150.27 L431.14,150.24 L431.87,150.2 L432.6,150.16 L433.33,150.12 L434.05,150.07 L434.78,150.03 L435.51,149.98 L436.24,149.92 L436.97,149.87 L437.7,149.81 L438.43,149.75 L439.15,149.68 L439.88,149.61 L440.61,149.54 L441.34,149.46 L442.07,149.38 L442.8,149.29 L443.53,149.2 L444.25,149.1 L444.98,148.99 L445.71,148.88 L446.44,148.76 L447.17,148.64 L447.9,148.5 L448.63,148.36 L449.35,148.2 L450.08,148.04 L450.81,147.86 L451.54,147.67 L452.27,147.47 L453,147.26 L453.73,147.02 L454.45,146.77 L455.18,146.5 L455.91,146.21 L456.64,145.9 L457.37,145.56 L458.1,145.19 L458.83,144.79 L459.55,144.36 L460.28,143.89 L461.01,143.38 L461.74,142.82 L462.47,142.22 L463.2,141.56 L463.93,140.83 L464.65,140.05 L465.38,139.18 L466.11,138.24 L466.84,137.21 L467.57,136.08 L468.3,134.85 L469.03,133.5 L469.75,132.04 L470.48,130.46 L471.21,128.75 L471.94,126.93 L472.67,125 L473.4,122.98 L474.13,120.9 L474.86,118.8 L475.58,116.73 L476.31,114.78 L477.04,113 L477.77,111.5 L478.5,110.35 L479.23,109.62 L479.96,109.37 L480.68,109.6 L481.41,110.3 L482.14,111.43 L482.87,112.92 L483.6,114.69 L484.33,116.65 L485.06,118.72 L485.78,120.84 L486.51,122.95 L487.24,124.99 L487.97,126.95 L488.7,128.81 L489.43,130.54 L490.16,132.15 L490.88,133.65 L491.61,135.02 L492.34,136.28 L493.07,137.44 L493.8,138.5 L494.53,139.47 L495.26,140.36 L495.98,141.18 L496.71,141.92 L497.44,142.61 L498.17,143.24 L498.9,143.82 L499.63,144.35 L500.36,144.84 L501.08,145.3 L501.81,145.72 L502.54,146.11 L503.27,146.47 L504,146.8 L504.73,147.12 L505.46,147.41 L506.18,147.68 L506.91,147.93 L507.64,148.17 L508.37,148.39 L509.1,148.6 L509.83,148.8 L510.56,148.98 L511.28,149.16 L512.01,149.32 L512.74,149.47 L513.47,149.62 L514.2,149.76 L514.93,149.89 L515.66,150.02 L516.38,150.13 L517.11,150.25 L517.84,150.35 L518.57,150.45 L519.3,150.55 L520.03,150.64 L520.76,150.73 L521.49,150.82 L522.21,150.9 L522.94,150.98 L523.67,151.05 L524.4,151.12 L525.13,151.19 L525.86,151.26 L526.59,151.32 L527.31,151.38 L528.04,151.44 L528.77,151.5 L529.5,151.55 L530.23,151.61 L530.96,151.66 L531.69,151.71 L532.41,151.75 L533.14,151.8 L533.87,151.84 L534.6,151.89 L535.33,151.93 L536.06,151.97 L536.79,152.01 L537.51,152.05 L538.24,152.09 L538.97,152.12 L539.7,152.16" fill="none" stroke="#260606" stroke-width="1.35" clip-path="url(#cb)"/>
<path d="M321.85,208.1 L322.58,208.09 L323.31,208.09 L324.04,208.09 L324.76,208.08 L325.49,208.08 L326.22,208.07 L326.95,208.07 L327.68,208.06 L328.41,208.06 L329.14,208.05 L329.86,208.05 L330.59,208.04 L331.32,208.03 L332.05,208.03 L332.78,208.02 L333.51,208.02 L334.24,208.01 L334.96,208.01 L335.69,208 L336.42,207.99 L337.15,207.99 L337.88,207.98 L338.61,207.98 L339.34,207.97 L340.06,207.96 L340.79,207.96 L341.52,207.95 L342.25,207.94 L342.98,207.94 L343.71,207.93 L344.44,207.92 L345.17,207.91 L345.89,207.91 L346.62,207.9 L347.35,207.89 L348.08,207.88 L348.81,207.88 L349.54,207.87 L350.27,207.86 L350.99,207.85 L351.72,207.84 L352.45,207.84 L353.18,207.83 L353.91,207.82 L354.64,207.81 L355.37,207.8 L356.09,207.79 L356.82,207.78 L357.55,207.77 L358.28,207.76 L359.01,207.75 L359.74,207.74 L360.47,207.73 L361.19,207.72 L361.92,207.71 L362.65,207.7 L363.38,207.69 L364.11,207.68 L364.84,207.67 L365.57,207.65 L366.29,207.64 L367.02,207.63 L367.75,207.62 L368.48,207.6 L369.21,207.59 L369.94,207.58 L370.67,207.57 L371.39,207.55 L372.12,207.54 L372.85,207.52 L373.58,207.51 L374.31,207.49 L375.04,207.48 L375.77,207.46 L376.49,207.45 L377.22,207.43 L377.95,207.42 L378.68,207.4 L379.41,207.38 L380.14,207.37 L380.87,207.35 L381.59,207.33 L382.32,207.31 L383.05,207.29 L383.78,207.27 L384.51,207.25 L385.24,207.23 L385.97,207.21 L386.69,207.19 L387.42,207.17 L388.15,207.15 L388.88,207.13 L389.61,207.1 L390.34,207.08 L391.07,207.06 L391.8,207.03 L392.52,207.01 L393.25,206.98 L393.98,206.95 L394.71,206.93 L395.44,206.9 L396.17,206.87 L396.9,206.84 L397.62,206.81 L398.35,206.78 L399.08,206.75 L399.81,206.72 L400.54,206.68 L401.27,206.65 L402,206.61 L402.72,206.58 L403.45,206.54 L404.18,206.5 L404.91,206.46 L405.64,206.42 L406.37,206.38 L407.1,206.34 L407.82,206.3 L408.55,206.25 L409.28,206.21 L410.01,206.16 L410.74,206.11 L411.47,206.06 L412.2,206.01 L412.92,205.96 L413.65,205.9 L414.38,205.85 L415.11,205.79 L415.84,205.73 L416.57,205.67 L417.3,205.6 L418.02,205.54 L418.75,205.47 L419.48,205.4 L420.21,205.33 L420.94,205.25 L421.67,205.17 L422.4,205.09 L423.12,205.01 L423.85,204.93 L424.58,204.84 L425.31,204.74 L426.04,204.65 L426.77,204.55 L427.5,204.45 L428.22,204.34 L428.95,204.23 L429.68,204.12 L430.41,204 L431.14,203.88 L431.87,203.75 L432.6,203.62 L433.33,203.48 L434.05,203.34 L434.78,203.19 L435.51,203.03 L436.24,202.87 L436.97,202.7 L437.7,202.53 L438.43,202.34 L439.15,202.15 L439.88,201.95 L440.61,201.75 L441.34,201.53 L442.07,201.3 L442.8,201.06 L443.53,200.82 L444.25,200.56 L444.98,200.28 L445.71,200 L446.44,199.7 L447.17,199.39 L447.9,199.06 L448.63,198.72 L449.35,198.36 L450.08,197.98 L450.81,197.58 L451.54,197.17 L452.27,196.73 L453,196.27 L453.73,195.79 L454.45,195.28 L455.18,194.75 L455.91,194.19 L456.64,193.6 L457.37,192.98 L458.1,192.34 L458.83,191.66 L459.55,190.94 L460.28,190.19 L461.01,189.41 L461.74,188.59 L462.47,187.74 L463.2,186.85 L463.93,185.92 L464.65,184.95 L465.38,183.95 L466.11,182.92 L466.84,181.86 L467.57,180.77 L468.3,179.67 L469.03,178.54 L469.75,177.4 L470.48,176.27 L471.21,175.14 L471.94,174.03 L472.67,172.96 L473.4,171.92 L474.13,170.95 L474.86,170.04 L475.58,169.22 L476.31,168.5 L477.04,167.9 L477.77,167.42 L478.5,167.07 L479.23,166.86 L479.96,166.8 L480.68,166.88 L481.41,167.11 L482.14,167.48 L482.87,167.98 L483.6,168.61 L484.33,169.34 L485.06,170.17 L485.78,171.09 L486.51,172.08 L487.24,173.12 L487.97,174.2 L488.7,175.31 L489.43,176.44 L490.16,177.58 L490.88,178.71 L491.61,179.83 L492.34,180.94 L493.07,182.02 L493.8,183.08 L494.53,184.11 L495.26,185.1 L495.98,186.06 L496.71,186.98 L497.44,187.87 L498.17,188.72 L498.9,189.53 L499.63,190.31 L500.36,191.05 L501.08,191.76 L501.81,192.44 L502.54,193.08 L503.27,193.69 L504,194.28 L504.73,194.83 L505.46,195.36 L506.18,195.86 L506.91,196.34 L507.64,196.8 L508.37,197.23 L509.1,197.65 L509.83,198.04 L510.56,198.42 L511.28,198.77 L512.01,199.11 L512.74,199.44 L513.47,199.75 L514.2,200.04 L514.93,200.33 L515.66,200.6 L516.38,200.85 L517.11,201.1 L517.84,201.34 L518.57,201.56 L519.3,201.78 L520.03,201.98 L520.76,202.18 L521.49,202.37 L522.21,202.55 L522.94,202.73 L523.67,202.9 L524.4,203.06 L525.13,203.21 L525.86,203.36 L526.59,203.5 L527.31,203.64 L528.04,203.77 L528.77,203.9 L529.5,204.02 L530.23,204.14 L530.96,204.25 L531.69,204.36 L532.41,204.46 L533.14,204.57 L533.87,204.66 L534.6,204.76 L535.33,204.85 L536.06,204.94 L536.79,205.02 L537.51,205.11 L538.24,205.19 L538.97,205.26 L539.7,205.34" fill="none" stroke="#3d5a8a" stroke-width="1.7" clip-path="url(#cb)"/>
<g fill="none" stroke="#c82a2a" stroke-width="1.05" clip-path="url(#cc)"><circle cx="320.55" cy="199.49" r="1.75"/><circle cx="321.4" cy="199.75" r="1.75"/><circle cx="322.25" cy="198.79" r="1.75"/><circle cx="323.1" cy="198.93" r="1.75"/><circle cx="323.95" cy="200.44" r="1.75"/><circle cx="324.8" cy="199.51" r="1.75"/><circle cx="325.65" cy="199.85" r="1.75"/><circle cx="326.5" cy="201.03" r="1.75"/><circle cx="327.35" cy="201.21" r="1.75"/><circle cx="328.2" cy="200.2" r="1.75"/><circle cx="329.05" cy="200.05" r="1.75"/><circle cx="329.9" cy="199.87" r="1.75"/><circle cx="330.75" cy="199.5" r="1.75"/><circle cx="331.6" cy="201.18" r="1.75"/><circle cx="332.45" cy="198.83" r="1.75"/><circle cx="333.3" cy="199.65" r="1.75"/><circle cx="334.15" cy="198.31" r="1.75"/><circle cx="335" cy="198.8" r="1.75"/><circle cx="335.85" cy="200.01" r="1.75"/><circle cx="336.7" cy="200.05" r="1.75"/><circle cx="337.55" cy="199.97" r="1.75"/><circle cx="338.4" cy="199.49" r="1.75"/><circle cx="339.25" cy="199.21" r="1.75"/><circle cx="340.1" cy="199.33" r="1.75"/><circle cx="340.95" cy="199.45" r="1.75"/><circle cx="341.8" cy="200.52" r="1.75"/><circle cx="342.65" cy="200.79" r="1.75"/><circle cx="343.5" cy="200.05" r="1.75"/><circle cx="344.35" cy="199.34" r="1.75"/><circle cx="345.2" cy="199.05" r="1.75"/><circle cx="346.05" cy="199.95" r="1.75"/><circle cx="346.9" cy="199.57" r="1.75"/><circle cx="347.75" cy="198.41" r="1.75"/><circle cx="348.6" cy="200.73" r="1.75"/><circle cx="349.45" cy="199.73" r="1.75"/><circle cx="350.3" cy="199.5" r="1.75"/><circle cx="351.15" cy="199.1" r="1.75"/><circle cx="352" cy="199.1" r="1.75"/><circle cx="352.85" cy="200.39" r="1.75"/><circle cx="353.7" cy="199.05" r="1.75"/><circle cx="354.55" cy="199.8" r="1.75"/><circle cx="355.4" cy="200.19" r="1.75"/><circle cx="356.25" cy="201.07" r="1.75"/><circle cx="357.1" cy="200.17" r="1.75"/><circle cx="357.95" cy="199.7" r="1.75"/><circle cx="358.8" cy="199.4" r="1.75"/><circle cx="359.65" cy="200.35" r="1.75"/><circle cx="360.5" cy="200.45" r="1.75"/><circle cx="361.35" cy="199.41" r="1.75"/><circle cx="362.2" cy="200.14" r="1.75"/><circle cx="363.05" cy="199.61" r="1.75"/><circle cx="363.9" cy="198.53" r="1.75"/><circle cx="364.75" cy="198.97" r="1.75"/><circle cx="365.6" cy="200.29" r="1.75"/><circle cx="366.45" cy="200.75" r="1.75"/><circle cx="367.3" cy="200.19" r="1.75"/><circle cx="368.15" cy="199.54" r="1.75"/><circle cx="369" cy="199.16" r="1.75"/><circle cx="369.85" cy="200.07" r="1.75"/><circle cx="370.7" cy="199.91" r="1.75"/><circle cx="371.55" cy="198.49" r="1.75"/><circle cx="372.4" cy="200.14" r="1.75"/><circle cx="373.25" cy="199.14" r="1.75"/><circle cx="374.1" cy="200.14" r="1.75"/><circle cx="374.95" cy="200.03" r="1.75"/><circle cx="375.8" cy="200.16" r="1.75"/><circle cx="376.65" cy="200.41" r="1.75"/><circle cx="377.5" cy="200.13" r="1.75"/><circle cx="378.35" cy="198.84" r="1.75"/><circle cx="379.2" cy="198.86" r="1.75"/><circle cx="380.05" cy="200.35" r="1.75"/><circle cx="380.9" cy="199.93" r="1.75"/><circle cx="381.75" cy="198.42" r="1.75"/><circle cx="382.6" cy="198.1" r="1.75"/><circle cx="383.45" cy="200.2" r="1.75"/><circle cx="384.3" cy="201.15" r="1.75"/><circle cx="385.15" cy="200.12" r="1.75"/><circle cx="386" cy="199.33" r="1.75"/><circle cx="386.85" cy="199.69" r="1.75"/><circle cx="387.7" cy="197.5" r="1.75"/><circle cx="388.55" cy="198.74" r="1.75"/><circle cx="389.4" cy="200.18" r="1.75"/><circle cx="390.25" cy="200.06" r="1.75"/><circle cx="391.1" cy="197.86" r="1.75"/><circle cx="391.95" cy="200.25" r="1.75"/><circle cx="392.8" cy="199.76" r="1.75"/><circle cx="393.65" cy="200.04" r="1.75"/><circle cx="394.5" cy="199.19" r="1.75"/><circle cx="395.35" cy="199.31" r="1.75"/><circle cx="396.2" cy="198.5" r="1.75"/><circle cx="397.05" cy="199.5" r="1.75"/><circle cx="397.9" cy="199.89" r="1.75"/><circle cx="398.75" cy="198.53" r="1.75"/><circle cx="399.6" cy="199.45" r="1.75"/><circle cx="400.45" cy="198.77" r="1.75"/><circle cx="401.3" cy="199.89" r="1.75"/><circle cx="402.15" cy="199.81" r="1.75"/><circle cx="403" cy="197.35" r="1.75"/><circle cx="403.85" cy="199.36" r="1.75"/><circle cx="404.7" cy="199.74" r="1.75"/><circle cx="405.55" cy="198.56" r="1.75"/><circle cx="406.4" cy="198.77" r="1.75"/><circle cx="407.25" cy="198.78" r="1.75"/><circle cx="408.1" cy="198.01" r="1.75"/><circle cx="408.95" cy="198.72" r="1.75"/><circle cx="409.8" cy="199.89" r="1.75"/><circle cx="410.65" cy="199.06" r="1.75"/><circle cx="411.5" cy="199.78" r="1.75"/><circle cx="412.35" cy="199.34" r="1.75"/><circle cx="413.2" cy="199.44" r="1.75"/><circle cx="414.05" cy="198.6" r="1.75"/><circle cx="414.9" cy="199.02" r="1.75"/><circle cx="415.75" cy="199.86" r="1.75"/><circle cx="416.6" cy="199.4" r="1.75"/><circle cx="417.45" cy="198.5" r="1.75"/><circle cx="418.3" cy="197.69" r="1.75"/><circle cx="419.15" cy="197.46" r="1.75"/><circle cx="420" cy="198.23" r="1.75"/><circle cx="420.85" cy="198.3" r="1.75"/><circle cx="421.7" cy="196.56" r="1.75"/><circle cx="422.55" cy="197.97" r="1.75"/><circle cx="423.4" cy="197.98" r="1.75"/><circle cx="424.25" cy="197.85" r="1.75"/><circle cx="425.1" cy="197.14" r="1.75"/><circle cx="425.95" cy="199.11" r="1.75"/><circle cx="426.8" cy="197.96" r="1.75"/><circle cx="427.65" cy="196.22" r="1.75"/><circle cx="428.5" cy="196.58" r="1.75"/><circle cx="429.35" cy="197.56" r="1.75"/><circle cx="430.2" cy="197.22" r="1.75"/><circle cx="431.05" cy="196.81" r="1.75"/><circle cx="431.9" cy="196.55" r="1.75"/><circle cx="432.75" cy="196.27" r="1.75"/><circle cx="433.6" cy="195.94" r="1.75"/><circle cx="434.45" cy="195.36" r="1.75"/><circle cx="435.3" cy="196.35" r="1.75"/><circle cx="436.15" cy="193.73" r="1.75"/><circle cx="437" cy="195.02" r="1.75"/><circle cx="437.85" cy="196.25" r="1.75"/><circle cx="438.7" cy="194.57" r="1.75"/><circle cx="439.55" cy="194.05" r="1.75"/><circle cx="440.4" cy="196.06" r="1.75"/><circle cx="441.25" cy="195.19" r="1.75"/><circle cx="442.1" cy="194.06" r="1.75"/><circle cx="442.95" cy="193.47" r="1.75"/><circle cx="443.8" cy="193.44" r="1.75"/><circle cx="444.65" cy="193.05" r="1.75"/><circle cx="445.5" cy="192.8" r="1.75"/><circle cx="446.35" cy="192.09" r="1.75"/><circle cx="447.2" cy="192.66" r="1.75"/><circle cx="448.05" cy="191.48" r="1.75"/><circle cx="448.9" cy="190.16" r="1.75"/><circle cx="449.75" cy="190.1" r="1.75"/><circle cx="450.6" cy="190.59" r="1.75"/><circle cx="451.45" cy="189.36" r="1.75"/><circle cx="452.3" cy="187.79" r="1.75"/><circle cx="453.15" cy="190.13" r="1.75"/><circle cx="454" cy="188.82" r="1.75"/><circle cx="454.85" cy="187.51" r="1.75"/><circle cx="455.7" cy="186.82" r="1.75"/><circle cx="456.55" cy="186.88" r="1.75"/><circle cx="457.4" cy="186.78" r="1.75"/><circle cx="458.25" cy="184.56" r="1.75"/><circle cx="459.1" cy="184.49" r="1.75"/><circle cx="459.95" cy="182.87" r="1.75"/><circle cx="460.8" cy="182.65" r="1.75"/><circle cx="461.65" cy="180.62" r="1.75"/><circle cx="462.5" cy="179.11" r="1.75"/><circle cx="463.35" cy="179.43" r="1.75"/><circle cx="464.2" cy="178.2" r="1.75"/><circle cx="465.05" cy="177.61" r="1.75"/><circle cx="465.9" cy="175.39" r="1.75"/><circle cx="466.75" cy="175.61" r="1.75"/><circle cx="467.6" cy="173.39" r="1.75"/><circle cx="468.45" cy="173.11" r="1.75"/><circle cx="469.3" cy="170.4" r="1.75"/><circle cx="470.15" cy="170.39" r="1.75"/><circle cx="471" cy="167.9" r="1.75"/><circle cx="471.85" cy="166.72" r="1.75"/><circle cx="472.7" cy="166.03" r="1.75"/><circle cx="473.55" cy="162.82" r="1.75"/><circle cx="474.4" cy="162.19" r="1.75"/><circle cx="475.25" cy="163.25" r="1.75"/><circle cx="476.1" cy="159.93" r="1.75"/><circle cx="476.95" cy="159.91" r="1.75"/><circle cx="477.8" cy="160.08" r="1.75"/><circle cx="478.65" cy="160.35" r="1.75"/><circle cx="479.5" cy="158.73" r="1.75"/><circle cx="480.35" cy="159.2" r="1.75"/><circle cx="481.2" cy="158.51" r="1.75"/><circle cx="482.05" cy="159.46" r="1.75"/><circle cx="482.9" cy="161.08" r="1.75"/><circle cx="483.75" cy="161.35" r="1.75"/><circle cx="484.6" cy="162.02" r="1.75"/><circle cx="485.45" cy="163.41" r="1.75"/><circle cx="486.3" cy="164.37" r="1.75"/><circle cx="487.15" cy="165.65" r="1.75"/><circle cx="488" cy="166.59" r="1.75"/><circle cx="488.85" cy="167.49" r="1.75"/><circle cx="489.7" cy="170.07" r="1.75"/><circle cx="490.55" cy="170.13" r="1.75"/><circle cx="491.4" cy="173.08" r="1.75"/><circle cx="492.25" cy="175.24" r="1.75"/><circle cx="493.1" cy="176.13" r="1.75"/><circle cx="493.95" cy="178" r="1.75"/><circle cx="494.8" cy="176.81" r="1.75"/><circle cx="495.65" cy="178.94" r="1.75"/><circle cx="496.5" cy="179.32" r="1.75"/><circle cx="497.35" cy="180.48" r="1.75"/><circle cx="498.2" cy="180.82" r="1.75"/><circle cx="499.05" cy="182.19" r="1.75"/><circle cx="499.9" cy="184.63" r="1.75"/><circle cx="500.75" cy="185.42" r="1.75"/><circle cx="501.6" cy="186.63" r="1.75"/><circle cx="502.45" cy="187.38" r="1.75"/><circle cx="503.3" cy="187.9" r="1.75"/><circle cx="504.15" cy="187.47" r="1.75"/><circle cx="505" cy="188.65" r="1.75"/><circle cx="505.85" cy="189.91" r="1.75"/><circle cx="506.7" cy="190.9" r="1.75"/><circle cx="507.55" cy="190.3" r="1.75"/><circle cx="508.4" cy="190.76" r="1.75"/><circle cx="509.25" cy="191.32" r="1.75"/><circle cx="510.1" cy="193.28" r="1.75"/><circle cx="510.95" cy="193" r="1.75"/><circle cx="511.8" cy="192.8" r="1.75"/><circle cx="512.65" cy="192.89" r="1.75"/><circle cx="513.5" cy="194.15" r="1.75"/><circle cx="514.35" cy="193" r="1.75"/><circle cx="515.2" cy="194.4" r="1.75"/><circle cx="516.05" cy="194.5" r="1.75"/><circle cx="516.9" cy="194.81" r="1.75"/><circle cx="517.75" cy="195.68" r="1.75"/><circle cx="518.6" cy="196.13" r="1.75"/><circle cx="519.45" cy="198.3" r="1.75"/><circle cx="520.3" cy="196.45" r="1.75"/><circle cx="521.15" cy="197.13" r="1.75"/><circle cx="522" cy="196.29" r="1.75"/><circle cx="522.85" cy="195.91" r="1.75"/><circle cx="523.7" cy="198.15" r="1.75"/><circle cx="524.55" cy="198.95" r="1.75"/><circle cx="525.4" cy="197.02" r="1.75"/><circle cx="526.25" cy="197.88" r="1.75"/><circle cx="527.1" cy="198.92" r="1.75"/><circle cx="527.95" cy="198.37" r="1.75"/><circle cx="528.8" cy="196.75" r="1.75"/><circle cx="529.65" cy="199.37" r="1.75"/><circle cx="530.5" cy="198.7" r="1.75"/><circle cx="531.35" cy="199.48" r="1.75"/><circle cx="532.2" cy="198.41" r="1.75"/><circle cx="533.05" cy="199.88" r="1.75"/><circle cx="533.9" cy="200.13" r="1.75"/><circle cx="534.75" cy="198.99" r="1.75"/><circle cx="535.6" cy="200" r="1.75"/><circle cx="536.45" cy="199.31" r="1.75"/><circle cx="537.3" cy="199.52" r="1.75"/><circle cx="538.15" cy="199.34" r="1.75"/><circle cx="539" cy="199.8" r="1.75"/></g>
<path d="M321.85,199.68 L322.58,199.68 L323.31,199.68 L324.04,199.68 L324.76,199.69 L325.49,199.69 L326.22,199.69 L326.95,199.69 L327.68,199.7 L328.41,199.7 L329.14,199.7 L329.86,199.7 L330.59,199.71 L331.32,199.71 L332.05,199.71 L332.78,199.71 L333.51,199.71 L334.24,199.71 L334.96,199.72 L335.69,199.72 L336.42,199.72 L337.15,199.72 L337.88,199.72 L338.61,199.72 L339.34,199.73 L340.06,199.73 L340.79,199.73 L341.52,199.73 L342.25,199.73 L342.98,199.73 L343.71,199.73 L344.44,199.73 L345.17,199.73 L345.89,199.73 L346.62,199.73 L347.35,199.73 L348.08,199.73 L348.81,199.73 L349.54,199.73 L350.27,199.73 L350.99,199.73 L351.72,199.73 L352.45,199.73 L353.18,199.73 L353.91,199.73 L354.64,199.73 L355.37,199.73 L356.09,199.73 L356.82,199.73 L357.55,199.73 L358.28,199.73 L359.01,199.72 L359.74,199.72 L360.47,199.72 L361.19,199.72 L361.92,199.72 L362.65,199.71 L363.38,199.71 L364.11,199.71 L364.84,199.71 L365.57,199.7 L366.29,199.7 L367.02,199.7 L367.75,199.69 L368.48,199.69 L369.21,199.68 L369.94,199.68 L370.67,199.67 L371.39,199.67 L372.12,199.66 L372.85,199.66 L373.58,199.65 L374.31,199.65 L375.04,199.64 L375.77,199.63 L376.49,199.63 L377.22,199.62 L377.95,199.61 L378.68,199.6 L379.41,199.6 L380.14,199.59 L380.87,199.58 L381.59,199.57 L382.32,199.56 L383.05,199.55 L383.78,199.54 L384.51,199.53 L385.24,199.52 L385.97,199.51 L386.69,199.49 L387.42,199.48 L388.15,199.47 L388.88,199.45 L389.61,199.44 L390.34,199.43 L391.07,199.41 L391.8,199.39 L392.52,199.38 L393.25,199.36 L393.98,199.34 L394.71,199.33 L395.44,199.31 L396.17,199.29 L396.9,199.27 L397.62,199.25 L398.35,199.22 L399.08,199.2 L399.81,199.18 L400.54,199.15 L401.27,199.13 L402,199.1 L402.72,199.08 L403.45,199.05 L404.18,199.02 L404.91,198.99 L405.64,198.96 L406.37,198.93 L407.1,198.89 L407.82,198.86 L408.55,198.82 L409.28,198.79 L410.01,198.75 L410.74,198.71 L411.47,198.67 L412.2,198.62 L412.92,198.58 L413.65,198.53 L414.38,198.49 L415.11,198.44 L415.84,198.38 L416.57,198.33 L417.3,198.28 L418.02,198.22 L418.75,198.16 L419.48,198.1 L420.21,198.03 L420.94,197.97 L421.67,197.9 L422.4,197.82 L423.12,197.75 L423.85,197.67 L424.58,197.59 L425.31,197.51 L426.04,197.42 L426.77,197.33 L427.5,197.23 L428.22,197.14 L428.95,197.03 L429.68,196.93 L430.41,196.82 L431.14,196.7 L431.87,196.58 L432.6,196.45 L433.33,196.32 L434.05,196.18 L434.78,196.04 L435.51,195.89 L436.24,195.74 L436.97,195.57 L437.7,195.4 L438.43,195.22 L439.15,195.04 L439.88,194.84 L440.61,194.64 L441.34,194.43 L442.07,194.2 L442.8,193.97 L443.53,193.72 L444.25,193.47 L444.98,193.2 L445.71,192.92 L446.44,192.62 L447.17,192.31 L447.9,191.98 L448.63,191.64 L449.35,191.28 L450.08,190.9 L450.81,190.5 L451.54,190.08 L452.27,189.64 L453,189.18 L453.73,188.69 L454.45,188.18 L455.18,187.64 L455.91,187.08 L456.64,186.48 L457.37,185.85 L458.1,185.2 L458.83,184.51 L459.55,183.78 L460.28,183.02 L461.01,182.23 L461.74,181.39 L462.47,180.52 L463.2,179.61 L463.93,178.67 L464.65,177.68 L465.38,176.67 L466.11,175.61 L466.84,174.53 L467.57,173.42 L468.3,172.29 L469.03,171.14 L469.75,169.98 L470.48,168.81 L471.21,167.66 L471.94,166.53 L472.67,165.43 L473.4,164.37 L474.13,163.37 L474.86,162.44 L475.58,161.6 L476.31,160.87 L477.04,160.25 L477.77,159.76 L478.5,159.4 L479.23,159.19 L479.96,159.13 L480.68,159.22 L481.41,159.46 L482.14,159.84 L482.87,160.36 L483.6,161.01 L484.33,161.78 L485.06,162.64 L485.78,163.6 L486.51,164.62 L487.24,165.71 L487.97,166.84 L488.7,168 L489.43,169.18 L490.16,170.37 L490.88,171.55 L491.61,172.73 L492.34,173.89 L493.07,175.02 L493.8,176.13 L494.53,177.21 L495.26,178.25 L495.98,179.26 L496.71,180.23 L497.44,181.17 L498.17,182.07 L498.9,182.92 L499.63,183.75 L500.36,184.53 L501.08,185.28 L501.81,186 L502.54,186.68 L503.27,187.33 L504,187.95 L504.73,188.55 L505.46,189.11 L506.18,189.65 L506.91,190.16 L507.64,190.65 L508.37,191.11 L509.1,191.56 L509.83,191.98 L510.56,192.39 L511.28,192.77 L512.01,193.14 L512.74,193.5 L513.47,193.83 L514.2,194.16 L514.93,194.46 L515.66,194.76 L516.38,195.04 L517.11,195.31 L517.84,195.57 L518.57,195.82 L519.3,196.06 L520.03,196.29 L520.76,196.51 L521.49,196.73 L522.21,196.93 L522.94,197.13 L523.67,197.31 L524.4,197.5 L525.13,197.67 L525.86,197.84 L526.59,198 L527.31,198.16 L528.04,198.31 L528.77,198.46 L529.5,198.6 L530.23,198.74 L530.96,198.87 L531.69,199 L532.41,199.13 L533.14,199.25 L533.87,199.37 L534.6,199.48 L535.33,199.59 L536.06,199.7 L536.79,199.8 L537.51,199.9 L538.24,200 L538.97,200.1 L539.7,200.19" fill="none" stroke="#260606" stroke-width="1.35" clip-path="url(#cb)"/>
<path d="M321.85,258.14 L322.58,258.14 L323.31,258.13 L324.04,258.13 L324.76,258.12 L325.49,258.12 L326.22,258.11 L326.95,258.1 L327.68,258.1 L328.41,258.09 L329.14,258.08 L329.86,258.08 L330.59,258.07 L331.32,258.06 L332.05,258.06 L332.78,258.05 L333.51,258.04 L334.24,258.03 L334.96,258.03 L335.69,258.02 L336.42,258.01 L337.15,258 L337.88,258 L338.61,257.99 L339.34,257.98 L340.06,257.97 L340.79,257.97 L341.52,257.96 L342.25,257.95 L342.98,257.94 L343.71,257.93 L344.44,257.92 L345.17,257.91 L345.89,257.9 L346.62,257.89 L347.35,257.89 L348.08,257.88 L348.81,257.87 L349.54,257.86 L350.27,257.85 L350.99,257.84 L351.72,257.83 L352.45,257.82 L353.18,257.8 L353.91,257.79 L354.64,257.78 L355.37,257.77 L356.09,257.76 L356.82,257.75 L357.55,257.74 L358.28,257.72 L359.01,257.71 L359.74,257.7 L360.47,257.69 L361.19,257.68 L361.92,257.66 L362.65,257.65 L363.38,257.64 L364.11,257.62 L364.84,257.61 L365.57,257.59 L366.29,257.58 L367.02,257.56 L367.75,257.55 L368.48,257.53 L369.21,257.52 L369.94,257.5 L370.67,257.49 L371.39,257.47 L372.12,257.45 L372.85,257.44 L373.58,257.42 L374.31,257.4 L375.04,257.38 L375.77,257.37 L376.49,257.35 L377.22,257.33 L377.95,257.31 L378.68,257.29 L379.41,257.27 L380.14,257.25 L380.87,257.23 L381.59,257.21 L382.32,257.18 L383.05,257.16 L383.78,257.14 L384.51,257.12 L385.24,257.09 L385.97,257.07 L386.69,257.04 L387.42,257.02 L388.15,256.99 L388.88,256.97 L389.61,256.94 L390.34,256.91 L391.07,256.88 L391.8,256.85 L392.52,256.83 L393.25,256.8 L393.98,256.76 L394.71,256.73 L395.44,256.7 L396.17,256.67 L396.9,256.64 L397.62,256.6 L398.35,256.57 L399.08,256.53 L399.81,256.49 L400.54,256.45 L401.27,256.42 L402,256.38 L402.72,256.34 L403.45,256.29 L404.18,256.25 L404.91,256.21 L405.64,256.16 L406.37,256.12 L407.1,256.07 L407.82,256.02 L408.55,255.97 L409.28,255.92 L410.01,255.87 L410.74,255.82 L411.47,255.76 L412.2,255.7 L412.92,255.65 L413.65,255.59 L414.38,255.53 L415.11,255.46 L415.84,255.4 L416.57,255.33 L417.3,255.26 L418.02,255.19 L418.75,255.12 L419.48,255.04 L420.21,254.97 L420.94,254.89 L421.67,254.81 L422.4,254.72 L423.12,254.63 L423.85,254.54 L424.58,254.45 L425.31,254.36 L426.04,254.26 L426.77,254.16 L427.5,254.05 L428.22,253.94 L428.95,253.83 L429.68,253.72 L430.41,253.6 L431.14,253.47 L431.87,253.35 L432.6,253.21 L433.33,253.08 L434.05,252.94 L434.78,252.79 L435.51,252.64 L436.24,252.48 L436.97,252.32 L437.7,252.15 L438.43,251.98 L439.15,251.8 L439.88,251.61 L440.61,251.41 L441.34,251.21 L442.07,251 L442.8,250.78 L443.53,250.55 L444.25,250.32 L444.98,250.07 L445.71,249.82 L446.44,249.55 L447.17,249.28 L447.9,248.99 L448.63,248.69 L449.35,248.38 L450.08,248.06 L450.81,247.72 L451.54,247.37 L452.27,247.01 L453,246.62 L453.73,246.23 L454.45,245.81 L455.18,245.38 L455.91,244.94 L456.64,244.47 L457.37,243.98 L458.1,243.48 L458.83,242.95 L459.55,242.4 L460.28,241.83 L461.01,241.24 L461.74,240.62 L462.47,239.98 L463.2,239.32 L463.93,238.63 L464.65,237.92 L465.38,237.18 L466.11,236.42 L466.84,235.64 L467.57,234.83 L468.3,234.01 L469.03,233.16 L469.75,232.3 L470.48,231.42 L471.21,230.53 L471.94,229.64 L472.67,228.73 L473.4,227.83 L474.13,226.93 L474.86,226.05 L475.58,225.18 L476.31,224.33 L477.04,223.52 L477.77,222.74 L478.5,222.01 L479.23,221.34 L479.96,220.73 L480.68,220.18 L481.41,219.72 L482.14,219.33 L482.87,219.04 L483.6,218.83 L484.33,218.72 L485.06,218.71 L485.78,218.79 L486.51,218.96 L487.24,219.23 L487.97,219.59 L488.7,220.04 L489.43,220.56 L490.16,221.15 L490.88,221.81 L491.61,222.52 L492.34,223.28 L493.07,224.08 L493.8,224.92 L494.53,225.78 L495.26,226.67 L495.98,227.56 L496.71,228.46 L497.44,229.37 L498.17,230.27 L498.9,231.16 L499.63,232.04 L500.36,232.91 L501.08,233.76 L501.81,234.59 L502.54,235.4 L503.27,236.19 L504,236.96 L504.73,237.7 L505.46,238.42 L506.18,239.11 L506.91,239.78 L507.64,240.43 L508.37,241.05 L509.1,241.65 L509.83,242.23 L510.56,242.79 L511.28,243.32 L512.01,243.83 L512.74,244.33 L513.47,244.8 L514.2,245.25 L514.93,245.69 L515.66,246.11 L516.38,246.51 L517.11,246.89 L517.84,247.26 L518.57,247.62 L519.3,247.96 L520.03,248.29 L520.76,248.6 L521.49,248.9 L522.21,249.19 L522.94,249.47 L523.67,249.74 L524.4,250 L525.13,250.25 L525.86,250.48 L526.59,250.71 L527.31,250.93 L528.04,251.15 L528.77,251.35 L529.5,251.55 L530.23,251.74 L530.96,251.92 L531.69,252.1 L532.41,252.27 L533.14,252.43 L533.87,252.59 L534.6,252.75 L535.33,252.89 L536.06,253.04 L536.79,253.17 L537.51,253.31 L538.24,253.44 L538.97,253.56 L539.7,253.68" fill="none" stroke="#3d5a8a" stroke-width="1.7" clip-path="url(#cb)"/>
<g fill="none" stroke="#c82a2a" stroke-width="1.05" clip-path="url(#cc)"><circle cx="320.55" cy="248.14" r="1.75"/><circle cx="321.4" cy="249.48" r="1.75"/><circle cx="322.25" cy="248.48" r="1.75"/><circle cx="323.1" cy="247.84" r="1.75"/><circle cx="323.95" cy="249.64" r="1.75"/><circle cx="324.8" cy="249.06" r="1.75"/><circle cx="325.65" cy="249.38" r="1.75"/><circle cx="326.5" cy="248.63" r="1.75"/><circle cx="327.35" cy="249.19" r="1.75"/><circle cx="328.2" cy="248.62" r="1.75"/><circle cx="329.05" cy="248.01" r="1.75"/><circle cx="329.9" cy="248.79" r="1.75"/><circle cx="330.75" cy="248.82" r="1.75"/><circle cx="331.6" cy="248.82" r="1.75"/><circle cx="332.45" cy="249.33" r="1.75"/><circle cx="333.3" cy="247.49" r="1.75"/><circle cx="334.15" cy="248.96" r="1.75"/><circle cx="335" cy="248.18" r="1.75"/><circle cx="335.85" cy="248.55" r="1.75"/><circle cx="336.7" cy="249.08" r="1.75"/><circle cx="337.55" cy="248.82" r="1.75"/><circle cx="338.4" cy="248.29" r="1.75"/><circle cx="339.25" cy="249.32" r="1.75"/><circle cx="340.1" cy="248.75" r="1.75"/><circle cx="340.95" cy="249.46" r="1.75"/><circle cx="341.8" cy="249.68" r="1.75"/><circle cx="342.65" cy="248.55" r="1.75"/><circle cx="343.5" cy="248.02" r="1.75"/><circle cx="344.35" cy="248.87" r="1.75"/><circle cx="345.2" cy="249.4" r="1.75"/><circle cx="346.05" cy="249.05" r="1.75"/><circle cx="346.9" cy="247.99" r="1.75"/><circle cx="347.75" cy="247.62" r="1.75"/><circle cx="348.6" cy="248.16" r="1.75"/><circle cx="349.45" cy="248.16" r="1.75"/><circle cx="350.3" cy="249.29" r="1.75"/><circle cx="351.15" cy="248.89" r="1.75"/><circle cx="352" cy="249.47" r="1.75"/><circle cx="352.85" cy="248.79" r="1.75"/><circle cx="353.7" cy="250.05" r="1.75"/><circle cx="354.55" cy="248.86" r="1.75"/><circle cx="355.4" cy="249.25" r="1.75"/><circle cx="356.25" cy="248.56" r="1.75"/><circle cx="357.1" cy="249.18" r="1.75"/><circle cx="357.95" cy="249.64" r="1.75"/><circle cx="358.8" cy="249.41" r="1.75"/><circle cx="359.65" cy="249.77" r="1.75"/><circle cx="360.5" cy="248.43" r="1.75"/><circle cx="361.35" cy="249.19" r="1.75"/><circle cx="362.2" cy="250.08" r="1.75"/><circle cx="363.05" cy="249.04" r="1.75"/><circle cx="363.9" cy="248.74" r="1.75"/><circle cx="364.75" cy="248.69" r="1.75"/><circle cx="365.6" cy="248.48" r="1.75"/><circle cx="366.45" cy="248.95" r="1.75"/><circle cx="367.3" cy="249.84" r="1.75"/><circle cx="368.15" cy="249.16" r="1.75"/><circle cx="369" cy="248.82" r="1.75"/><circle cx="369.85" cy="248.27" r="1.75"/><circle cx="370.7" cy="248.02" r="1.75"/><circle cx="371.55" cy="250.52" r="1.75"/><circle cx="372.4" cy="248.48" r="1.75"/><circle cx="373.25" cy="248.88" r="1.75"/><circle cx="374.1" cy="248.45" r="1.75"/><circle cx="374.95" cy="248.91" r="1.75"/><circle cx="375.8" cy="248.48" r="1.75"/><circle cx="376.65" cy="248.85" r="1.75"/><circle cx="377.5" cy="249.8" r="1.75"/><circle cx="378.35" cy="248.23" r="1.75"/><circle cx="379.2" cy="249.12" r="1.75"/><circle cx="380.05" cy="248.68" r="1.75"/><circle cx="380.9" cy="249.23" r="1.75"/><circle cx="381.75" cy="248.22" r="1.75"/><circle cx="382.6" cy="248.98" r="1.75"/><circle cx="383.45" cy="247.98" r="1.75"/><circle cx="384.3" cy="247.36" r="1.75"/><circle cx="385.15" cy="247.71" r="1.75"/><circle cx="386" cy="247.95" r="1.75"/><circle cx="386.85" cy="247.81" r="1.75"/><circle cx="387.7" cy="248.35" r="1.75"/><circle cx="388.55" cy="249.35" r="1.75"/><circle cx="389.4" cy="247.74" r="1.75"/><circle cx="390.25" cy="248.84" r="1.75"/><circle cx="391.1" cy="248.61" r="1.75"/><circle cx="391.95" cy="247.98" r="1.75"/><circle cx="392.8" cy="247.79" r="1.75"/><circle cx="393.65" cy="248.73" r="1.75"/><circle cx="394.5" cy="248.75" r="1.75"/><circle cx="395.35" cy="248.13" r="1.75"/><circle cx="396.2" cy="248.25" r="1.75"/><circle cx="397.05" cy="248.32" r="1.75"/><circle cx="397.9" cy="247.37" r="1.75"/><circle cx="398.75" cy="248.34" r="1.75"/><circle cx="399.6" cy="248.45" r="1.75"/><circle cx="400.45" cy="249.44" r="1.75"/><circle cx="401.3" cy="247.27" r="1.75"/><circle cx="402.15" cy="247.52" r="1.75"/><circle cx="403" cy="248.16" r="1.75"/><circle cx="403.85" cy="247.64" r="1.75"/><circle cx="404.7" cy="247.73" r="1.75"/><circle cx="405.55" cy="247.98" r="1.75"/><circle cx="406.4" cy="247.73" r="1.75"/><circle cx="407.25" cy="247.87" r="1.75"/><circle cx="408.1" cy="248.15" r="1.75"/><circle cx="408.95" cy="246.65" r="1.75"/><circle cx="409.8" cy="248.14" r="1.75"/><circle cx="410.65" cy="246.11" r="1.75"/><circle cx="411.5" cy="248.84" r="1.75"/><circle cx="412.35" cy="248.24" r="1.75"/><circle cx="413.2" cy="247.1" r="1.75"/><circle cx="414.05" cy="248.18" r="1.75"/><circle cx="414.9" cy="247.3" r="1.75"/><circle cx="415.75" cy="247.64" r="1.75"/><circle cx="416.6" cy="247.8" r="1.75"/><circle cx="417.45" cy="247.44" r="1.75"/><circle cx="418.3" cy="247.12" r="1.75"/><circle cx="419.15" cy="247.48" r="1.75"/><circle cx="420" cy="246.83" r="1.75"/><circle cx="420.85" cy="246.62" r="1.75"/><circle cx="421.7" cy="246.13" r="1.75"/><circle cx="422.55" cy="245.43" r="1.75"/><circle cx="423.4" cy="247.72" r="1.75"/><circle cx="424.25" cy="247.06" r="1.75"/><circle cx="425.1" cy="245.42" r="1.75"/><circle cx="425.95" cy="246.58" r="1.75"/><circle cx="426.8" cy="246.33" r="1.75"/><circle cx="427.65" cy="244.52" r="1.75"/><circle cx="428.5" cy="245.36" r="1.75"/><circle cx="429.35" cy="245.75" r="1.75"/><circle cx="430.2" cy="246.89" r="1.75"/><circle cx="431.05" cy="246.32" r="1.75"/><circle cx="431.9" cy="246.29" r="1.75"/><circle cx="432.75" cy="245.48" r="1.75"/><circle cx="433.6" cy="245.8" r="1.75"/><circle cx="434.45" cy="244.11" r="1.75"/><circle cx="435.3" cy="245.19" r="1.75"/><circle cx="436.15" cy="245.09" r="1.75"/><circle cx="437" cy="243.5" r="1.75"/><circle cx="437.85" cy="244.37" r="1.75"/><circle cx="438.7" cy="245.06" r="1.75"/><circle cx="439.55" cy="245.13" r="1.75"/><circle cx="440.4" cy="244.54" r="1.75"/><circle cx="441.25" cy="242.82" r="1.75"/><circle cx="442.1" cy="243" r="1.75"/><circle cx="442.95" cy="242.44" r="1.75"/><circle cx="443.8" cy="243.4" r="1.75"/><circle cx="444.65" cy="241.66" r="1.75"/><circle cx="445.5" cy="241.22" r="1.75"/><circle cx="446.35" cy="240.5" r="1.75"/><circle cx="447.2" cy="241.45" r="1.75"/><circle cx="448.05" cy="241.28" r="1.75"/><circle cx="448.9" cy="240.19" r="1.75"/><circle cx="449.75" cy="239.7" r="1.75"/><circle cx="450.6" cy="239.71" r="1.75"/><circle cx="451.45" cy="240.37" r="1.75"/><circle cx="452.3" cy="238.04" r="1.75"/><circle cx="453.15" cy="238.5" r="1.75"/><circle cx="454" cy="238.2" r="1.75"/><circle cx="454.85" cy="237.81" r="1.75"/><circle cx="455.7" cy="237.9" r="1.75"/><circle cx="456.55" cy="237.04" r="1.75"/><circle cx="457.4" cy="236.07" r="1.75"/><circle cx="458.25" cy="236.3" r="1.75"/><circle cx="459.1" cy="235.44" r="1.75"/><circle cx="459.95" cy="234.17" r="1.75"/><circle cx="460.8" cy="233.43" r="1.75"/><circle cx="461.65" cy="231.71" r="1.75"/><circle cx="462.5" cy="231.86" r="1.75"/><circle cx="463.35" cy="230.43" r="1.75"/><circle cx="464.2" cy="229.35" r="1.75"/><circle cx="465.05" cy="229.09" r="1.75"/><circle cx="465.9" cy="227.18" r="1.75"/><circle cx="466.75" cy="226.84" r="1.75"/><circle cx="467.6" cy="226.15" r="1.75"/><circle cx="468.45" cy="225.76" r="1.75"/><circle cx="469.3" cy="224.29" r="1.75"/><circle cx="470.15" cy="223.76" r="1.75"/><circle cx="471" cy="223.54" r="1.75"/><circle cx="471.85" cy="221.94" r="1.75"/><circle cx="472.7" cy="219.48" r="1.75"/><circle cx="473.55" cy="217.97" r="1.75"/><circle cx="474.4" cy="217.51" r="1.75"/><circle cx="475.25" cy="216.48" r="1.75"/><circle cx="476.1" cy="214.7" r="1.75"/><circle cx="476.95" cy="213.9" r="1.75"/><circle cx="477.8" cy="212.97" r="1.75"/><circle cx="478.65" cy="212.87" r="1.75"/><circle cx="479.5" cy="213.5" r="1.75"/><circle cx="480.35" cy="212.98" r="1.75"/><circle cx="481.2" cy="210.45" r="1.75"/><circle cx="482.05" cy="210.33" r="1.75"/><circle cx="482.9" cy="209.3" r="1.75"/><circle cx="483.75" cy="208.84" r="1.75"/><circle cx="484.6" cy="209.79" r="1.75"/><circle cx="485.45" cy="209.86" r="1.75"/><circle cx="486.3" cy="209.5" r="1.75"/><circle cx="487.15" cy="210.63" r="1.75"/><circle cx="488" cy="210.33" r="1.75"/><circle cx="488.85" cy="211.82" r="1.75"/><circle cx="489.7" cy="211.31" r="1.75"/><circle cx="490.55" cy="212.96" r="1.75"/><circle cx="491.4" cy="213.02" r="1.75"/><circle cx="492.25" cy="214.12" r="1.75"/><circle cx="493.1" cy="215.41" r="1.75"/><circle cx="493.95" cy="215.03" r="1.75"/><circle cx="494.8" cy="216.49" r="1.75"/><circle cx="495.65" cy="218.02" r="1.75"/><circle cx="496.5" cy="218.97" r="1.75"/><circle cx="497.35" cy="220.45" r="1.75"/><circle cx="498.2" cy="220.81" r="1.75"/><circle cx="499.05" cy="221.54" r="1.75"/><circle cx="499.9" cy="223.49" r="1.75"/><circle cx="500.75" cy="224.84" r="1.75"/><circle cx="501.6" cy="225.13" r="1.75"/><circle cx="502.45" cy="227.58" r="1.75"/><circle cx="503.3" cy="228.22" r="1.75"/><circle cx="504.15" cy="229.3" r="1.75"/><circle cx="505" cy="230.2" r="1.75"/><circle cx="505.85" cy="229.96" r="1.75"/><circle cx="506.7" cy="232.93" r="1.75"/><circle cx="507.55" cy="231.8" r="1.75"/><circle cx="508.4" cy="233.38" r="1.75"/><circle cx="509.25" cy="234.41" r="1.75"/><circle cx="510.1" cy="234.89" r="1.75"/><circle cx="510.95" cy="235.51" r="1.75"/><circle cx="511.8" cy="235.5" r="1.75"/><circle cx="512.65" cy="236.45" r="1.75"/><circle cx="513.5" cy="237.38" r="1.75"/><circle cx="514.35" cy="238.88" r="1.75"/><circle cx="515.2" cy="238.08" r="1.75"/><circle cx="516.05" cy="239.58" r="1.75"/><circle cx="516.9" cy="239.94" r="1.75"/><circle cx="517.75" cy="240.2" r="1.75"/><circle cx="518.6" cy="240.24" r="1.75"/><circle cx="519.45" cy="240.99" r="1.75"/><circle cx="520.3" cy="240.32" r="1.75"/><circle cx="521.15" cy="242.03" r="1.75"/><circle cx="522" cy="242.59" r="1.75"/><circle cx="522.85" cy="242.39" r="1.75"/><circle cx="523.7" cy="243.5" r="1.75"/><circle cx="524.55" cy="243.71" r="1.75"/><circle cx="525.4" cy="243.32" r="1.75"/><circle cx="526.25" cy="244.74" r="1.75"/><circle cx="527.1" cy="244.1" r="1.75"/><circle cx="527.95" cy="246.46" r="1.75"/><circle cx="528.8" cy="244.34" r="1.75"/><circle cx="529.65" cy="244.77" r="1.75"/><circle cx="530.5" cy="245.16" r="1.75"/><circle cx="531.35" cy="246.03" r="1.75"/><circle cx="532.2" cy="246.92" r="1.75"/><circle cx="533.05" cy="246.41" r="1.75"/><circle cx="533.9" cy="246.29" r="1.75"/><circle cx="534.75" cy="248.12" r="1.75"/><circle cx="535.6" cy="247.71" r="1.75"/><circle cx="536.45" cy="247.01" r="1.75"/><circle cx="537.3" cy="247.32" r="1.75"/><circle cx="538.15" cy="246.52" r="1.75"/><circle cx="539" cy="247.8" r="1.75"/></g>
<path d="M321.85,248.63 L322.58,248.63 L323.31,248.64 L324.04,248.65 L324.76,248.65 L325.49,248.66 L326.22,248.66 L326.95,248.67 L327.68,248.68 L328.41,248.68 L329.14,248.69 L329.86,248.69 L330.59,248.7 L331.32,248.7 L332.05,248.71 L332.78,248.71 L333.51,248.72 L334.24,248.72 L334.96,248.73 L335.69,248.73 L336.42,248.74 L337.15,248.74 L337.88,248.75 L338.61,248.75 L339.34,248.76 L340.06,248.76 L340.79,248.76 L341.52,248.77 L342.25,248.77 L342.98,248.78 L343.71,248.78 L344.44,248.78 L345.17,248.78 L345.89,248.79 L346.62,248.79 L347.35,248.79 L348.08,248.8 L348.81,248.8 L349.54,248.8 L350.27,248.8 L350.99,248.8 L351.72,248.81 L352.45,248.81 L353.18,248.81 L353.91,248.81 L354.64,248.81 L355.37,248.81 L356.09,248.81 L356.82,248.81 L357.55,248.81 L358.28,248.81 L359.01,248.81 L359.74,248.81 L360.47,248.81 L361.19,248.81 L361.92,248.81 L362.65,248.81 L363.38,248.81 L364.11,248.81 L364.84,248.8 L365.57,248.8 L366.29,248.8 L367.02,248.8 L367.75,248.79 L368.48,248.79 L369.21,248.79 L369.94,248.78 L370.67,248.78 L371.39,248.77 L372.12,248.77 L372.85,248.76 L373.58,248.76 L374.31,248.75 L375.04,248.74 L375.77,248.74 L376.49,248.73 L377.22,248.72 L377.95,248.72 L378.68,248.71 L379.41,248.7 L380.14,248.69 L380.87,248.68 L381.59,248.67 L382.32,248.66 L383.05,248.65 L383.78,248.64 L384.51,248.62 L385.24,248.61 L385.97,248.6 L386.69,248.58 L387.42,248.57 L388.15,248.56 L388.88,248.54 L389.61,248.52 L390.34,248.51 L391.07,248.49 L391.8,248.47 L392.52,248.45 L393.25,248.43 L393.98,248.41 L394.71,248.39 L395.44,248.37 L396.17,248.35 L396.9,248.33 L397.62,248.3 L398.35,248.28 L399.08,248.25 L399.81,248.22 L400.54,248.2 L401.27,248.17 L402,248.14 L402.72,248.11 L403.45,248.08 L404.18,248.04 L404.91,248.01 L405.64,247.97 L406.37,247.94 L407.1,247.9 L407.82,247.86 L408.55,247.82 L409.28,247.78 L410.01,247.73 L410.74,247.69 L411.47,247.64 L412.2,247.59 L412.92,247.54 L413.65,247.49 L414.38,247.44 L415.11,247.38 L415.84,247.33 L416.57,247.27 L417.3,247.21 L418.02,247.14 L418.75,247.08 L419.48,247.01 L420.21,246.94 L420.94,246.86 L421.67,246.79 L422.4,246.71 L423.12,246.63 L423.85,246.55 L424.58,246.46 L425.31,246.37 L426.04,246.28 L426.77,246.18 L427.5,246.08 L428.22,245.98 L428.95,245.87 L429.68,245.76 L430.41,245.64 L431.14,245.52 L431.87,245.4 L432.6,245.27 L433.33,245.13 L434.05,244.99 L434.78,244.85 L435.51,244.7 L436.24,244.54 L436.97,244.38 L437.7,244.21 L438.43,244.04 L439.15,243.85 L439.88,243.67 L440.61,243.47 L441.34,243.26 L442.07,243.05 L442.8,242.83 L443.53,242.6 L444.25,242.36 L444.98,242.11 L445.71,241.85 L446.44,241.58 L447.17,241.3 L447.9,241.01 L448.63,240.7 L449.35,240.38 L450.08,240.05 L450.81,239.71 L451.54,239.35 L452.27,238.97 L453,238.58 L453.73,238.18 L454.45,237.75 L455.18,237.31 L455.91,236.85 L456.64,236.37 L457.37,235.87 L458.1,235.35 L458.83,234.81 L459.55,234.25 L460.28,233.66 L461.01,233.05 L461.74,232.42 L462.47,231.77 L463.2,231.09 L463.93,230.38 L464.65,229.66 L465.38,228.91 L466.11,228.13 L466.84,227.33 L467.57,226.51 L468.3,225.67 L469.03,224.81 L469.75,223.93 L470.48,223.04 L471.21,222.14 L471.94,221.23 L472.67,220.31 L473.4,219.39 L474.13,218.48 L474.86,217.58 L475.58,216.69 L476.31,215.83 L477.04,214.99 L477.77,214.2 L478.5,213.45 L479.23,212.75 L479.96,212.11 L480.68,211.54 L481.41,211.04 L482.14,210.62 L482.87,210.29 L483.6,210.05 L484.33,209.9 L485.06,209.85 L485.78,209.89 L486.51,210.03 L487.24,210.27 L487.97,210.59 L488.7,211.01 L489.43,211.5 L490.16,212.08 L490.88,212.72 L491.61,213.43 L492.34,214.19 L493.07,215 L493.8,215.85 L494.53,216.73 L495.26,217.64 L495.98,218.56 L496.71,219.5 L497.44,220.45 L498.17,221.4 L498.9,222.34 L499.63,223.28 L500.36,224.21 L501.08,225.12 L501.81,226.02 L502.54,226.9 L503.27,227.76 L504,228.6 L504.73,229.41 L505.46,230.2 L506.18,230.97 L506.91,231.71 L507.64,232.43 L508.37,233.13 L509.1,233.8 L509.83,234.44 L510.56,235.07 L511.28,235.67 L512.01,236.25 L512.74,236.81 L513.47,237.35 L514.2,237.86 L514.93,238.36 L515.66,238.84 L516.38,239.3 L517.11,239.75 L517.84,240.18 L518.57,240.59 L519.3,240.98 L520.03,241.36 L520.76,241.73 L521.49,242.08 L522.21,242.43 L522.94,242.75 L523.67,243.07 L524.4,243.37 L525.13,243.67 L525.86,243.95 L526.59,244.23 L527.31,244.49 L528.04,244.75 L528.77,244.99 L529.5,245.23 L530.23,245.46 L530.96,245.68 L531.69,245.9 L532.41,246.1 L533.14,246.31 L533.87,246.5 L534.6,246.69 L535.33,246.87 L536.06,247.05 L536.79,247.22 L537.51,247.39 L538.24,247.55 L538.97,247.71 L539.7,247.86" fill="none" stroke="#260606" stroke-width="1.35" clip-path="url(#cb)"/>
<path d="M321.85,302.46 L322.58,302.45 L323.31,302.44 L324.04,302.43 L324.76,302.42 L325.49,302.41 L326.22,302.4 L326.95,302.4 L327.68,302.39 L328.41,302.38 L329.14,302.37 L329.86,302.36 L330.59,302.35 L331.32,302.34 L332.05,302.33 L332.78,302.32 L333.51,302.31 L334.24,302.3 L334.96,302.29 L335.69,302.28 L336.42,302.27 L337.15,302.26 L337.88,302.24 L338.61,302.23 L339.34,302.22 L340.06,302.21 L340.79,302.2 L341.52,302.19 L342.25,302.17 L342.98,302.16 L343.71,302.15 L344.44,302.14 L345.17,302.12 L345.89,302.11 L346.62,302.1 L347.35,302.08 L348.08,302.07 L348.81,302.06 L349.54,302.04 L350.27,302.03 L350.99,302.01 L351.72,302 L352.45,301.99 L353.18,301.97 L353.91,301.95 L354.64,301.94 L355.37,301.92 L356.09,301.91 L356.82,301.89 L357.55,301.87 L358.28,301.86 L359.01,301.84 L359.74,301.82 L360.47,301.8 L361.19,301.79 L361.92,301.77 L362.65,301.75 L363.38,301.73 L364.11,301.71 L364.84,301.69 L365.57,301.67 L366.29,301.65 L367.02,301.63 L367.75,301.61 L368.48,301.59 L369.21,301.57 L369.94,301.54 L370.67,301.52 L371.39,301.5 L372.12,301.47 L372.85,301.45 L373.58,301.43 L374.31,301.4 L375.04,301.38 L375.77,301.35 L376.49,301.32 L377.22,301.3 L377.95,301.27 L378.68,301.24 L379.41,301.21 L380.14,301.18 L380.87,301.16 L381.59,301.13 L382.32,301.09 L383.05,301.06 L383.78,301.03 L384.51,301 L385.24,300.97 L385.97,300.93 L386.69,300.9 L387.42,300.86 L388.15,300.83 L388.88,300.79 L389.61,300.75 L390.34,300.71 L391.07,300.68 L391.8,300.64 L392.52,300.6 L393.25,300.55 L393.98,300.51 L394.71,300.47 L395.44,300.42 L396.17,300.38 L396.9,300.33 L397.62,300.28 L398.35,300.24 L399.08,300.19 L399.81,300.14 L400.54,300.08 L401.27,300.03 L402,299.98 L402.72,299.92 L403.45,299.86 L404.18,299.81 L404.91,299.75 L405.64,299.69 L406.37,299.62 L407.1,299.56 L407.82,299.49 L408.55,299.43 L409.28,299.36 L410.01,299.29 L410.74,299.21 L411.47,299.14 L412.2,299.06 L412.92,298.99 L413.65,298.91 L414.38,298.82 L415.11,298.74 L415.84,298.65 L416.57,298.56 L417.3,298.47 L418.02,298.38 L418.75,298.28 L419.48,298.18 L420.21,298.08 L420.94,297.98 L421.67,297.87 L422.4,297.76 L423.12,297.65 L423.85,297.53 L424.58,297.41 L425.31,297.29 L426.04,297.16 L426.77,297.03 L427.5,296.89 L428.22,296.76 L428.95,296.61 L429.68,296.47 L430.41,296.31 L431.14,296.16 L431.87,296 L432.6,295.83 L433.33,295.66 L434.05,295.49 L434.78,295.3 L435.51,295.12 L436.24,294.92 L436.97,294.72 L437.7,294.52 L438.43,294.31 L439.15,294.09 L439.88,293.86 L440.61,293.63 L441.34,293.39 L442.07,293.14 L442.8,292.89 L443.53,292.62 L444.25,292.35 L444.98,292.07 L445.71,291.78 L446.44,291.48 L447.17,291.17 L447.9,290.85 L448.63,290.52 L449.35,290.18 L450.08,289.82 L450.81,289.46 L451.54,289.09 L452.27,288.7 L453,288.3 L453.73,287.89 L454.45,287.47 L455.18,287.04 L455.91,286.59 L456.64,286.13 L457.37,285.66 L458.1,285.17 L458.83,284.68 L459.55,284.17 L460.28,283.64 L461.01,283.11 L461.74,282.56 L462.47,282.01 L463.2,281.44 L463.93,280.86 L464.65,280.27 L465.38,279.68 L466.11,279.08 L466.84,278.47 L467.57,277.86 L468.3,277.25 L469.03,276.63 L469.75,276.02 L470.48,275.41 L471.21,274.81 L471.94,274.22 L472.67,273.64 L473.4,273.08 L474.13,272.53 L474.86,272 L475.58,271.5 L476.31,271.02 L477.04,270.58 L477.77,270.17 L478.5,269.8 L479.23,269.46 L479.96,269.17 L480.68,268.92 L481.41,268.72 L482.14,268.57 L482.87,268.46 L483.6,268.41 L484.33,268.41 L485.06,268.45 L485.78,268.55 L486.51,268.7 L487.24,268.9 L487.97,269.14 L488.7,269.43 L489.43,269.76 L490.16,270.13 L490.88,270.54 L491.61,270.98 L492.34,271.45 L493.07,271.95 L493.8,272.47 L494.53,273.02 L495.26,273.58 L495.98,274.16 L496.71,274.75 L497.44,275.35 L498.17,275.96 L498.9,276.57 L499.63,277.18 L500.36,277.8 L501.08,278.41 L501.81,279.01 L502.54,279.62 L503.27,280.21 L504,280.8 L504.73,281.38 L505.46,281.95 L506.18,282.51 L506.91,283.05 L507.64,283.59 L508.37,284.11 L509.1,284.62 L509.83,285.12 L510.56,285.61 L511.28,286.08 L512.01,286.54 L512.74,286.99 L513.47,287.43 L514.2,287.85 L514.93,288.26 L515.66,288.66 L516.38,289.05 L517.11,289.42 L517.84,289.79 L518.57,290.14 L519.3,290.48 L520.03,290.81 L520.76,291.13 L521.49,291.44 L522.21,291.75 L522.94,292.04 L523.67,292.32 L524.4,292.59 L525.13,292.86 L525.86,293.12 L526.59,293.36 L527.31,293.61 L528.04,293.84 L528.77,294.07 L529.5,294.28 L530.23,294.5 L530.96,294.7 L531.69,294.9 L532.41,295.1 L533.14,295.28 L533.87,295.47 L534.6,295.64 L535.33,295.81 L536.06,295.98 L536.79,296.14 L537.51,296.3 L538.24,296.45 L538.97,296.6 L539.7,296.74" fill="none" stroke="#3d5a8a" stroke-width="1.7" clip-path="url(#cb)"/>
<g fill="none" stroke="#c82a2a" stroke-width="1.05" clip-path="url(#cc)"><circle cx="320.55" cy="291.31" r="1.75"/><circle cx="321.4" cy="289.36" r="1.75"/><circle cx="322.25" cy="289.24" r="1.75"/><circle cx="323.1" cy="290.39" r="1.75"/><circle cx="323.95" cy="288.68" r="1.75"/><circle cx="324.8" cy="291.39" r="1.75"/><circle cx="325.65" cy="289.41" r="1.75"/><circle cx="326.5" cy="290.02" r="1.75"/><circle cx="327.35" cy="290.47" r="1.75"/><circle cx="328.2" cy="291.48" r="1.75"/><circle cx="329.05" cy="290.97" r="1.75"/><circle cx="329.9" cy="289.42" r="1.75"/><circle cx="330.75" cy="289.62" r="1.75"/><circle cx="331.6" cy="291" r="1.75"/><circle cx="332.45" cy="289.44" r="1.75"/><circle cx="333.3" cy="290.75" r="1.75"/><circle cx="334.15" cy="290.43" r="1.75"/><circle cx="335" cy="291.62" r="1.75"/><circle cx="335.85" cy="291.95" r="1.75"/><circle cx="336.7" cy="289.4" r="1.75"/><circle cx="337.55" cy="291.51" r="1.75"/><circle cx="338.4" cy="291.71" r="1.75"/><circle cx="339.25" cy="290.77" r="1.75"/><circle cx="340.1" cy="290.94" r="1.75"/><circle cx="340.95" cy="290.56" r="1.75"/><circle cx="341.8" cy="291.21" r="1.75"/><circle cx="342.65" cy="291.78" r="1.75"/><circle cx="343.5" cy="292.48" r="1.75"/><circle cx="344.35" cy="292.59" r="1.75"/><circle cx="345.2" cy="291.43" r="1.75"/><circle cx="346.05" cy="291.09" r="1.75"/><circle cx="346.9" cy="292.42" r="1.75"/><circle cx="347.75" cy="289.83" r="1.75"/><circle cx="348.6" cy="290.82" r="1.75"/><circle cx="349.45" cy="292.29" r="1.75"/><circle cx="350.3" cy="293.45" r="1.75"/><circle cx="351.15" cy="291.38" r="1.75"/><circle cx="352" cy="292.04" r="1.75"/><circle cx="352.85" cy="291.23" r="1.75"/><circle cx="353.7" cy="291.99" r="1.75"/><circle cx="354.55" cy="292.03" r="1.75"/><circle cx="355.4" cy="291.59" r="1.75"/><circle cx="356.25" cy="292.43" r="1.75"/><circle cx="357.1" cy="292.07" r="1.75"/><circle cx="357.95" cy="292.58" r="1.75"/><circle cx="358.8" cy="292.12" r="1.75"/><circle cx="359.65" cy="291.45" r="1.75"/><circle cx="360.5" cy="292.43" r="1.75"/><circle cx="361.35" cy="292.96" r="1.75"/><circle cx="362.2" cy="291.84" r="1.75"/><circle cx="363.05" cy="293.36" r="1.75"/><circle cx="363.9" cy="292.77" r="1.75"/><circle cx="364.75" cy="292.23" r="1.75"/><circle cx="365.6" cy="292.53" r="1.75"/><circle cx="366.45" cy="292.24" r="1.75"/><circle cx="367.3" cy="291.93" r="1.75"/><circle cx="368.15" cy="293.23" r="1.75"/><circle cx="369" cy="293.24" r="1.75"/><circle cx="369.85" cy="292.31" r="1.75"/><circle cx="370.7" cy="292.52" r="1.75"/><circle cx="371.55" cy="292.52" r="1.75"/><circle cx="372.4" cy="293.17" r="1.75"/><circle cx="373.25" cy="293.73" r="1.75"/><circle cx="374.1" cy="292.26" r="1.75"/><circle cx="374.95" cy="292.95" r="1.75"/><circle cx="375.8" cy="292.74" r="1.75"/><circle cx="376.65" cy="293.16" r="1.75"/><circle cx="377.5" cy="293.79" r="1.75"/><circle cx="378.35" cy="292.17" r="1.75"/><circle cx="379.2" cy="291.35" r="1.75"/><circle cx="380.05" cy="292.68" r="1.75"/><circle cx="380.9" cy="291.69" r="1.75"/><circle cx="381.75" cy="293.99" r="1.75"/><circle cx="382.6" cy="292.33" r="1.75"/><circle cx="383.45" cy="292.62" r="1.75"/><circle cx="384.3" cy="292.99" r="1.75"/><circle cx="385.15" cy="292.97" r="1.75"/><circle cx="386" cy="292.52" r="1.75"/><circle cx="386.85" cy="292.81" r="1.75"/><circle cx="387.7" cy="293.47" r="1.75"/><circle cx="388.55" cy="292.59" r="1.75"/><circle cx="389.4" cy="294.09" r="1.75"/><circle cx="390.25" cy="293.03" r="1.75"/><circle cx="391.1" cy="291.12" r="1.75"/><circle cx="391.95" cy="293.38" r="1.75"/><circle cx="392.8" cy="291.51" r="1.75"/><circle cx="393.65" cy="292.96" r="1.75"/><circle cx="394.5" cy="294.29" r="1.75"/><circle cx="395.35" cy="293.44" r="1.75"/><circle cx="396.2" cy="291.87" r="1.75"/><circle cx="397.05" cy="292.06" r="1.75"/><circle cx="397.9" cy="292.62" r="1.75"/><circle cx="398.75" cy="293.6" r="1.75"/><circle cx="399.6" cy="292.03" r="1.75"/><circle cx="400.45" cy="293.29" r="1.75"/><circle cx="401.3" cy="292.69" r="1.75"/><circle cx="402.15" cy="292.36" r="1.75"/><circle cx="403" cy="292.28" r="1.75"/><circle cx="403.85" cy="293.53" r="1.75"/><circle cx="404.7" cy="291.24" r="1.75"/><circle cx="405.55" cy="291.45" r="1.75"/><circle cx="406.4" cy="292.83" r="1.75"/><circle cx="407.25" cy="292.84" r="1.75"/><circle cx="408.1" cy="291.17" r="1.75"/><circle cx="408.95" cy="291.37" r="1.75"/><circle cx="409.8" cy="291.14" r="1.75"/><circle cx="410.65" cy="292.27" r="1.75"/><circle cx="411.5" cy="291.35" r="1.75"/><circle cx="412.35" cy="292.73" r="1.75"/><circle cx="413.2" cy="292.2" r="1.75"/><circle cx="414.05" cy="291.76" r="1.75"/><circle cx="414.9" cy="291.63" r="1.75"/><circle cx="415.75" cy="291.78" r="1.75"/><circle cx="416.6" cy="291.89" r="1.75"/><circle cx="417.45" cy="291.21" r="1.75"/><circle cx="418.3" cy="291.28" r="1.75"/><circle cx="419.15" cy="291.54" r="1.75"/><circle cx="420" cy="290.83" r="1.75"/><circle cx="420.85" cy="291.46" r="1.75"/><circle cx="421.7" cy="290.54" r="1.75"/><circle cx="422.55" cy="289.97" r="1.75"/><circle cx="423.4" cy="290.51" r="1.75"/><circle cx="424.25" cy="291.4" r="1.75"/><circle cx="425.1" cy="291.14" r="1.75"/><circle cx="425.95" cy="288.82" r="1.75"/><circle cx="426.8" cy="290" r="1.75"/><circle cx="427.65" cy="289.27" r="1.75"/><circle cx="428.5" cy="289.22" r="1.75"/><circle cx="429.35" cy="289.03" r="1.75"/><circle cx="430.2" cy="288.92" r="1.75"/><circle cx="431.05" cy="288.52" r="1.75"/><circle cx="431.9" cy="288.5" r="1.75"/><circle cx="432.75" cy="288.64" r="1.75"/><circle cx="433.6" cy="287.42" r="1.75"/><circle cx="434.45" cy="287.18" r="1.75"/><circle cx="435.3" cy="287.02" r="1.75"/><circle cx="436.15" cy="286.77" r="1.75"/><circle cx="437" cy="287.73" r="1.75"/><circle cx="437.85" cy="286.28" r="1.75"/><circle cx="438.7" cy="286.72" r="1.75"/><circle cx="439.55" cy="286.54" r="1.75"/><circle cx="440.4" cy="286.71" r="1.75"/><circle cx="441.25" cy="285.92" r="1.75"/><circle cx="442.1" cy="286.32" r="1.75"/><circle cx="442.95" cy="285.22" r="1.75"/><circle cx="443.8" cy="285.09" r="1.75"/><circle cx="444.65" cy="285.09" r="1.75"/><circle cx="445.5" cy="283.17" r="1.75"/><circle cx="446.35" cy="284.09" r="1.75"/><circle cx="447.2" cy="284.48" r="1.75"/><circle cx="448.05" cy="283.09" r="1.75"/><circle cx="448.9" cy="282.42" r="1.75"/><circle cx="449.75" cy="283.48" r="1.75"/><circle cx="450.6" cy="281.77" r="1.75"/><circle cx="451.45" cy="282.09" r="1.75"/><circle cx="452.3" cy="279.08" r="1.75"/><circle cx="453.15" cy="280.32" r="1.75"/><circle cx="454" cy="279.38" r="1.75"/><circle cx="454.85" cy="279.47" r="1.75"/><circle cx="455.7" cy="279.48" r="1.75"/><circle cx="456.55" cy="277.98" r="1.75"/><circle cx="457.4" cy="277.35" r="1.75"/><circle cx="458.25" cy="274.93" r="1.75"/><circle cx="459.1" cy="276.85" r="1.75"/><circle cx="459.95" cy="276.6" r="1.75"/><circle cx="460.8" cy="275.14" r="1.75"/><circle cx="461.65" cy="274.05" r="1.75"/><circle cx="462.5" cy="273.98" r="1.75"/><circle cx="463.35" cy="273.77" r="1.75"/><circle cx="464.2" cy="272.82" r="1.75"/><circle cx="465.05" cy="273.13" r="1.75"/><circle cx="465.9" cy="270.59" r="1.75"/><circle cx="466.75" cy="269.33" r="1.75"/><circle cx="467.6" cy="269.93" r="1.75"/><circle cx="468.45" cy="269.79" r="1.75"/><circle cx="469.3" cy="267.89" r="1.75"/><circle cx="470.15" cy="267.53" r="1.75"/><circle cx="471" cy="266.41" r="1.75"/><circle cx="471.85" cy="265.33" r="1.75"/><circle cx="472.7" cy="265.07" r="1.75"/><circle cx="473.55" cy="263.53" r="1.75"/><circle cx="474.4" cy="264.59" r="1.75"/><circle cx="475.25" cy="264.18" r="1.75"/><circle cx="476.1" cy="263.97" r="1.75"/><circle cx="476.95" cy="262.31" r="1.75"/><circle cx="477.8" cy="262.02" r="1.75"/><circle cx="478.65" cy="260.92" r="1.75"/><circle cx="479.5" cy="260.76" r="1.75"/><circle cx="480.35" cy="262.14" r="1.75"/><circle cx="481.2" cy="263.28" r="1.75"/><circle cx="482.05" cy="260.42" r="1.75"/><circle cx="482.9" cy="260.8" r="1.75"/><circle cx="483.75" cy="261.71" r="1.75"/><circle cx="484.6" cy="260.61" r="1.75"/><circle cx="485.45" cy="261.6" r="1.75"/><circle cx="486.3" cy="261.15" r="1.75"/><circle cx="487.15" cy="261.37" r="1.75"/><circle cx="488" cy="262.5" r="1.75"/><circle cx="488.85" cy="262.02" r="1.75"/><circle cx="489.7" cy="261.69" r="1.75"/><circle cx="490.55" cy="263.59" r="1.75"/><circle cx="491.4" cy="263.51" r="1.75"/><circle cx="492.25" cy="263.63" r="1.75"/><circle cx="493.1" cy="264.01" r="1.75"/><circle cx="493.95" cy="265.56" r="1.75"/><circle cx="494.8" cy="265.27" r="1.75"/><circle cx="495.65" cy="266.5" r="1.75"/><circle cx="496.5" cy="267.77" r="1.75"/><circle cx="497.35" cy="267.67" r="1.75"/><circle cx="498.2" cy="269.2" r="1.75"/><circle cx="499.05" cy="268.16" r="1.75"/><circle cx="499.9" cy="270.25" r="1.75"/><circle cx="500.75" cy="270.9" r="1.75"/><circle cx="501.6" cy="272.54" r="1.75"/><circle cx="502.45" cy="271.94" r="1.75"/><circle cx="503.3" cy="273.25" r="1.75"/><circle cx="504.15" cy="273.2" r="1.75"/><circle cx="505" cy="273.24" r="1.75"/><circle cx="505.85" cy="274.03" r="1.75"/><circle cx="506.7" cy="274.81" r="1.75"/><circle cx="507.55" cy="276.49" r="1.75"/><circle cx="508.4" cy="276.03" r="1.75"/><circle cx="509.25" cy="277.21" r="1.75"/><circle cx="510.1" cy="278.41" r="1.75"/><circle cx="510.95" cy="279.24" r="1.75"/><circle cx="511.8" cy="279.59" r="1.75"/><circle cx="512.65" cy="280.53" r="1.75"/><circle cx="513.5" cy="279.22" r="1.75"/><circle cx="514.35" cy="280.19" r="1.75"/><circle cx="515.2" cy="281.26" r="1.75"/><circle cx="516.05" cy="282.31" r="1.75"/><circle cx="516.9" cy="282.35" r="1.75"/><circle cx="517.75" cy="281.91" r="1.75"/><circle cx="518.6" cy="282.76" r="1.75"/><circle cx="519.45" cy="282.16" r="1.75"/><circle cx="520.3" cy="284.29" r="1.75"/><circle cx="521.15" cy="282.87" r="1.75"/><circle cx="522" cy="284.66" r="1.75"/><circle cx="522.85" cy="285.63" r="1.75"/><circle cx="523.7" cy="285.86" r="1.75"/><circle cx="524.55" cy="284.45" r="1.75"/><circle cx="525.4" cy="286.06" r="1.75"/><circle cx="526.25" cy="285.98" r="1.75"/><circle cx="527.1" cy="286.32" r="1.75"/><circle cx="527.95" cy="287.98" r="1.75"/><circle cx="528.8" cy="287.31" r="1.75"/><circle cx="529.65" cy="286.38" r="1.75"/><circle cx="530.5" cy="286.9" r="1.75"/><circle cx="531.35" cy="288.4" r="1.75"/><circle cx="532.2" cy="288.31" r="1.75"/><circle cx="533.05" cy="287.59" r="1.75"/><circle cx="533.9" cy="287.44" r="1.75"/><circle cx="534.75" cy="288.44" r="1.75"/><circle cx="535.6" cy="288.73" r="1.75"/><circle cx="536.45" cy="289.82" r="1.75"/><circle cx="537.3" cy="289.01" r="1.75"/><circle cx="538.15" cy="290.09" r="1.75"/><circle cx="539" cy="290.65" r="1.75"/></g>
<path d="M321.85,290.15 L322.58,290.2 L323.31,290.26 L324.04,290.31 L324.76,290.36 L325.49,290.42 L326.22,290.47 L326.95,290.52 L327.68,290.57 L328.41,290.62 L329.14,290.67 L329.86,290.72 L330.59,290.77 L331.32,290.82 L332.05,290.87 L332.78,290.91 L333.51,290.96 L334.24,291.01 L334.96,291.05 L335.69,291.1 L336.42,291.14 L337.15,291.19 L337.88,291.23 L338.61,291.28 L339.34,291.32 L340.06,291.36 L340.79,291.41 L341.52,291.45 L342.25,291.49 L342.98,291.53 L343.71,291.57 L344.44,291.61 L345.17,291.65 L345.89,291.69 L346.62,291.73 L347.35,291.77 L348.08,291.8 L348.81,291.84 L349.54,291.88 L350.27,291.91 L350.99,291.95 L351.72,291.98 L352.45,292.02 L353.18,292.05 L353.91,292.08 L354.64,292.11 L355.37,292.14 L356.09,292.18 L356.82,292.21 L357.55,292.24 L358.28,292.27 L359.01,292.29 L359.74,292.32 L360.47,292.35 L361.19,292.38 L361.92,292.4 L362.65,292.43 L363.38,292.45 L364.11,292.47 L364.84,292.5 L365.57,292.52 L366.29,292.54 L367.02,292.56 L367.75,292.58 L368.48,292.6 L369.21,292.62 L369.94,292.64 L370.67,292.66 L371.39,292.67 L372.12,292.69 L372.85,292.7 L373.58,292.72 L374.31,292.73 L375.04,292.74 L375.77,292.75 L376.49,292.76 L377.22,292.77 L377.95,292.78 L378.68,292.79 L379.41,292.8 L380.14,292.8 L380.87,292.81 L381.59,292.81 L382.32,292.81 L383.05,292.82 L383.78,292.82 L384.51,292.82 L385.24,292.82 L385.97,292.81 L386.69,292.81 L387.42,292.8 L388.15,292.8 L388.88,292.79 L389.61,292.78 L390.34,292.77 L391.07,292.76 L391.8,292.75 L392.52,292.74 L393.25,292.72 L393.98,292.7 L394.71,292.69 L395.44,292.67 L396.17,292.65 L396.9,292.62 L397.62,292.6 L398.35,292.58 L399.08,292.55 L399.81,292.52 L400.54,292.49 L401.27,292.46 L402,292.42 L402.72,292.39 L403.45,292.35 L404.18,292.31 L404.91,292.27 L405.64,292.22 L406.37,292.18 L407.1,292.13 L407.82,292.08 L408.55,292.03 L409.28,291.97 L410.01,291.92 L410.74,291.86 L411.47,291.8 L412.2,291.73 L412.92,291.67 L413.65,291.6 L414.38,291.52 L415.11,291.45 L415.84,291.37 L416.57,291.29 L417.3,291.2 L418.02,291.12 L418.75,291.02 L419.48,290.93 L420.21,290.83 L420.94,290.73 L421.67,290.63 L422.4,290.52 L423.12,290.4 L423.85,290.29 L424.58,290.17 L425.31,290.04 L426.04,289.91 L426.77,289.78 L427.5,289.64 L428.22,289.49 L428.95,289.34 L429.68,289.19 L430.41,289.03 L431.14,288.86 L431.87,288.69 L432.6,288.52 L433.33,288.33 L434.05,288.15 L434.78,287.95 L435.51,287.75 L436.24,287.54 L436.97,287.32 L437.7,287.1 L438.43,286.87 L439.15,286.63 L439.88,286.38 L440.61,286.13 L441.34,285.87 L442.07,285.6 L442.8,285.32 L443.53,285.03 L444.25,284.73 L444.98,284.42 L445.71,284.1 L446.44,283.77 L447.17,283.44 L447.9,283.09 L448.63,282.73 L449.35,282.36 L450.08,281.98 L450.81,281.58 L451.54,281.18 L452.27,280.76 L453,280.34 L453.73,279.9 L454.45,279.45 L455.18,278.98 L455.91,278.51 L456.64,278.02 L457.37,277.52 L458.1,277.02 L458.83,276.5 L459.55,275.96 L460.28,275.42 L461.01,274.87 L461.74,274.31 L462.47,273.74 L463.2,273.17 L463.93,272.58 L464.65,272 L465.38,271.4 L466.11,270.81 L466.84,270.21 L467.57,269.61 L468.3,269.02 L469.03,268.43 L469.75,267.84 L470.48,267.26 L471.21,266.7 L471.94,266.14 L472.67,265.61 L473.4,265.08 L474.13,264.58 L474.86,264.11 L475.58,263.66 L476.31,263.23 L477.04,262.84 L477.77,262.48 L478.5,262.16 L479.23,261.88 L479.96,261.63 L480.68,261.43 L481.41,261.27 L482.14,261.15 L482.87,261.08 L483.6,261.06 L484.33,261.08 L485.06,261.15 L485.78,261.26 L486.51,261.41 L487.24,261.61 L487.97,261.86 L488.7,262.14 L489.43,262.46 L490.16,262.81 L490.88,263.2 L491.61,263.63 L492.34,264.08 L493.07,264.55 L493.8,265.06 L494.53,265.58 L495.26,266.12 L495.98,266.67 L496.71,267.24 L497.44,267.82 L498.17,268.41 L498.9,269.01 L499.63,269.61 L500.36,270.21 L501.08,270.81 L501.81,271.41 L502.54,272.01 L503.27,272.6 L504,273.19 L504.73,273.77 L505.46,274.34 L506.18,274.91 L506.91,275.47 L507.64,276.02 L508.37,276.55 L509.1,277.08 L509.83,277.59 L510.56,278.1 L511.28,278.59 L512.01,279.07 L512.74,279.54 L513.47,280 L514.2,280.45 L514.93,280.88 L515.66,281.3 L516.38,281.71 L517.11,282.11 L517.84,282.5 L518.57,282.88 L519.3,283.24 L520.03,283.6 L520.76,283.94 L521.49,284.28 L522.21,284.6 L522.94,284.91 L523.67,285.22 L524.4,285.51 L525.13,285.8 L525.86,286.08 L526.59,286.35 L527.31,286.61 L528.04,286.86 L528.77,287.1 L529.5,287.34 L530.23,287.57 L530.96,287.79 L531.69,288 L532.41,288.21 L533.14,288.41 L533.87,288.61 L534.6,288.8 L535.33,288.98 L536.06,289.15 L536.79,289.32 L537.51,289.49 L538.24,289.65 L538.97,289.8 L539.7,289.95" fill="none" stroke="#260606" stroke-width="1.35" clip-path="url(#cb)"/>
<defs><linearGradient id="pk" x1="0" x2="1" y1="0" y2="0"><stop offset="0" stop-color="#f49eb9"/><stop offset="0.259" stop-color="#f8b6c8"/><stop offset="0.517" stop-color="#fad2da"/><stop offset="0.776" stop-color="#fde8eb"/><stop offset="0.931" stop-color="#fcf7f5"/><stop offset="1" stop-color="#ffffff"/></linearGradient><filter id="bl" x="-10%" y="-60%" width="120%" height="220%"><feGaussianBlur stdDeviation="2.6"/></filter></defs>
<defs><linearGradient id="gv" x1="0" x2="0" y1="0" y2="1"><stop offset="0" stop-color="#a5a6aa" stop-opacity="0"/><stop offset="0.013" stop-color="#a5a6aa" stop-opacity="0"/><stop offset="0.079" stop-color="#a5a6aa" stop-opacity="0.12"/><stop offset="0.174" stop-color="#a5a6aa" stop-opacity="0.5"/><stop offset="0.263" stop-color="#a5a6aa" stop-opacity="0.85"/><stop offset="0.329" stop-color="#a5a6aa" stop-opacity="1"/><stop offset="0.65" stop-color="#a5a6aa" stop-opacity="1"/><stop offset="0.711" stop-color="#a5a6aa" stop-opacity="0.8"/><stop offset="0.774" stop-color="#a5a6aa" stop-opacity="0.5"/><stop offset="0.855" stop-color="#a5a6aa" stop-opacity="0.22"/><stop offset="0.947" stop-color="#a5a6aa" stop-opacity="0.05"/><stop offset="1" stop-color="#a5a6aa" stop-opacity="0"/></linearGradient><linearGradient id="gh" x1="0" x2="1" y1="0" y2="0"><stop offset="0" stop-color="#fff" stop-opacity="0"/><stop offset="0.012" stop-color="#fff" stop-opacity="0.5"/><stop offset="0.024" stop-color="#fff" stop-opacity="1"/><stop offset="0.985" stop-color="#fff" stop-opacity="1"/><stop offset="0.992" stop-color="#fff" stop-opacity="0.5"/><stop offset="1" stop-color="#fff" stop-opacity="0"/></linearGradient><mask id="mh" maskUnits="userSpaceOnUse" x="150" y="390" width="400" height="50"><rect x="159" y="390" width="375" height="50" fill="url(#gh)"/></mask></defs>
<rect x="170" y="414" width="232" height="219" fill="url(#pk)"/>
<rect x="159" y="395" width="375" height="38" fill="url(#gv)" mask="url(#mh)"/>
<line x1="69" y1="367.8" x2="533.7" y2="367.8" stroke="#1a1a1a" stroke-width="1.5"/>
<line x1="69" y1="632.7" x2="533.7" y2="632.7" stroke="#1a1a1a" stroke-width="1.6"/>
<line x1="69.6" y1="367.1" x2="69.6" y2="633" stroke="#d8383d" stroke-width="1.2"/>
<line x1="533.7" y1="367.1" x2="533.7" y2="633" stroke="#4dab73" stroke-width="1.3"/>
<line x1="76" y1="367.8" x2="76" y2="379.6" stroke="#1a1a1a" stroke-width="1.4"/>
<line x1="76" y1="633" x2="76" y2="621.5" stroke="#1a1a1a" stroke-width="1.4"/>
<line x1="140.47" y1="367.8" x2="140.47" y2="379.6" stroke="#1a1a1a" stroke-width="1.4"/>
<line x1="140.47" y1="633" x2="140.47" y2="621.5" stroke="#1a1a1a" stroke-width="1.4"/>
<line x1="204.94" y1="367.8" x2="204.94" y2="379.6" stroke="#1a1a1a" stroke-width="1.4"/>
<line x1="204.94" y1="633" x2="204.94" y2="621.5" stroke="#1a1a1a" stroke-width="1.4"/>
<line x1="269.41" y1="367.8" x2="269.41" y2="379.6" stroke="#1a1a1a" stroke-width="1.4"/>
<line x1="269.41" y1="633" x2="269.41" y2="621.5" stroke="#1a1a1a" stroke-width="1.4"/>
<line x1="333.89" y1="367.8" x2="333.89" y2="379.6" stroke="#1a1a1a" stroke-width="1.4"/>
<line x1="333.89" y1="633" x2="333.89" y2="621.5" stroke="#1a1a1a" stroke-width="1.4"/>
<line x1="398.36" y1="367.8" x2="398.36" y2="379.6" stroke="#1a1a1a" stroke-width="1.4"/>
<line x1="398.36" y1="633" x2="398.36" y2="621.5" stroke="#1a1a1a" stroke-width="1.4"/>
<line x1="462.83" y1="367.8" x2="462.83" y2="379.6" stroke="#1a1a1a" stroke-width="1.4"/>
<line x1="462.83" y1="633" x2="462.83" y2="621.5" stroke="#1a1a1a" stroke-width="1.4"/>
<line x1="527.3" y1="367.8" x2="527.3" y2="379.6" stroke="#1a1a1a" stroke-width="1.4"/>
<line x1="527.3" y1="633" x2="527.3" y2="621.5" stroke="#1a1a1a" stroke-width="1.4"/>
<line x1="69.6" y1="590" x2="80.7" y2="590" stroke="#d8383d" stroke-width="1.2"/>
<line x1="69.6" y1="526.4" x2="80.7" y2="526.4" stroke="#d8383d" stroke-width="1.2"/>
<line x1="69.6" y1="462.8" x2="80.7" y2="462.8" stroke="#d8383d" stroke-width="1.2"/>
<line x1="69.6" y1="399.2" x2="80.7" y2="399.2" stroke="#d8383d" stroke-width="1.2"/>
<line x1="533.7" y1="618.5" x2="523.7" y2="618.5" stroke="#4dab73" stroke-width="1.3"/>
<line x1="533.7" y1="454" x2="523.7" y2="454" stroke="#4dab73" stroke-width="1.3"/>
<path d="M140.47,624 L204.94,591.8 L269.41,568 L333.89,538.8 L398.36,486.8 L462.83,460.7 L527.3,454.1" fill="none" stroke="#4dab73" stroke-width="1.35"/>
<path d="M204.94,580 V604.1 M199.74,580 H210.14 M199.74,604.1 H210.14" stroke="#4dab73" stroke-width="1.3" fill="none"/>
<path d="M269.41,554 V581.6 M264.21,554 H274.61 M264.21,581.6 H274.61" stroke="#4dab73" stroke-width="1.3" fill="none"/>
<path d="M333.89,523.3 V554.3 M328.69,523.3 H339.09 M328.69,554.3 H339.09" stroke="#4dab73" stroke-width="1.3" fill="none"/>
<path d="M398.36,472 V502.1 M393.16,472 H403.56 M393.16,502.1 H403.56" stroke="#4dab73" stroke-width="1.3" fill="none"/>
<path d="M462.83,445.9 V475.6 M457.63,445.9 H468.03 M457.63,475.6 H468.03" stroke="#4dab73" stroke-width="1.3" fill="none"/>
<path d="M527.3,438.4 V470.2 M522.1,438.4 H532.5 M522.1,470.2 H532.5" stroke="#4dab73" stroke-width="1.3" fill="none"/>
<path d="M204.94,587.1 L269.41,600.3 L333.89,613.8 L398.36,624 L462.83,625.4 L527.3,627.6" fill="none" stroke="#e2282c" stroke-width="1.4"/>
<path d="M204.94,580.8 V593.4 M199.64,580.8 H210.24 M199.64,593.4 H210.24" stroke="#d8343a" stroke-width="1.5" fill="none"/>
<path d="M269.41,593.5 V606.6 M264.11,593.5 H274.71 M264.11,606.6 H274.71" stroke="#d8343a" stroke-width="1.5" fill="none"/>
<path d="M333.89,606 V621.3 M328.59,606 H339.19 M328.59,621.3 H339.19" stroke="#d8343a" stroke-width="1.5" fill="none"/>
<path d="M398.36,617.7 V629.7 M393.06,617.7 H403.66 M393.06,629.7 H403.66" stroke="#d8343a" stroke-width="1.5" fill="none"/>
<path d="M462.83,620.5 V630.5 M457.53,620.5 H468.13 M457.53,630.5 H468.13" stroke="#d8343a" stroke-width="1.5" fill="none"/>
<path d="M527.3,622.5 V632.9 M522,622.5 H532.6 M522,632.9 H532.6" stroke="#d8343a" stroke-width="1.5" fill="none"/>
<path d="M140.47,616.4 L148.07,624 L140.47,631.6 L132.87,624 Z" fill="#fff" stroke="#4dab73" stroke-width="1.3"/>
<path d="M204.94,584.2 L212.54,591.8 L204.94,599.4 L197.34,591.8 Z" fill="#fff" stroke="#4dab73" stroke-width="1.3"/>
<path d="M269.41,560.4 L277.01,568 L269.41,575.6 L261.81,568 Z" fill="#fff" stroke="#4dab73" stroke-width="1.3"/>
<path d="M333.89,531.2 L341.49,538.8 L333.89,546.4 L326.29,538.8 Z" fill="#fff" stroke="#4dab73" stroke-width="1.3"/>
<path d="M398.36,479.2 L405.96,486.8 L398.36,494.4 L390.76,486.8 Z" fill="#fff" stroke="#4dab73" stroke-width="1.3"/>
<path d="M462.83,453.1 L470.43,460.7 L462.83,468.3 L455.23,460.7 Z" fill="#fff" stroke="#4dab73" stroke-width="1.3"/>
<path d="M527.3,446.5 L534.9,454.1 L527.3,461.7 L519.7,454.1 Z" fill="#fff" stroke="#4dab73" stroke-width="1.3"/>
<circle cx="204.94" cy="587.1" r="5.1" fill="#ee2a2e" stroke="#d8282e" stroke-width="0.6"/>
<circle cx="269.41" cy="600.3" r="5.1" fill="#ee2a2e" stroke="#d8282e" stroke-width="0.6"/>
<circle cx="333.89" cy="613.8" r="5.1" fill="#ee2a2e" stroke="#d8282e" stroke-width="0.6"/>
<circle cx="398.36" cy="624" r="5.1" fill="#ee2a2e" stroke="#d8282e" stroke-width="0.6"/>
<circle cx="462.83" cy="625.4" r="5.1" fill="#ee2a2e" stroke="#d8282e" stroke-width="0.6"/>
<circle cx="527.3" cy="627.6" r="5.1" fill="#ee2a2e" stroke="#d8282e" stroke-width="0.6"/>
<line x1="415" y1="560.6" x2="439" y2="560.6" stroke="#e2282c" stroke-width="1.4"/><circle cx="427" cy="560.6" r="3.8" fill="#e2282c"/>
<line x1="415" y1="577.6" x2="439" y2="577.6" stroke="#4dab73" stroke-width="1.4"/><path d="M427,572.3 L432.3,577.6 L427,582.9 L421.7,577.6 Z" fill="#fff" stroke="#4dab73" stroke-width="1.2"/>
<text transform="translate(-0.88,23.94) scale(0.9357,1.0190)" font-size="28" font-weight="bold" fill="#141414">a</text>
<text transform="translate(272.98,22.72) scale(1.0426,0.9919)" font-size="28" font-weight="bold" fill="#141414">b</text>
<text transform="translate(-1.22,380.98) scale(1.0253,1.0287)" font-size="28" font-weight="bold" fill="#141414">c</text>
<text transform="translate(173.01,30.95) scale(1.0798,1.0821)" font-size="17" font-weight="normal" fill="#141414" stroke="#141414" stroke-width="0.42">EDC at <tspan font-style="italic">k</tspan><tspan font-size="0.68em" dy="0.22em">F</tspan></text>
<text transform="translate(368.24,30.39) scale(1.0890,1.0973)" font-size="17" font-weight="normal" fill="#141414" stroke="#141414" stroke-width="0.42">MDC at <tspan font-style="italic">E</tspan><tspan font-size="0.68em" dy="0.22em">F</tspan></text>
<text transform="translate(75.47,78.79) scale(0.9716,0.9589)" font-size="16" font-weight="normal" fill="#141414" stroke="#141414" stroke-width="0.42">8 ML</text>
<text transform="translate(75.32,154.12) scale(0.9773,0.9659)" font-size="16" font-weight="normal" fill="#141414" stroke="#141414" stroke-width="0.42">7 ML</text>
<text transform="translate(75.29,213.01) scale(0.9753,0.9739)" font-size="16" font-weight="normal" fill="#141414" stroke="#141414" stroke-width="0.42">6 ML</text>
<text transform="translate(75.33,246.05) scale(0.9749,0.9448)" font-size="16" font-weight="normal" fill="#141414" stroke="#141414" stroke-width="0.42">5 ML</text>
<text transform="translate(75.66,268.93) scale(0.9640,0.9322)" font-size="16" font-weight="normal" fill="#141414" stroke="#141414" stroke-width="0.42">4 ML</text>
<text transform="translate(75.31,288.19) scale(0.9759,0.9369)" font-size="16" font-weight="normal" fill="#141414" stroke="#141414" stroke-width="0.42">3 ML</text>
<text transform="translate(122.34,306.10) scale(0.9900,0.9184)" font-size="16" font-weight="normal" fill="#141414" stroke="#141414" stroke-width="0.42">2 ML</text>
<text transform="translate(326.17,43.52) scale(0.9830,0.9547)" font-size="16" font-weight="normal" fill="#141414" stroke="#141414" stroke-width="0.42">8 ML</text>
<text transform="translate(326.08,94.05) scale(0.9868,0.9681)" font-size="16" font-weight="normal" fill="#141414" stroke="#141414" stroke-width="0.42">7 ML</text>
<text transform="translate(326.23,143.70) scale(0.9838,0.9345)" font-size="16" font-weight="normal" fill="#141414" stroke="#141414" stroke-width="0.42">6 ML</text>
<text transform="translate(326.20,193.27) scale(0.9842,0.9436)" font-size="16" font-weight="normal" fill="#141414" stroke="#141414" stroke-width="0.42">5 ML</text>
<text transform="translate(326.71,241.47) scale(0.9707,0.9870)" font-size="16" font-weight="normal" fill="#141414" stroke="#141414" stroke-width="0.42">4 ML</text>
<text transform="translate(326.33,284.55) scale(0.9798,0.9169)" font-size="16" font-weight="normal" fill="#141414" stroke="#141414" stroke-width="0.42">3 ML</text>
<text transform="translate(57.77,325.39) scale(1.1671,1.0462)" font-size="14" font-weight="normal" fill="#141414" stroke="#141414" stroke-width="0.3"><tspan font-family="NanumGothic, 'Liberation Sans', sans-serif" font-size="0.91em" stroke-width="0.55">1</tspan>.0</text>
<text transform="translate(105.40,325.57) scale(1.1456,1.0418)" font-size="14" font-weight="normal" fill="#141414" stroke="#141414" stroke-width="0.3">0.5</text>
<text transform="translate(159.58,325.91) scale(1.1333,1.1200)" font-size="14" font-weight="normal" fill="#141414" stroke="#141414" stroke-width="0.3">0</text>
<text transform="translate(197.28,325.71) scale(1.1301,1.0726)" font-size="14" font-weight="normal" fill="#141414" stroke="#141414" stroke-width="0.3">-0.5</text>
<text transform="translate(244.28,325.65) scale(1.1280,1.0716)" font-size="14" font-weight="normal" fill="#141414" stroke="#141414" stroke-width="0.3">-<tspan font-family="NanumGothic, 'Liberation Sans', sans-serif" font-size="0.91em" stroke-width="0.55">1</tspan>.0</text>
<text transform="translate(316.65,326.00) scale(1.1336,1.0710)" font-size="14" font-weight="normal" fill="#141414" stroke="#141414" stroke-width="0.3">0</text>
<text transform="translate(353.70,325.76) scale(1.2893,1.0612)" font-size="14" font-weight="normal" fill="#141414" stroke="#141414" stroke-width="0.3">0.<tspan font-family="NanumGothic, 'Liberation Sans', sans-serif" font-size="0.91em" stroke-width="0.55">1</tspan></text>
<text transform="translate(397.18,325.67) scale(1.1363,1.0740)" font-size="14" font-weight="normal" fill="#141414" stroke="#141414" stroke-width="0.3">0.2</text>
<text transform="translate(440.78,325.66) scale(1.1375,1.0719)" font-size="14" font-weight="normal" fill="#141414" stroke="#141414" stroke-width="0.3">0.3</text>
<text transform="translate(484.29,325.76) scale(1.1209,1.0557)" font-size="14" font-weight="normal" fill="#141414" stroke="#141414" stroke-width="0.3">0.4</text>
<text transform="translate(527.82,325.66) scale(1.1344,1.0651)" font-size="14" font-weight="normal" fill="#141414" stroke="#141414" stroke-width="0.3">0.5</text>
<text transform="translate(71.88,647.86) scale(1.0500,1.1422)" font-size="14" font-weight="normal" fill="#141414" stroke="#141414" stroke-width="0.3"><tspan font-family="NanumGothic, 'Liberation Sans', sans-serif" font-size="0.91em" stroke-width="0.55">1</tspan></text>
<text transform="translate(135.99,647.65) scale(1.1582,1.0743)" font-size="14" font-weight="normal" fill="#141414" stroke="#141414" stroke-width="0.3">2</text>
<text transform="translate(200.41,647.64) scale(1.1709,1.0877)" font-size="14" font-weight="normal" fill="#141414" stroke="#141414" stroke-width="0.3">3</text>
<text transform="translate(265.40,647.74) scale(1.0808,1.0815)" font-size="14" font-weight="normal" fill="#141414" stroke="#141414" stroke-width="0.3">4</text>
<text transform="translate(329.26,647.48) scale(1.1690,1.0817)" font-size="14" font-weight="normal" fill="#141414" stroke="#141414" stroke-width="0.3">5</text>
<text transform="translate(393.83,647.60) scale(1.1705,1.0862)" font-size="14" font-weight="normal" fill="#141414" stroke="#141414" stroke-width="0.3">6</text>
<text transform="translate(458.19,647.67) scale(1.1873,1.0945)" font-size="14" font-weight="normal" fill="#141414" stroke="#141414" stroke-width="0.3">7</text>
<text transform="translate(522.98,647.64) scale(1.1650,1.0878)" font-size="14" font-weight="normal" fill="#141414" stroke="#141414" stroke-width="0.3">8</text>
<text transform="translate(45.09,594.70) scale(1.3010,1.1153)" font-size="14" font-weight="normal" fill="#e2282c" stroke="#e2282c" stroke-width="0.18">0.<tspan font-family="NanumGothic, 'Liberation Sans', sans-serif" font-size="0.91em" stroke-width="0.55">1</tspan></text>
<text transform="translate(45.15,530.55) scale(1.1403,1.1196)" font-size="14" font-weight="normal" fill="#e2282c" stroke="#e2282c" stroke-width="0.18">0.2</text>
<text transform="translate(45.15,467.35) scale(1.1400,1.1197)" font-size="14" font-weight="normal" fill="#e2282c" stroke="#e2282c" stroke-width="0.18">0.3</text>
<text transform="translate(45.26,403.15) scale(1.1329,1.1210)" font-size="14" font-weight="normal" fill="#e2282c" stroke="#e2282c" stroke-width="0.18">0.4</text>
<text transform="translate(536.29,623.67) scale(1.2003,1.0659)" font-size="14" font-weight="normal" fill="#4dab73" stroke="#4dab73" stroke-width="0.18">0</text>
<text transform="translate(537.40,458.79) scale(1.0500,1.1344)" font-size="14" font-weight="normal" fill="#4dab73" stroke="#4dab73" stroke-width="0.18"><tspan font-family="NanumGothic, 'Liberation Sans', sans-serif" font-size="0.91em" stroke-width="0.55">1</tspan></text>
<text transform="translate(270.56,420.30) scale(1.0136,0.9253)" font-size="23" font-weight="normal" fill="#1e1e1e" stroke="#1e1e1e" stroke-width="0.18">Ioffe-Regel limit</text>
<text transform="translate(418.25,541.98) scale(1.1622,0.9814)" font-size="15.5" font-weight="normal" fill="#141414" stroke="#141414" stroke-width="0.2"><tspan font-style="italic">n</tspan> = <tspan font-family="NanumGothic, 'Liberation Sans', sans-serif" font-size="0.91em" stroke-width="0.55">1</tspan></text>
<text transform="translate(445.80,564.30) scale(0.9762,0.9297)" font-size="15.5" font-weight="normal" fill="#141414" stroke="#141414" stroke-width="0.42">Δ<tspan font-style="italic">k</tspan>(<tspan font-style="italic">E</tspan><tspan font-size="0.68em" dy="0.2em">F</tspan><tspan dy="-0.2em">)</tspan></text>
<text transform="translate(445.38,581.63) scale(1.0047,0.9599)" font-size="15.5" font-weight="normal" fill="#141414" stroke="#141414" stroke-width="0.42">QP weight</text>
<text transform="translate(233.92,680.87) scale(1.0156,0.9476)" font-size="18" font-weight="normal" fill="#141414" stroke="#141414" stroke-width="0.42">Thickness <tspan font-style="italic">t</tspan> (ML)</text>
<text transform="translate(138.13,349.30) scale(0.9943,0.9649)" font-size="17.5" font-weight="normal" fill="#141414" stroke="#141414" stroke-width="0.42"><tspan font-family="'Liberation Serif', serif" font-style="italic" font-size="1.08em">ω</tspan> (eV)</text>
<text transform="translate(401.16,350.07) scale(1.0269,1.0898)" font-size="17.5" font-weight="normal" fill="#141414" stroke="#141414" stroke-width="0.42"><tspan font-style="italic">k</tspan><tspan font-style="italic" font-size="0.7em" dy="0.2em">x</tspan><tspan dy="-0.2em"> (</tspan><tspan font-family="NanumGothic, 'Liberation Sans', sans-serif" font-size="0.91em" stroke-width="0.55">1</tspan>/Å)</text>
<text transform="translate(44.42,236.35) scale(1.0009,1.0113) rotate(-90)" font-size="18" font-weight="normal" fill="#141414" stroke="#141414" stroke-width="0.42">Intensity (arb. units)</text>
<text transform="translate(301.72,238.77) scale(0.9695,1.0136) rotate(-90)" font-size="18" font-weight="normal" fill="#141414" stroke="#141414" stroke-width="0.42">Intensity (arb. units)</text>
<text transform="translate(34.92,598.85) scale(1.0192,1.0211) rotate(-90)" font-size="18" font-weight="normal" fill="#e2282c" stroke="#e2282c" stroke-width="0.18">MDC Width Δ<tspan font-style="italic">k</tspan>(<tspan font-style="italic">E</tspan><tspan font-size="0.68em" dy="0.2em">F</tspan><tspan dy="-0.2em">) (</tspan><tspan font-family="NanumGothic, 'Liberation Sans', sans-serif" font-size="0.91em" stroke-width="0.55">1</tspan>/Å)</text>
<text transform="translate(552.42,409.30) scale(1.0067,1.0249) rotate(90)" font-size="18" font-weight="normal" fill="#4dab73" stroke="#4dab73" stroke-width="0.18">QP Weight (arb. units)</text>
<text transform="translate(128.84,579.10) scale(0.9746,1.0157) rotate(-90)" font-size="23.4" font-weight="bold" fill="#7957b3">Mott insulator</text>
</svg></body></html>
